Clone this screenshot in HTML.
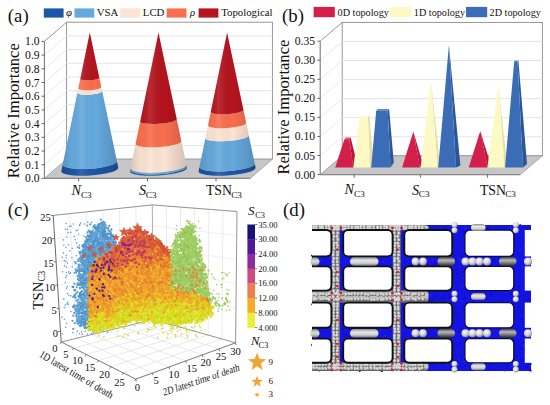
<!DOCTYPE html>
<html><head><meta charset="utf-8"><style>
html,body{margin:0;padding:0;background:#fff;}
svg{display:block;}
text{font-family:"Liberation Serif", serif;fill:#111;}
</style></head><body>
<svg width="550" height="405" viewBox="0 0 550 405">
<defs>
<linearGradient id="coneShade" x1="0" y1="0" x2="1" y2="0">
<stop offset="0" stop-color="#000" stop-opacity="0.14"/>
<stop offset="0.18" stop-color="#000" stop-opacity="0.02"/>
<stop offset="0.35" stop-color="#fff" stop-opacity="0.10"/>
<stop offset="0.6" stop-color="#000" stop-opacity="0.0"/>
<stop offset="1" stop-color="#000" stop-opacity="0.16"/>
</linearGradient>
<linearGradient id="grayTex" x1="0" y1="0" x2="0" y2="1">
<stop offset="0" stop-color="#7a7a7a"/><stop offset="0.3" stop-color="#d0d0d0"/><stop offset="0.6" stop-color="#bcbcbc"/><stop offset="1" stop-color="#5a5a5a"/>
</linearGradient>
<linearGradient id="grayTexV" x1="0" y1="0" x2="1" y2="0">
<stop offset="0" stop-color="#555"/><stop offset="0.25" stop-color="#d0d0d0"/><stop offset="0.5" stop-color="#707070"/><stop offset="0.75" stop-color="#d4d4d4"/><stop offset="1" stop-color="#555"/>
</linearGradient>
<radialGradient id="sphere" cx="0.4" cy="0.35" r="0.65">
<stop offset="0" stop-color="#fafafa"/><stop offset="0.6" stop-color="#d4d4d4"/><stop offset="1" stop-color="#8a8a8a"/>
</radialGradient>
<linearGradient id="pillG" x1="0" y1="0" x2="0" y2="1">
<stop offset="0" stop-color="#7a8a7a"/><stop offset="0.4" stop-color="#d8e0d0"/><stop offset="0.7" stop-color="#c0c8b8"/><stop offset="1" stop-color="#6a706a"/>
</linearGradient>
<linearGradient id="pillD" x1="0" y1="0" x2="0" y2="1">
<stop offset="0" stop-color="#3a3a3a"/><stop offset="0.35" stop-color="#b8b8b8"/><stop offset="0.6" stop-color="#8a8a8a"/><stop offset="1" stop-color="#2a2a2a"/>
</linearGradient>
<linearGradient id="pill" x1="0" y1="0" x2="0" y2="1">
<stop offset="0" stop-color="#8a8a8a"/><stop offset="0.35" stop-color="#e6e6e6"/><stop offset="0.7" stop-color="#cfcfcf"/><stop offset="1" stop-color="#707070"/>
</linearGradient>
</defs>
<rect x="66.6" y="22.2" width="205.79999999999998" height="137.00000000000003" fill="#fff" stroke="#8c8c8c" stroke-width="0.9"/>
<line x1="66.6" y1="35.90" x2="272.4" y2="35.90" stroke="#e2e2e2" stroke-width="0.9"/>
<line x1="66.6" y1="49.60" x2="272.4" y2="49.60" stroke="#e2e2e2" stroke-width="0.9"/>
<line x1="66.6" y1="63.30" x2="272.4" y2="63.30" stroke="#e2e2e2" stroke-width="0.9"/>
<line x1="66.6" y1="77.00" x2="272.4" y2="77.00" stroke="#e2e2e2" stroke-width="0.9"/>
<line x1="66.6" y1="90.70" x2="272.4" y2="90.70" stroke="#e2e2e2" stroke-width="0.9"/>
<line x1="66.6" y1="104.40" x2="272.4" y2="104.40" stroke="#e2e2e2" stroke-width="0.9"/>
<line x1="66.6" y1="118.10" x2="272.4" y2="118.10" stroke="#e2e2e2" stroke-width="0.9"/>
<line x1="66.6" y1="131.80" x2="272.4" y2="131.80" stroke="#e2e2e2" stroke-width="0.9"/>
<line x1="66.6" y1="145.50" x2="272.4" y2="145.50" stroke="#e2e2e2" stroke-width="0.9"/>
<line x1="44.4" y1="55.10" x2="66.6" y2="35.90" stroke="#e6e6e6" stroke-width="0.9"/>
<line x1="44.4" y1="68.80" x2="66.6" y2="49.60" stroke="#e6e6e6" stroke-width="0.9"/>
<line x1="44.4" y1="82.50" x2="66.6" y2="63.30" stroke="#e6e6e6" stroke-width="0.9"/>
<line x1="44.4" y1="96.20" x2="66.6" y2="77.00" stroke="#e6e6e6" stroke-width="0.9"/>
<line x1="44.4" y1="109.90" x2="66.6" y2="90.70" stroke="#e6e6e6" stroke-width="0.9"/>
<line x1="44.4" y1="123.60" x2="66.6" y2="104.40" stroke="#e6e6e6" stroke-width="0.9"/>
<line x1="44.4" y1="137.30" x2="66.6" y2="118.10" stroke="#e6e6e6" stroke-width="0.9"/>
<line x1="44.4" y1="151.00" x2="66.6" y2="131.80" stroke="#e6e6e6" stroke-width="0.9"/>
<line x1="44.4" y1="164.70" x2="66.6" y2="145.50" stroke="#e6e6e6" stroke-width="0.9"/>
<line x1="44.4" y1="41.4" x2="66.6" y2="22.2" stroke="#8c8c8c" stroke-width="0.9"/>
<polygon points="44.4,178.4 66.6,159.20000000000002 272.4,159.20000000000002 250.2,178.4" fill="#c6c6c6" stroke="#9a9a9a" stroke-width="0.8"/>
<line x1="44.4" y1="178.4" x2="250.2" y2="178.4" stroke="#8a8a8a" stroke-width="1.2"/>
<line x1="44.4" y1="41.4" x2="44.4" y2="178.4" stroke="#7a7a7a" stroke-width="1.1"/>
<line x1="41.6" y1="41.40" x2="44.4" y2="41.40" stroke="#555" stroke-width="0.9"/>
<text x="39.6" y="45.40" font-size="11.6" text-anchor="end">1.0</text>
<line x1="41.6" y1="55.10" x2="44.4" y2="55.10" stroke="#555" stroke-width="0.9"/>
<text x="39.6" y="59.10" font-size="11.6" text-anchor="end">0.9</text>
<line x1="41.6" y1="68.80" x2="44.4" y2="68.80" stroke="#555" stroke-width="0.9"/>
<text x="39.6" y="72.80" font-size="11.6" text-anchor="end">0.8</text>
<line x1="41.6" y1="82.50" x2="44.4" y2="82.50" stroke="#555" stroke-width="0.9"/>
<text x="39.6" y="86.50" font-size="11.6" text-anchor="end">0.7</text>
<line x1="41.6" y1="96.20" x2="44.4" y2="96.20" stroke="#555" stroke-width="0.9"/>
<text x="39.6" y="100.20" font-size="11.6" text-anchor="end">0.6</text>
<line x1="41.6" y1="109.90" x2="44.4" y2="109.90" stroke="#555" stroke-width="0.9"/>
<text x="39.6" y="113.90" font-size="11.6" text-anchor="end">0.5</text>
<line x1="41.6" y1="123.60" x2="44.4" y2="123.60" stroke="#555" stroke-width="0.9"/>
<text x="39.6" y="127.60" font-size="11.6" text-anchor="end">0.4</text>
<line x1="41.6" y1="137.30" x2="44.4" y2="137.30" stroke="#555" stroke-width="0.9"/>
<text x="39.6" y="141.30" font-size="11.6" text-anchor="end">0.3</text>
<line x1="41.6" y1="151.00" x2="44.4" y2="151.00" stroke="#555" stroke-width="0.9"/>
<text x="39.6" y="155.00" font-size="11.6" text-anchor="end">0.2</text>
<line x1="41.6" y1="164.70" x2="44.4" y2="164.70" stroke="#555" stroke-width="0.9"/>
<text x="39.6" y="168.70" font-size="11.6" text-anchor="end">0.1</text>
<line x1="41.6" y1="178.40" x2="44.4" y2="178.40" stroke="#555" stroke-width="0.9"/>
<text x="39.6" y="182.40" font-size="11.6" text-anchor="end">0.0</text>
<line x1="78.6" y1="178.4" x2="78.6" y2="181.4" stroke="#555" stroke-width="0.9"/>
<line x1="147.5" y1="178.4" x2="147.5" y2="181.4" stroke="#555" stroke-width="0.9"/>
<line x1="216.0" y1="178.4" x2="216.0" y2="181.4" stroke="#555" stroke-width="0.9"/>
<g transform="translate(89.8,0) skewY(-3.6) translate(-89.8,0)">
<path d="M62.65,163.02 A27.15,5.70 0 0 0 116.95,163.02 L118.30,169.50 A28.50,5.98 0 0 1 61.30,169.50 Z" fill="#1d56a6"/>
<path d="M77.40,92.06 A12.40,2.60 0 0 0 102.20,92.06 L116.95,163.02 A27.15,5.70 0 0 1 62.65,163.02 Z" fill="#64a9dd"/>
<path d="M78.29,87.78 A11.51,2.42 0 0 0 101.31,87.78 L102.20,92.06 A12.40,2.60 0 0 1 77.40,92.06 Z" fill="#fce3d3"/>
<path d="M80.26,78.28 A9.54,2.00 0 0 0 99.34,78.28 L101.31,87.78 A11.51,2.42 0 0 1 78.29,87.78 Z" fill="#f86e4e"/>
<path d="M89.80,32.39 L99.34,78.28 A9.54,2.00 0 0 1 80.26,78.28 Z" fill="#b3141e"/>
<path d="M89.80,32.39 L118.30,169.50 A28.50,5.98 0 0 1 61.30,169.50 Z" fill="url(#coneShade)"/>
</g>
<g transform="translate(158.5,0) skewY(-3.6) translate(-158.5,0)">
<path d="M130.23,168.40 A28.27,5.94 0 0 0 186.77,168.40 L187.00,169.50 A28.50,5.98 0 0 1 130.00,169.50 Z" fill="#1d56a6"/>
<path d="M130.60,166.61 A27.90,5.86 0 0 0 186.40,166.61 L186.77,168.40 A28.27,5.94 0 0 1 130.23,168.40 Z" fill="#64a9dd"/>
<path d="M135.64,142.35 A22.86,4.80 0 0 0 181.36,142.35 L186.40,166.61 A27.90,5.86 0 0 1 130.60,166.61 Z" fill="#fce3d3"/>
<path d="M140.28,120.03 A18.22,3.83 0 0 0 176.72,120.03 L181.36,142.35 A22.86,4.80 0 0 1 135.64,142.35 Z" fill="#f86e4e"/>
<path d="M158.50,32.39 L176.72,120.03 A18.22,3.83 0 0 1 140.28,120.03 Z" fill="#b3141e"/>
<path d="M158.50,32.39 L187.00,169.50 A28.50,5.98 0 0 1 130.00,169.50 Z" fill="url(#coneShade)"/>
</g>
<g transform="translate(227.1,0) skewY(-3.6) translate(-227.1,0)">
<path d="M199.46,165.37 A27.64,5.80 0 0 0 254.74,165.37 L255.60,169.50 A28.50,5.98 0 0 1 198.60,169.50 Z" fill="#1d56a6"/>
<path d="M205.45,136.57 A21.65,4.55 0 0 0 248.75,136.57 L254.74,165.37 A27.64,5.80 0 0 1 199.46,165.37 Z" fill="#64a9dd"/>
<path d="M208.05,124.03 A19.05,4.00 0 0 0 246.15,124.03 L248.75,136.57 A21.65,4.55 0 0 1 205.45,136.57 Z" fill="#fce3d3"/>
<path d="M210.80,110.80 A16.30,3.42 0 0 0 243.40,110.80 L246.15,124.03 A19.05,4.00 0 0 1 208.05,124.03 Z" fill="#f86e4e"/>
<path d="M227.10,32.39 L243.40,110.80 A16.30,3.42 0 0 1 210.80,110.80 Z" fill="#b3141e"/>
<path d="M227.10,32.39 L255.60,169.50 A28.50,5.98 0 0 1 198.60,169.50 Z" fill="url(#coneShade)"/>
</g>
<rect x="43.8" y="8.4" width="19.8" height="9.2" fill="#1d56a6"/>
<text x="66.0" y="16.2" font-size="10.8" font-style="italic">φ</text>
<rect x="74.5" y="8.4" width="19.8" height="9.2" fill="#64a9dd"/>
<text x="96.8" y="16.2" font-size="10.8">VSA</text>
<rect x="120.3" y="8.4" width="19.8" height="9.2" fill="#fce3d3"/>
<text x="142.8" y="16.2" font-size="10.8">LCD</text>
<rect x="166.7" y="8.4" width="19.8" height="9.2" fill="#f86e4e"/>
<text x="190.0" y="16.2" font-size="10.8" font-style="italic">ρ</text>
<rect x="198.6" y="8.4" width="19.8" height="9.2" fill="#b3141e"/>
<text x="221.2" y="16.2" font-size="10.8">Topological</text>
<text x="7.8" y="21.8" font-size="18.8">(a)</text>
<text transform="translate(19.4,178.2) rotate(-90)" font-size="16.6">Relative Importance</text>
<text x="71.4" y="194.9" font-size="14.2" font-style="italic">N</text><text x="80.9" y="197.7" font-size="9.2">C3</text>
<text x="139.0" y="195.3" font-size="14.2" font-style="italic">S</text><text x="145.8" y="197.9" font-size="9.2">C3</text>
<text x="205.9" y="195.3" font-size="13.8">TSN</text><text x="231.2" y="197.6" font-size="9.2">C3</text>
<rect x="342.2" y="22.400000000000002" width="200.2" height="133.39999999999998" fill="#fff" stroke="#8c8c8c" stroke-width="0.9"/>
<line x1="342.2" y1="41.46" x2="542.4" y2="41.46" stroke="#e2e2e2" stroke-width="0.9"/>
<line x1="342.2" y1="60.51" x2="542.4" y2="60.51" stroke="#e2e2e2" stroke-width="0.9"/>
<line x1="342.2" y1="79.57" x2="542.4" y2="79.57" stroke="#e2e2e2" stroke-width="0.9"/>
<line x1="342.2" y1="98.63" x2="542.4" y2="98.63" stroke="#e2e2e2" stroke-width="0.9"/>
<line x1="342.2" y1="117.69" x2="542.4" y2="117.69" stroke="#e2e2e2" stroke-width="0.9"/>
<line x1="342.2" y1="136.74" x2="542.4" y2="136.74" stroke="#e2e2e2" stroke-width="0.9"/>
<line x1="320.2" y1="60.26" x2="342.2" y2="41.46" stroke="#e6e6e6" stroke-width="0.9"/>
<line x1="320.2" y1="79.31" x2="342.2" y2="60.51" stroke="#e6e6e6" stroke-width="0.9"/>
<line x1="320.2" y1="98.37" x2="342.2" y2="79.57" stroke="#e6e6e6" stroke-width="0.9"/>
<line x1="320.2" y1="117.43" x2="342.2" y2="98.63" stroke="#e6e6e6" stroke-width="0.9"/>
<line x1="320.2" y1="136.49" x2="342.2" y2="117.69" stroke="#e6e6e6" stroke-width="0.9"/>
<line x1="320.2" y1="155.54" x2="342.2" y2="136.74" stroke="#e6e6e6" stroke-width="0.9"/>
<line x1="320.2" y1="41.2" x2="342.2" y2="22.400000000000002" stroke="#8c8c8c" stroke-width="0.9"/>
<polygon points="320.2,174.6 342.2,155.79999999999998 542.4,155.79999999999998 520.4,174.6" fill="#c6c6c6" stroke="#9a9a9a" stroke-width="0.8"/>
<line x1="320.2" y1="174.6" x2="520.4" y2="174.6" stroke="#8a8a8a" stroke-width="1.2"/>
<line x1="320.2" y1="41.2" x2="320.2" y2="174.6" stroke="#7a7a7a" stroke-width="1.1"/>
<line x1="317.4" y1="41.20" x2="320.2" y2="41.20" stroke="#555" stroke-width="0.9"/>
<text x="315.0" y="45.20" font-size="11.6" text-anchor="end">0.35</text>
<line x1="317.4" y1="60.26" x2="320.2" y2="60.26" stroke="#555" stroke-width="0.9"/>
<text x="315.0" y="64.26" font-size="11.6" text-anchor="end">0.30</text>
<line x1="317.4" y1="79.31" x2="320.2" y2="79.31" stroke="#555" stroke-width="0.9"/>
<text x="315.0" y="83.31" font-size="11.6" text-anchor="end">0.25</text>
<line x1="317.4" y1="98.37" x2="320.2" y2="98.37" stroke="#555" stroke-width="0.9"/>
<text x="315.0" y="102.37" font-size="11.6" text-anchor="end">0.20</text>
<line x1="317.4" y1="117.43" x2="320.2" y2="117.43" stroke="#555" stroke-width="0.9"/>
<text x="315.0" y="121.43" font-size="11.6" text-anchor="end">0.15</text>
<line x1="317.4" y1="136.49" x2="320.2" y2="136.49" stroke="#555" stroke-width="0.9"/>
<text x="315.0" y="140.49" font-size="11.6" text-anchor="end">0.10</text>
<line x1="317.4" y1="155.54" x2="320.2" y2="155.54" stroke="#555" stroke-width="0.9"/>
<text x="315.0" y="159.54" font-size="11.6" text-anchor="end">0.05</text>
<line x1="317.4" y1="174.60" x2="320.2" y2="174.60" stroke="#555" stroke-width="0.9"/>
<text x="315.0" y="178.60" font-size="11.6" text-anchor="end">0.00</text>
<line x1="354.2" y1="174.6" x2="354.2" y2="177.6" stroke="#555" stroke-width="0.9"/>
<line x1="420.4" y1="174.6" x2="420.4" y2="177.6" stroke="#555" stroke-width="0.9"/>
<line x1="487.6" y1="174.6" x2="487.6" y2="177.6" stroke="#555" stroke-width="0.9"/>
<polygon points="349.2,139.2 350.59999999999997,137.6 357.0,163.1 353.4,167.6" fill="#b8173e"/>
<polygon points="344.4,139.2 345.79999999999995,137.6 350.59999999999997,137.6 349.2,139.2" fill="#e4506f"/>
<polygon points="335.2,167.6 344.4,139.2 349.2,139.2 353.4,167.6" fill="#d41f4b"/>
<polygon points="367.9,116.9 369.29999999999995,115.30000000000001 373.6,163.1 370.0,167.6" fill="#e4dfa6"/>
<polygon points="359.6,116.9 361.0,115.30000000000001 369.29999999999995,115.30000000000001 367.9,116.9" fill="#fffbe0"/>
<polygon points="353.3,167.6 359.6,116.9 367.9,116.9 370.0,167.6" fill="#fdf9c4"/>
<polygon points="387.7,110.8 389.09999999999997,109.1 393.8,162.6 390.6,167.6" fill="#2b579a"/>
<polygon points="376.2,110.8 377.59999999999997,109.1 389.09999999999997,109.1 387.7,110.8" fill="#5a86c6"/>
<polygon points="371.2,167.6 376.2,110.8 387.7,110.8 390.6,167.6" fill="#3b6db6"/>
<polygon points="413.4,131.6 413.4,131.6 422.9,164.6 419.9,167.6" fill="#b8173e"/>
<polygon points="402.1,167.6 413.4,131.6 413.4,131.6 419.9,167.6" fill="#d41f4b"/>
<polygon points="430.9,80.8 430.9,80.8 440.1,164.6 437.6,167.6" fill="#e4dfa6"/>
<polygon points="420.6,167.6 430.9,80.8 430.9,80.8 437.6,167.6" fill="#fdf9c4"/>
<polygon points="448.9,45.0 448.9,45.0 460.4,165.4 456.0,167.6" fill="#2b579a"/>
<polygon points="438.2,167.6 448.9,45.0 448.9,45.0 456.0,167.6" fill="#3b6db6"/>
<polygon points="480.3,130.9 480.3,130.9 490.7,164.6 487.7,167.6" fill="#b8173e"/>
<polygon points="468.7,167.6 480.3,130.9 480.3,130.9 487.7,167.6" fill="#d41f4b"/>
<polygon points="498.3,85.3 498.3,85.3 507.1,164.6 504.6,167.6" fill="#e4dfa6"/>
<polygon points="487.4,167.6 498.3,85.3 498.3,85.3 504.6,167.6" fill="#fdf9c4"/>
<polygon points="517.6,61.2 518.4,60.6 527.0,164.1 523.0,167.6" fill="#2b579a"/>
<polygon points="514.2,61.2 515.0,60.6 518.4,60.6 517.6,61.2" fill="#5a86c6"/>
<polygon points="505.0,167.6 514.2,61.2 517.6,61.2 523.0,167.6" fill="#3b6db6"/>
<rect x="313.6" y="6.9" width="21.2" height="10.3" fill="#d41f4b"/>
<text x="337.6" y="15.6" font-size="10.2">0D topology</text>
<rect x="389.8" y="6.9" width="21.2" height="10.3" fill="#fdf9c4"/>
<text x="413.8" y="15.6" font-size="10.2">1D topology</text>
<rect x="466.0" y="6.9" width="21.2" height="10.3" fill="#3b6db6"/>
<text x="489.6" y="15.6" font-size="10.2">2D topology</text>
<text x="282.0" y="21.8" font-size="18.8">(b)</text>
<text transform="translate(289.4,174.6) rotate(-90)" font-size="16.6">Relative Importance</text>
<text x="344.6" y="194.2" font-size="14.2" font-style="italic">N</text><text x="354.1" y="197.0" font-size="9.2">C3</text>
<text x="412.0" y="194.6" font-size="14.2" font-style="italic">S</text><text x="418.8" y="197.2" font-size="9.2">C3</text>
<text x="479.9" y="194.6" font-size="13.8">TSN</text><text x="505.2" y="197.0" font-size="9.2">C3</text>
<polygon points="53.2,215.4 152.3,204.9 153.3,319.5 61.2,342.0" fill="#fff"/>
<line x1="69.7" y1="213.7" x2="76.6" y2="338.2" stroke="#e4e4e4" stroke-width="0.8"/>
<line x1="166.4" y1="206.0" x2="167.0" y2="323.4" stroke="#e4e4e4" stroke-width="0.8"/>
<line x1="86.2" y1="211.9" x2="91.9" y2="334.5" stroke="#e4e4e4" stroke-width="0.8"/>
<line x1="180.5" y1="207.1" x2="180.7" y2="327.3" stroke="#e4e4e4" stroke-width="0.8"/>
<line x1="102.8" y1="210.2" x2="107.2" y2="330.8" stroke="#e4e4e4" stroke-width="0.8"/>
<line x1="194.7" y1="208.2" x2="194.4" y2="331.1" stroke="#e4e4e4" stroke-width="0.8"/>
<line x1="119.3" y1="208.4" x2="122.6" y2="327.0" stroke="#e4e4e4" stroke-width="0.8"/>
<line x1="208.8" y1="209.3" x2="208.2" y2="335.0" stroke="#e4e4e4" stroke-width="0.8"/>
<line x1="135.8" y1="206.7" x2="138.0" y2="323.2" stroke="#e4e4e4" stroke-width="0.8"/>
<line x1="222.9" y1="210.4" x2="221.9" y2="338.9" stroke="#e4e4e4" stroke-width="0.8"/>
<polyline points="59.1,308.3 153.0,289.0 236.0,307.8" fill="none" stroke="#ececec" stroke-width="0.8"/>
<polyline points="57.6,285.1 152.9,268.0 236.2,283.7" fill="none" stroke="#ececec" stroke-width="0.8"/>
<polyline points="56.1,261.8 152.7,246.9 236.5,259.7" fill="none" stroke="#ececec" stroke-width="0.8"/>
<polyline points="54.7,238.6 152.5,225.9 236.7,235.6" fill="none" stroke="#ececec" stroke-width="0.8"/>
<polyline points="53.2,215.4 152.3,204.9 237.0,211.5" fill="none" stroke="#ececec" stroke-width="0.8"/>
<line x1="73.6" y1="348.2" x2="167.0" y2="323.4" stroke="#e2e2e2" stroke-width="0.8"/>
<line x1="152.4" y1="373.1" x2="76.6" y2="338.2" stroke="#e2e2e2" stroke-width="0.8"/>
<line x1="86.1" y1="354.4" x2="180.7" y2="327.3" stroke="#e2e2e2" stroke-width="0.8"/>
<line x1="169.1" y1="367.0" x2="91.9" y2="334.5" stroke="#e2e2e2" stroke-width="0.8"/>
<line x1="98.5" y1="360.6" x2="194.4" y2="331.1" stroke="#e2e2e2" stroke-width="0.8"/>
<line x1="185.7" y1="361.0" x2="107.2" y2="330.8" stroke="#e2e2e2" stroke-width="0.8"/>
<line x1="110.9" y1="366.7" x2="208.2" y2="335.0" stroke="#e2e2e2" stroke-width="0.8"/>
<line x1="202.3" y1="354.9" x2="122.6" y2="327.0" stroke="#e2e2e2" stroke-width="0.8"/>
<line x1="123.4" y1="372.9" x2="221.9" y2="338.9" stroke="#e2e2e2" stroke-width="0.8"/>
<line x1="219.0" y1="348.9" x2="138.0" y2="323.2" stroke="#e2e2e2" stroke-width="0.8"/>
<polyline points="53.2,215.4 152.3,204.9 237.0,211.5 235.6,342.8" fill="none" stroke="#8a8a8a" stroke-width="0.9"/>
<line x1="152.3" y1="204.9" x2="153.3" y2="319.5" stroke="#9a9a9a" stroke-width="0.8"/>
<polyline points="61.2,342.0 153.3,319.5 235.6,342.8" fill="none" stroke="#7a7a7a" stroke-width="0.8"/>
<polyline points="61.2,342.0 135.8,379.1 235.6,342.8" fill="none" stroke="#6a6a6a" stroke-width="0.9"/>
<line x1="53.2" y1="215.4" x2="61.2" y2="342.0" stroke="#6a6a6a" stroke-width="1"/>
<line x1="50.7" y1="215.4" x2="53.2" y2="215.4" stroke="#555" stroke-width="0.8"/>
<text x="50.7" y="221.0" font-size="10.4" text-anchor="end">25</text>
<line x1="52.2" y1="238.6" x2="54.7" y2="238.6" stroke="#555" stroke-width="0.8"/>
<text x="52.2" y="244.2" font-size="10.4" text-anchor="end">20</text>
<line x1="53.6" y1="261.8" x2="56.1" y2="261.8" stroke="#555" stroke-width="0.8"/>
<text x="53.6" y="267.4" font-size="10.4" text-anchor="end">15</text>
<line x1="55.1" y1="285.1" x2="57.6" y2="285.1" stroke="#555" stroke-width="0.8"/>
<text x="55.1" y="290.7" font-size="10.4" text-anchor="end">10</text>
<line x1="56.6" y1="308.3" x2="59.1" y2="308.3" stroke="#555" stroke-width="0.8"/>
<text x="56.6" y="313.9" font-size="10.4" text-anchor="end">5</text>
<line x1="58.0" y1="331.5" x2="60.5" y2="331.5" stroke="#555" stroke-width="0.8"/>
<text x="58.0" y="337.1" font-size="10.4" text-anchor="end">0</text>
<text x="55" y="352.3" font-size="10.6" text-anchor="middle">0</text>
<text x="66" y="358.3" font-size="10.6" text-anchor="middle">5</text>
<text x="77.6" y="364.3" font-size="10.6" text-anchor="middle">10</text>
<text x="90" y="370.7" font-size="10.6" text-anchor="middle">15</text>
<text x="104.4" y="377.7" font-size="10.6" text-anchor="middle">20</text>
<text x="119.6" y="386.3" font-size="10.6" text-anchor="middle">25</text>
<line x1="135.8" y1="379.1" x2="136.4" y2="381.3" stroke="#555" stroke-width="0.7"/>
<line x1="152.4" y1="373.1" x2="153.0" y2="375.2" stroke="#555" stroke-width="0.7"/>
<line x1="169.1" y1="367.0" x2="169.7" y2="369.2" stroke="#555" stroke-width="0.7"/>
<line x1="185.7" y1="361.0" x2="186.3" y2="363.2" stroke="#555" stroke-width="0.7"/>
<line x1="202.3" y1="354.9" x2="202.9" y2="357.1" stroke="#555" stroke-width="0.7"/>
<line x1="219.0" y1="348.9" x2="219.6" y2="351.1" stroke="#555" stroke-width="0.7"/>
<line x1="235.6" y1="342.8" x2="236.2" y2="345.0" stroke="#555" stroke-width="0.7"/>
<line x1="61.2" y1="342.0" x2="60.0" y2="344.0" stroke="#555" stroke-width="0.7"/>
<line x1="73.6" y1="348.2" x2="72.4" y2="350.2" stroke="#555" stroke-width="0.7"/>
<line x1="86.1" y1="354.4" x2="84.9" y2="356.4" stroke="#555" stroke-width="0.7"/>
<line x1="98.5" y1="360.6" x2="97.3" y2="362.6" stroke="#555" stroke-width="0.7"/>
<line x1="110.9" y1="366.7" x2="109.7" y2="368.7" stroke="#555" stroke-width="0.7"/>
<line x1="123.4" y1="372.9" x2="122.2" y2="374.9" stroke="#555" stroke-width="0.7"/>
<line x1="135.8" y1="379.1" x2="134.6" y2="381.1" stroke="#555" stroke-width="0.7"/>
<text x="137.3" y="391.0" font-size="10.6" text-anchor="middle">0</text>
<text x="156.1" y="384.3" font-size="10.6" text-anchor="middle">5</text>
<text x="173.9" y="378.0" font-size="10.6" text-anchor="middle">10</text>
<text x="191.7" y="371.7" font-size="10.6" text-anchor="middle">15</text>
<text x="205.7" y="365.9" font-size="10.6" text-anchor="middle">20</text>
<text x="221" y="360.2" font-size="10.6" text-anchor="middle">25</text>
<text x="235.6" y="355.0" font-size="10.6" text-anchor="middle">30</text>
<text transform="translate(38.4,356.2) rotate(30.5) scale(0.87,1)" font-size="10.6">1D latest time of death</text>
<text transform="translate(163.8,395.8) rotate(-18.4) skewX(-8) scale(0.85,1)" font-size="10.4">2D latest time of death</text>
<text transform="translate(43.4,309.4) rotate(-90)" font-size="14.6">TSN</text>
<text transform="translate(44.9,281.6) rotate(-90)" font-size="9.3">C3</text>
<text x="7.8" y="215.6" font-size="18.8">(c)</text>
<path d="M91.4 308.1h0M84.6 282.5h0M93.2 291.8h0M90.0 283.6h0M95.9 238.2h0M106.0 273.6h0M88.5 282.5h0M96.4 315.6h0M100.4 271.6h0M108.4 237.2h0M94.6 294.6h0M100.9 280.0h0M89.6 257.5h0M101.8 290.1h0M90.8 234.4h0M88.1 262.7h0M90.5 235.5h0M114.3 249.8h0M84.6 265.4h0M84.0 265.9h0M115.3 241.4h0M99.0 294.5h0M83.9 284.4h0M104.7 242.7h0M101.7 226.7h0M89.1 241.7h0M91.1 323.6h0M100.1 260.7h0M97.2 241.0h0M96.0 287.8h0M84.9 245.6h0M77.8 318.7h0M88.8 304.9h0M97.3 259.5h0M81.5 256.4h0M96.0 299.5h0M97.0 300.6h0M85.2 307.8h0M93.5 238.1h0M76.5 316.4h0M96.1 289.5h0M84.7 255.7h0M85.4 266.8h0M93.1 320.6h0M90.4 293.6h0M88.2 316.4h0M111.7 246.2h0M75.3 297.3h0M92.5 245.1h0M97.4 300.2h0M108.4 255.4h0M110.1 246.7h0M88.7 239.7h0M92.8 274.0h0M83.4 258.1h0M113.9 253.5h0M89.3 299.6h0M93.0 322.2h0M111.8 256.9h0M87.9 278.9h0M93.3 273.6h0M85.9 293.1h0M96.4 256.6h0M102.6 244.8h0M89.9 310.7h0M97.9 243.8h0M83.4 264.3h0M103.0 248.1h0M97.3 272.2h0M111.6 257.4h0M85.5 271.7h0M105.3 266.9h0M99.4 285.9h0M91.5 282.7h0M80.6 251.6h0M83.7 294.2h0M98.1 226.8h0M100.0 289.1h0M110.6 256.7h0M101.8 256.5h0M93.9 289.7h0M98.6 258.0h0M85.2 326.7h0M80.2 303.4h0M91.3 321.7h0M97.4 256.9h0M78.5 309.6h0M94.1 245.0h0M86.5 292.2h0M100.1 279.7h0M92.6 266.3h0M109.8 230.9h0M84.4 319.9h0M87.1 286.9h0M83.3 318.9h0M83.6 308.8h0M90.7 306.6h0M103.3 255.8h0M104.9 237.3h0M102.7 263.5h0M88.1 277.9h0M87.1 324.1h0M107.9 250.7h0M108.6 240.1h0M87.5 308.6h0M88.9 286.3h0M95.8 307.7h0M94.5 263.7h0M82.3 257.9h0M93.4 289.8h0M96.2 228.7h0M79.9 305.2h0M93.0 233.2h0M80.2 323.6h0M79.2 266.7h0M105.2 245.5h0M82.6 262.9h0M109.3 234.2h0M95.2 323.0h0M83.1 264.9h0M91.9 279.7h0M92.7 294.0h0M88.4 264.4h0M97.0 240.7h0M97.0 235.0h0M94.3 237.6h0M105.7 236.5h0M85.5 250.7h0M110.3 237.3h0M86.3 286.9h0M104.2 259.9h0M97.0 309.6h0M87.2 288.7h0M92.7 275.8h0M79.7 294.8h0M104.4 224.5h0M88.8 291.7h0M101.3 244.1h0M104.5 234.4h0M111.0 241.6h0M86.8 321.6h0M87.5 293.0h0M104.2 247.0h0M99.0 245.1h0M92.1 235.1h0M103.3 233.2h0M93.9 262.2h0M98.5 296.5h0M86.1 303.2h0M85.6 265.9h0M95.4 273.8h0M91.4 265.6h0M97.2 241.3h0M93.5 245.0h0M104.5 240.9h0M105.7 243.1h0M84.3 300.3h0M93.6 238.7h0M101.0 244.2h0M94.6 269.4h0M98.1 289.2h0M88.3 246.0h0M84.1 298.6h0M93.4 246.5h0M100.3 263.5h0M86.2 313.8h0M89.3 274.4h0M103.9 282.9h0M90.7 263.6h0M94.9 288.7h0M88.1 279.8h0M103.1 253.1h0M85.4 254.1h0M98.4 256.2h0M113.8 247.0h0M111.8 247.0h0M100.7 246.0h0M80.4 299.1h0M96.9 285.1h0M98.0 269.1h0M104.1 230.8h0M93.2 306.8h0M96.5 319.6h0M92.7 281.3h0M88.8 262.2h0M91.5 236.3h0M88.3 322.7h0M93.3 314.4h0M84.4 295.2h0M89.6 319.8h0M101.3 232.6h0M100.9 277.7h0M106.3 257.2h0M83.9 325.5h0M85.0 250.8h0M93.2 254.0h0M89.5 282.8h0M94.0 323.0h0M81.7 306.9h0M101.4 260.5h0M96.7 239.3h0M104.3 264.0h0M88.1 256.5h0M103.7 282.1h0M84.9 279.2h0M94.8 279.9h0M95.8 286.3h0M103.7 289.2h0M92.2 279.3h0M95.3 324.9h0M103.5 235.3h0M103.0 278.2h0M102.5 223.4h0M95.2 311.2h0M81.7 276.6h0M91.6 291.7h0M102.1 285.6h0M101.4 268.5h0M101.4 286.1h0M103.0 270.2h0M99.0 259.0h0M99.1 231.4h0M93.2 236.0h0M95.4 251.5h0M79.7 325.9h0M98.1 308.6h0" stroke="#5a9fd3" stroke-width="2.2" stroke-linecap="round" fill="none"/>
<path d="M100.8 228.6h0M102.3 287.0h0M85.1 246.3h0M84.2 321.3h0M94.1 307.3h0M113.3 237.1h0M92.8 278.6h0M81.8 324.8h0M96.2 259.8h0M95.5 285.6h0M104.4 244.1h0M87.8 305.0h0M112.7 235.8h0M99.7 306.7h0M97.7 303.3h0M107.8 248.4h0M91.7 279.2h0M105.5 233.9h0M97.0 313.0h0M97.8 237.8h0M81.6 309.2h0M94.0 266.9h0M84.9 244.7h0M111.3 247.0h0M81.7 262.6h0M89.8 291.9h0M83.1 295.2h0M101.3 267.0h0M104.4 226.7h0M96.8 251.9h0M104.6 230.8h0M103.3 244.7h0M95.5 247.1h0M98.7 280.3h0M104.3 270.2h0M85.0 249.4h0M88.4 292.0h0M77.1 321.2h0M89.1 304.8h0M85.6 325.5h0M83.8 264.5h0M87.4 317.4h0M83.5 322.4h0M102.7 249.2h0M83.0 263.9h0M88.7 261.3h0M100.8 279.1h0M76.5 315.7h0M99.0 261.4h0M96.4 233.7h0M89.5 290.0h0M90.7 311.3h0M86.4 302.3h0M91.7 257.2h0M97.9 269.3h0M83.9 263.3h0M103.6 277.2h0M77.5 311.3h0M101.0 295.0h0M109.7 246.3h0M86.2 268.8h0M112.1 254.8h0M91.1 237.5h0M100.4 235.1h0M101.2 252.5h0M97.4 314.4h0M98.8 296.3h0M97.8 303.7h0M101.1 277.1h0M76.0 306.3h0M90.6 264.9h0M95.2 289.7h0M85.8 278.4h0M82.3 280.3h0M97.8 233.9h0M101.0 236.6h0M104.3 235.8h0M89.6 272.2h0M94.4 248.9h0M85.8 244.3h0M97.0 306.2h0M95.0 264.0h0M97.1 313.2h0M98.2 228.6h0M100.1 253.3h0M87.5 293.7h0M79.4 303.6h0M89.4 265.5h0M105.2 252.3h0M81.1 292.2h0" stroke="#4a8cc6" stroke-width="2.2" stroke-linecap="round" fill="none"/>
<path d="M100.3 266.9h0M85.6 274.0h0M102.1 288.8h0M98.5 230.5h0M85.7 321.8h0M88.9 254.6h0M90.8 309.7h0M80.8 302.8h0M86.9 263.1h0M99.4 261.1h0M82.7 271.5h0M98.7 261.8h0M106.2 254.7h0M87.1 303.1h0M80.5 268.0h0M91.3 328.9h0M81.0 253.3h0M93.2 308.5h0M105.5 258.3h0M107.4 251.8h0M94.3 246.7h0M95.6 314.3h0M94.6 281.6h0M89.3 289.3h0M96.1 278.7h0M80.5 316.6h0M102.5 252.0h0M85.1 241.3h0M94.6 254.0h0M83.3 275.8h0M103.2 258.1h0M79.4 304.2h0M101.5 260.6h0M89.3 231.6h0M99.0 260.6h0M97.3 298.7h0M101.2 261.3h0M96.0 254.1h0M88.3 239.4h0M83.9 262.1h0M107.4 276.0h0M104.2 257.5h0M105.4 265.9h0M84.6 249.7h0M81.7 281.1h0M85.8 268.2h0M92.7 321.3h0M91.5 293.8h0M84.9 324.2h0M95.5 232.6h0M90.9 253.0h0M89.6 305.9h0M96.9 266.5h0M92.4 312.8h0M93.1 276.9h0M84.4 304.1h0M87.2 313.6h0" stroke="#6aaad8" stroke-width="2.2" stroke-linecap="round" fill="none"/>
<path d="M109.5 255.8h0M93.8 314.7h0M108.9 250.0h0M88.5 261.6h0M96.5 323.5h0M75.9 293.7h0M90.0 316.2h0M93.5 279.1h0M90.9 298.2h0M86.9 272.6h0M100.6 265.4h0M79.3 270.9h0M86.3 269.9h0M95.1 287.7h0M110.2 242.2h0M84.9 265.5h0M83.1 250.0h0M93.4 293.1h0M94.6 242.0h0M108.3 253.6h0M87.1 308.0h0M107.8 250.8h0M105.0 279.9h0M89.0 307.7h0M94.3 279.9h0M93.5 232.9h0M111.0 239.1h0M103.6 251.4h0M98.4 271.2h0M105.7 238.4h0M110.2 257.8h0M100.9 289.1h0M88.7 298.2h0M89.7 264.4h0M93.9 236.9h0M91.1 247.3h0M92.3 290.1h0M88.9 243.7h0M85.0 248.1h0M78.7 296.7h0M82.0 268.3h0M83.0 281.0h0M96.6 318.5h0M83.7 322.9h0M79.5 306.4h0M87.6 291.8h0M99.1 292.4h0M89.7 276.0h0M104.7 267.0h0M91.4 238.4h0M81.0 326.0h0M96.9 235.8h0M90.1 282.4h0M78.4 283.6h0M95.7 260.1h0M92.3 236.8h0M98.8 313.6h0M93.5 268.4h0M86.1 320.5h0M89.5 285.5h0M99.2 287.3h0M94.0 327.1h0M92.0 262.9h0M86.7 240.5h0M105.6 237.4h0M106.7 234.8h0M74.8 295.7h0M89.0 296.2h0M103.9 222.3h0M78.5 279.9h0M103.5 247.4h0M109.6 237.7h0M82.9 283.7h0M95.5 226.8h0M79.4 303.5h0M88.7 236.7h0M91.0 325.8h0M85.8 301.7h0M87.9 318.5h0M87.0 272.6h0M98.0 256.7h0M103.4 272.0h0M92.2 315.5h0M99.6 225.5h0M90.9 237.0h0M97.9 281.0h0M105.6 276.5h0M84.1 246.4h0M103.0 263.8h0M77.2 308.2h0M89.4 275.0h0M95.6 240.3h0M99.4 239.5h0M103.5 266.3h0M108.8 248.2h0M106.5 270.9h0M96.1 293.7h0M106.2 271.1h0M95.7 269.6h0M83.7 247.5h0M106.6 242.2h0M99.3 262.2h0M93.5 267.8h0M87.3 264.5h0M100.6 297.0h0M85.1 312.0h0M100.2 258.4h0M92.6 282.6h0M102.2 269.8h0M77.5 285.1h0M84.9 327.9h0M93.0 309.1h0M105.0 232.2h0M86.4 255.9h0M99.9 295.9h0M112.5 237.4h0M90.4 231.3h0M93.5 254.9h0M88.2 292.6h0M94.8 280.3h0M101.3 277.6h0M98.1 272.8h0M89.3 292.7h0M84.3 278.7h0M99.3 248.8h0M91.9 242.2h0M79.3 280.3h0M81.2 303.2h0M108.8 260.8h0M96.2 231.1h0M104.6 246.4h0M82.6 250.1h0M110.0 261.2h0M88.3 278.4h0M92.2 320.8h0M91.8 306.1h0M90.1 248.8h0M100.5 251.7h0M101.5 231.1h0M106.0 270.9h0M87.9 286.1h0M87.5 316.9h0M88.5 253.7h0M90.1 293.8h0M102.9 297.6h0M82.3 276.2h0M91.4 297.3h0M105.3 247.4h0M87.0 293.5h0M81.4 284.2h0M88.7 259.5h0M82.0 307.3h0M92.1 255.6h0M88.0 310.0h0M90.7 312.1h0M95.0 287.7h0M83.9 307.0h0M89.1 236.9h0M72.5 286.7h0M105.6 275.6h0M103.6 272.7h0M88.6 301.8h0M75.6 269.3h0M91.1 299.3h0M94.8 276.7h0M96.5 273.3h0M104.9 255.5h0M84.4 253.9h0M104.4 228.2h0M109.5 249.6h0M98.4 284.2h0M104.2 269.0h0M92.5 283.3h0M90.8 250.1h0M85.5 270.2h0M105.2 267.0h0M97.4 251.1h0M103.7 254.5h0M103.4 282.1h0M89.1 316.9h0M102.8 273.5h0M96.0 307.6h0M92.0 278.6h0M99.2 283.2h0M91.4 271.0h0M78.9 308.5h0M113.1 257.5h0M85.7 260.4h0M91.1 275.7h0M96.8 291.9h0M97.2 255.0h0M85.0 263.7h0M97.2 277.2h0M93.8 304.2h0M95.7 267.4h0M100.4 279.9h0M81.6 309.7h0M95.4 319.4h0M86.1 269.4h0M101.9 271.1h0M110.4 266.7h0M94.3 265.7h0M90.4 236.7h0M81.0 297.4h0M90.4 317.4h0M99.3 286.1h0M105.0 241.0h0M103.6 245.4h0M90.2 224.4h0M105.8 255.0h0M109.2 260.0h0M82.4 310.5h0M83.1 312.1h0M88.5 265.6h0M94.4 242.7h0M95.8 231.5h0M99.2 275.3h0M85.3 265.7h0M93.6 294.6h0M87.2 278.1h0M112.7 250.0h0M86.8 273.2h0M105.2 267.6h0M101.3 257.3h0M98.8 268.7h0M84.2 288.1h0" stroke="#5a9fd3" stroke-width="2.2" stroke-linecap="round" fill="none"/>
<path d="M92.9 259.9h0M111.1 235.9h0M81.9 298.3h0M84.9 256.0h0M99.5 296.6h0M115.9 245.9h0M84.9 320.7h0M110.1 247.6h0M96.1 257.3h0M84.2 260.9h0M83.5 265.5h0M97.1 291.7h0M81.8 284.8h0M82.1 297.8h0M87.0 239.6h0M83.5 274.4h0M86.6 325.1h0M102.0 258.6h0M98.3 262.8h0M82.0 316.6h0M88.0 236.2h0M82.0 291.0h0M109.4 248.9h0M95.7 275.0h0M117.6 249.4h0M110.4 233.1h0M93.6 265.1h0M83.1 303.7h0M79.8 258.4h0M84.0 253.8h0M102.9 249.7h0M89.1 318.6h0M110.9 257.5h0M102.7 261.2h0M86.7 252.9h0M96.7 261.6h0M103.1 275.5h0M94.8 277.7h0M96.8 266.7h0M110.4 238.8h0M78.6 313.9h0M91.7 327.8h0M111.8 245.8h0M88.9 274.8h0M100.7 270.2h0M90.8 232.8h0M82.1 287.3h0M110.9 244.3h0M82.6 268.9h0M104.1 265.9h0M107.6 248.1h0M82.6 262.7h0M80.8 274.7h0M85.5 306.9h0M104.1 237.1h0M98.8 283.1h0M77.7 276.1h0M88.0 293.8h0M83.9 272.7h0M83.5 287.0h0M90.0 312.5h0M102.8 270.4h0M80.3 308.5h0M89.7 254.5h0M107.5 255.4h0M100.3 251.5h0M80.7 322.4h0M99.2 284.3h0M85.4 285.9h0M77.6 321.4h0M81.4 306.5h0M86.5 298.6h0M91.4 256.6h0M80.8 277.9h0M101.7 256.1h0M101.5 256.1h0M89.7 237.1h0M94.7 307.0h0M94.4 327.1h0M84.8 324.1h0M87.3 266.3h0M95.2 324.0h0M90.8 233.3h0M101.7 268.4h0M81.4 261.0h0M103.3 229.2h0M97.0 292.5h0M81.4 321.5h0M93.8 282.1h0" stroke="#4a8cc6" stroke-width="2.2" stroke-linecap="round" fill="none"/>
<path d="M84.3 264.1h0M78.7 269.5h0M85.5 242.4h0M100.5 254.3h0M92.1 242.8h0M90.4 321.5h0M103.2 226.5h0M102.1 267.8h0M90.6 316.9h0M103.4 249.8h0M82.8 310.2h0M88.0 300.3h0M99.0 305.2h0M93.3 307.3h0M100.9 241.3h0M83.4 297.4h0M95.9 314.9h0M93.1 230.0h0M99.5 241.8h0M105.3 254.7h0M96.9 299.1h0M97.9 266.4h0M107.4 276.8h0M91.8 275.6h0M87.6 261.6h0M86.6 290.7h0M89.2 318.9h0M94.2 294.1h0M102.0 245.7h0M76.8 309.1h0M103.5 281.7h0M92.1 256.2h0M94.0 261.7h0M99.1 316.8h0M78.1 259.6h0M82.2 287.3h0M83.8 311.4h0M102.1 230.7h0M100.7 276.0h0M106.1 254.9h0M98.7 261.6h0M95.5 291.7h0M77.7 247.0h0M108.8 259.7h0M99.8 293.0h0M98.1 307.2h0M91.3 300.4h0M83.3 298.5h0M82.1 253.3h0M85.2 254.0h0M86.1 316.2h0M78.7 315.1h0M98.0 254.1h0M94.3 268.4h0M102.1 269.9h0M86.3 293.2h0M96.9 247.0h0" stroke="#6aaad8" stroke-width="2.2" stroke-linecap="round" fill="none"/>
<path d="M99.0 261.6h0M89.9 301.8h0M88.4 290.6h0M95.8 237.2h0M79.7 302.0h0M103.1 271.0h0M107.3 245.2h0M78.9 273.7h0M94.9 279.2h0M93.9 258.7h0M91.4 258.7h0M108.3 266.3h0M81.5 325.0h0M102.3 242.0h0M106.2 279.7h0M85.6 322.8h0M96.6 316.4h0M99.5 252.0h0M107.0 243.7h0M103.8 223.6h0M106.4 267.7h0M103.7 242.9h0M87.0 279.6h0M85.2 274.1h0M100.8 256.4h0M78.2 267.5h0M104.0 239.0h0M91.6 240.4h0M89.8 251.5h0M85.1 255.5h0M100.0 295.1h0M84.6 313.0h0M93.6 244.4h0M86.7 254.5h0M99.2 265.4h0M98.8 271.1h0M105.4 278.4h0M88.7 280.6h0M91.8 242.0h0M98.1 302.9h0M90.9 280.0h0M99.0 289.5h0M99.0 244.2h0M99.6 224.1h0M87.5 290.1h0M95.9 319.3h0M104.5 270.8h0M76.7 287.3h0M89.4 320.0h0M100.8 219.6h0M73.2 315.7h0M79.2 305.1h0M85.6 303.3h0M90.9 264.2h0M93.8 226.3h0M81.5 265.7h0M107.8 278.9h0M100.6 253.4h0M95.1 327.4h0M94.5 309.1h0M84.3 325.4h0M97.3 267.3h0M95.6 322.5h0M78.9 306.1h0M86.3 321.9h0M86.9 291.9h0M102.2 261.4h0M77.0 305.8h0M83.1 282.1h0M86.9 307.7h0M86.3 281.3h0M83.3 270.2h0M98.5 254.1h0M76.0 310.9h0M103.0 224.3h0M80.3 308.2h0M97.4 252.1h0M102.6 274.8h0M98.6 247.4h0M96.7 249.0h0M93.6 324.3h0M86.9 319.1h0M97.8 269.2h0M88.9 230.7h0M82.6 284.6h0M82.7 286.6h0M90.4 329.5h0M103.0 252.4h0M94.0 273.4h0M100.7 271.9h0M96.4 262.3h0M105.4 273.5h0M97.1 254.8h0M103.0 231.9h0M85.8 270.1h0M78.0 278.9h0M84.2 301.8h0M99.2 238.6h0M108.5 253.3h0M87.9 310.7h0M80.0 320.2h0M100.6 281.0h0M96.7 310.5h0M79.9 316.9h0M105.5 258.0h0M104.5 270.6h0M85.9 281.9h0M87.4 232.4h0M78.0 302.6h0M102.3 297.4h0M80.9 262.1h0M94.5 286.6h0M103.2 237.1h0M85.4 304.1h0M98.0 294.0h0M98.7 284.9h0M85.8 260.8h0M98.4 292.8h0M80.1 274.2h0M96.2 271.7h0M100.8 286.2h0M96.5 239.6h0M103.3 238.7h0M86.0 266.1h0M95.0 295.6h0M97.5 261.0h0M104.2 241.7h0M86.1 240.3h0M107.0 236.2h0M95.8 275.4h0M91.4 263.0h0M88.6 276.3h0M89.3 254.0h0M89.1 291.1h0M86.5 240.1h0M96.4 272.7h0M87.8 303.2h0M88.9 319.2h0M102.8 235.2h0M91.4 311.7h0M80.9 322.2h0M99.8 307.3h0M96.0 320.0h0M87.9 239.6h0M96.7 323.0h0M91.7 257.5h0M79.9 269.6h0M91.5 259.5h0M98.7 242.4h0M91.3 323.3h0M97.1 280.4h0M87.8 300.9h0M96.0 236.1h0M96.1 300.0h0M102.6 277.5h0M107.5 242.0h0M98.8 274.7h0M79.6 283.7h0M100.7 237.5h0M82.2 264.5h0M84.2 289.3h0M108.3 243.6h0M94.3 237.0h0M89.3 264.8h0M107.0 247.2h0M96.0 309.7h0M74.5 283.8h0M89.0 310.8h0M83.1 283.8h0M86.1 306.2h0M106.9 247.5h0M106.7 238.7h0M107.6 246.2h0M91.1 269.0h0M96.3 278.2h0M96.7 276.5h0M91.5 245.6h0M102.9 245.1h0M85.7 315.4h0M95.7 232.9h0M87.8 324.4h0M79.0 322.7h0M112.7 240.8h0M92.7 301.1h0M96.4 261.5h0M98.2 270.4h0M87.9 287.6h0M90.1 317.0h0M102.5 265.6h0M94.1 242.1h0M91.9 233.8h0M88.2 257.3h0M89.1 279.9h0M100.0 271.3h0M88.5 325.6h0M95.9 251.4h0M83.9 253.7h0M102.7 260.4h0M79.6 264.8h0M97.5 304.2h0M98.4 279.6h0M89.8 326.3h0M100.2 276.0h0M81.8 283.3h0M94.3 289.8h0M87.1 319.8h0M94.8 241.9h0M98.4 266.9h0M86.2 274.7h0M74.7 323.2h0M105.7 271.8h0M83.8 301.0h0M97.1 287.8h0M96.6 241.6h0M106.1 275.6h0M96.9 320.9h0M78.0 299.8h0M101.7 245.4h0M94.4 240.5h0M82.8 306.5h0M94.3 234.8h0M96.1 302.0h0M78.7 318.5h0M108.5 244.7h0M94.2 247.0h0M100.3 276.1h0" stroke="#5a9fd3" stroke-width="2.2" stroke-linecap="round" fill="none"/>
<path d="M95.5 264.8h0M98.5 249.6h0M93.7 320.9h0M107.6 252.6h0M99.6 294.0h0M100.9 253.5h0M94.1 281.6h0M83.1 294.5h0M90.1 325.2h0M97.1 242.9h0M96.0 262.5h0M91.2 314.9h0M105.5 271.7h0M93.5 306.3h0M104.5 276.2h0M98.2 257.0h0M93.3 273.0h0M96.7 268.2h0M82.4 278.6h0M91.9 251.9h0M95.4 311.3h0M73.2 287.2h0M84.6 327.4h0M82.9 286.8h0M95.0 260.8h0M103.7 292.3h0M84.9 269.2h0M79.8 321.1h0M90.5 259.7h0M103.6 278.2h0M104.3 255.5h0M105.2 252.1h0M88.5 283.7h0M90.7 300.3h0M80.4 280.3h0M105.7 243.1h0M87.6 320.9h0M94.9 255.5h0M93.1 321.9h0M87.5 267.8h0M101.6 286.9h0M95.1 276.0h0M101.2 286.7h0M92.0 322.2h0M103.5 228.8h0M90.2 297.5h0M90.7 235.6h0M88.4 243.1h0M84.9 296.5h0M91.8 322.5h0M87.0 304.4h0M104.4 240.8h0M92.2 323.7h0M92.8 261.0h0M92.6 271.6h0M97.8 278.0h0M87.0 257.2h0M86.5 315.3h0M91.5 265.0h0M81.3 303.5h0M95.4 255.9h0M103.2 247.6h0M89.7 294.2h0M91.6 302.9h0M93.8 302.9h0M91.9 238.4h0M83.3 260.7h0M106.7 247.0h0M85.5 252.7h0M85.8 295.7h0M90.1 247.8h0M86.2 302.9h0M94.0 238.0h0M101.3 234.0h0M103.7 265.1h0M107.5 253.2h0M103.9 282.7h0M108.1 260.5h0M93.7 309.9h0M86.1 260.4h0M80.2 260.4h0M89.2 250.7h0M83.4 318.8h0M90.9 257.6h0M79.8 288.0h0M73.3 328.8h0M96.0 270.7h0M99.2 259.7h0M104.8 290.7h0" stroke="#4a8cc6" stroke-width="2.2" stroke-linecap="round" fill="none"/>
<path d="M84.0 263.0h0M100.3 235.9h0M96.4 320.3h0M94.2 271.0h0M103.2 225.9h0M97.2 294.9h0M89.3 251.0h0M82.8 265.7h0M88.6 240.7h0M99.1 266.9h0M100.1 301.7h0M108.1 255.3h0M104.9 243.2h0M84.2 278.5h0M109.4 258.7h0M89.4 284.4h0M91.6 305.7h0M102.8 247.4h0M91.6 278.2h0M97.4 229.7h0M104.1 227.9h0M93.1 288.7h0M103.9 245.8h0M105.7 280.5h0M111.4 236.1h0M94.8 225.1h0M92.7 251.7h0M112.0 260.7h0M86.8 252.1h0M108.0 244.7h0M98.4 297.0h0M97.2 251.1h0M100.3 243.3h0M95.2 252.2h0M86.2 320.9h0M92.2 251.3h0M102.1 248.1h0M99.8 238.7h0M91.4 234.1h0M78.5 317.4h0M96.7 302.1h0M87.6 272.3h0M97.8 282.0h0M89.0 311.1h0M87.6 270.6h0M103.1 241.6h0M100.9 267.2h0M83.7 248.4h0M107.2 237.8h0M101.5 276.0h0M110.9 249.4h0M102.8 288.3h0M102.2 289.4h0M97.3 282.0h0M112.6 247.8h0M89.8 324.0h0M90.6 284.2h0" stroke="#6aaad8" stroke-width="2.2" stroke-linecap="round" fill="none"/>
<path d="M94.9 227.2h0M79.3 272.0h0M92.3 313.5h0M81.0 258.9h0M95.0 303.7h0M88.4 324.3h0M84.0 251.7h0M103.9 279.3h0M92.2 322.2h0M102.6 221.5h0M96.4 319.3h0M95.4 311.7h0M81.2 324.3h0M93.5 291.9h0M90.0 255.8h0M102.6 270.5h0M89.7 277.0h0M88.0 247.2h0M82.2 303.3h0M101.7 264.1h0M85.0 252.1h0M82.1 245.8h0M89.1 248.3h0M74.7 272.7h0M91.0 283.0h0M98.1 232.1h0M105.8 249.5h0M103.9 228.0h0M96.8 258.6h0M81.7 300.1h0M92.8 312.2h0M96.6 252.2h0M108.6 230.8h0M102.9 282.1h0M80.7 288.1h0M86.7 286.9h0M84.4 264.2h0M79.1 321.2h0M89.9 287.8h0M88.9 314.6h0M104.1 267.3h0M98.0 271.4h0M100.8 249.9h0M88.5 297.3h0M95.1 252.7h0M104.2 253.4h0M77.7 304.8h0M103.4 236.9h0M78.6 323.5h0M89.7 259.3h0M102.9 242.1h0M99.7 297.4h0M91.8 274.3h0M107.7 275.9h0M102.9 249.6h0M93.9 290.2h0M104.9 271.1h0M89.3 279.4h0M94.2 274.5h0M81.0 256.2h0M99.8 225.1h0M102.6 236.4h0M88.2 289.5h0M86.5 247.0h0M81.4 324.9h0M82.1 313.6h0M103.0 247.9h0M80.2 317.2h0M95.3 246.9h0M94.1 302.4h0M87.1 308.4h0M95.8 260.3h0M86.8 315.3h0M88.2 242.3h0M97.5 232.1h0M98.5 262.3h0M81.9 283.8h0M97.5 258.5h0M98.3 228.1h0M97.8 298.7h0M106.6 260.4h0M75.7 297.8h0M97.9 317.0h0M94.1 235.0h0M100.6 254.9h0M80.9 317.7h0M87.9 306.3h0M105.8 257.8h0M107.5 263.1h0M89.1 282.7h0M95.4 263.9h0M86.2 246.1h0M95.7 238.8h0M107.6 234.1h0M81.9 298.6h0M90.8 260.9h0M95.5 246.1h0M86.9 324.6h0M91.7 246.2h0M98.5 249.1h0M91.1 307.8h0M92.8 301.6h0M103.5 239.2h0M90.6 309.2h0M94.3 275.5h0M106.3 259.4h0M80.8 307.6h0M89.6 253.1h0M90.4 306.9h0M93.8 264.5h0M81.6 296.5h0M99.5 305.3h0M92.4 271.9h0M105.2 275.4h0M94.9 293.8h0M102.4 241.5h0M92.8 238.0h0M108.3 259.1h0M91.8 322.7h0M88.4 316.3h0M91.9 242.1h0M115.8 242.5h0M89.1 325.0h0M98.5 296.1h0M79.9 252.0h0M91.8 248.0h0M91.8 297.2h0M87.4 310.1h0M101.2 292.7h0M99.5 242.8h0M82.8 299.5h0M95.3 240.8h0M92.4 293.2h0M106.1 248.0h0M77.6 283.4h0M87.3 266.1h0M102.3 246.5h0M93.9 314.1h0M86.5 320.6h0M94.8 261.7h0M94.4 232.3h0M95.5 279.3h0M100.8 268.4h0M78.7 275.3h0M73.1 297.0h0M96.8 244.1h0M88.7 253.1h0M85.6 323.7h0M96.3 254.0h0M94.3 264.2h0M87.8 311.5h0M99.5 274.9h0M93.0 288.0h0M87.4 269.7h0M104.6 245.0h0M102.1 270.4h0M87.7 286.0h0M93.9 264.8h0M91.2 246.2h0M92.7 283.3h0M86.1 284.3h0M91.7 270.5h0M104.8 232.2h0M108.0 249.9h0M107.2 250.4h0M79.3 297.3h0M88.6 305.0h0M88.8 249.4h0M103.5 288.2h0M82.2 280.7h0M105.2 232.4h0M106.8 238.4h0M93.7 304.2h0M105.4 264.6h0M85.3 274.4h0M98.7 294.9h0M109.5 268.3h0M84.0 292.5h0M110.3 253.1h0M103.6 257.3h0M110.2 245.0h0M96.0 273.3h0M80.6 281.8h0M97.0 234.3h0M85.1 273.5h0M98.3 233.1h0M95.3 237.8h0M93.9 294.6h0M83.9 277.7h0M95.5 271.9h0M94.3 264.9h0M90.6 298.8h0M105.6 238.4h0M95.9 321.3h0M108.2 227.8h0M104.2 271.9h0M83.3 322.9h0M105.2 264.2h0M102.4 255.9h0M81.7 294.3h0M83.4 304.6h0M104.1 232.3h0M108.9 259.3h0M85.8 248.2h0M105.0 277.1h0M82.5 282.4h0M96.3 284.1h0M82.5 295.0h0M85.6 295.3h0M91.8 282.1h0M97.1 312.5h0M94.3 302.5h0M108.0 279.8h0M95.8 254.4h0M89.1 248.4h0M94.3 322.0h0M106.2 257.6h0M97.9 229.4h0M99.5 236.2h0M105.4 249.7h0M84.9 318.4h0M82.0 259.6h0M90.5 275.9h0M101.0 268.1h0M86.6 281.7h0" stroke="#5a9fd3" stroke-width="2.2" stroke-linecap="round" fill="none"/>
<path d="M85.8 307.1h0M96.5 289.0h0M84.4 267.4h0M98.3 277.9h0M102.5 247.4h0M87.2 249.1h0M105.9 271.7h0M87.7 248.1h0M94.8 248.3h0M97.5 324.1h0M107.6 233.6h0M101.1 223.2h0M102.3 271.1h0M79.5 277.0h0M80.0 285.1h0M98.4 224.4h0M86.6 272.9h0M87.3 286.4h0M99.0 264.6h0M97.1 273.5h0M84.8 267.2h0M84.3 270.2h0M108.3 268.4h0M101.8 276.8h0M87.5 298.1h0M90.5 232.9h0M85.7 284.6h0M79.9 270.6h0M83.3 276.7h0M87.2 302.0h0M93.9 251.7h0M82.2 257.5h0M101.2 293.6h0M90.4 290.8h0M111.4 229.4h0M93.2 319.0h0M101.0 228.3h0M96.0 293.8h0M93.8 294.6h0M95.2 294.2h0M97.1 311.5h0M103.0 260.8h0M92.6 313.9h0M89.1 318.1h0M74.4 312.9h0M103.8 245.5h0M94.4 298.4h0M103.8 250.7h0M103.2 281.8h0M81.7 270.9h0M91.4 265.8h0M87.0 320.7h0M96.4 236.5h0M88.6 296.4h0M106.4 234.9h0M82.9 322.3h0M105.4 246.3h0M83.5 275.9h0M107.0 260.7h0M104.0 235.1h0M100.2 293.4h0M94.0 276.7h0M79.8 311.0h0M107.6 267.3h0M90.2 236.0h0M91.8 251.2h0M88.0 262.0h0M94.4 256.5h0M89.2 282.3h0M109.1 247.7h0M92.6 325.2h0M97.2 262.8h0M109.5 258.1h0M90.6 266.9h0M92.3 265.6h0M100.6 294.7h0M91.8 307.8h0M84.5 283.6h0M103.2 232.8h0M108.2 233.8h0M79.7 311.5h0M107.5 244.6h0M101.2 275.4h0M112.8 251.5h0M93.5 273.0h0M100.9 284.8h0M90.2 322.1h0M111.6 254.4h0M96.5 228.7h0" stroke="#4a8cc6" stroke-width="2.2" stroke-linecap="round" fill="none"/>
<path d="M90.1 307.1h0M95.6 267.8h0M95.5 280.3h0M90.9 247.3h0M92.6 257.7h0M77.5 323.5h0M89.7 275.7h0M100.2 233.7h0M91.1 269.8h0M102.7 254.4h0M88.9 298.3h0M97.2 304.9h0M104.3 241.2h0M80.1 260.6h0M111.7 246.7h0M95.5 274.2h0M93.6 311.0h0M93.4 279.3h0M99.1 271.2h0M90.7 325.0h0M89.9 284.4h0M80.8 280.6h0M102.1 248.9h0M108.2 251.5h0M77.9 269.5h0M103.4 259.1h0M102.4 264.2h0M101.2 227.0h0M99.5 248.8h0M82.4 294.9h0M86.0 269.8h0M79.0 306.6h0M79.8 253.6h0M91.9 326.3h0M90.0 260.3h0M96.1 318.6h0M78.4 296.0h0M106.9 249.1h0M86.0 294.9h0M84.5 316.2h0M96.4 233.7h0M91.8 319.4h0M105.5 278.1h0M87.0 280.4h0M102.5 242.6h0M86.0 256.8h0M111.6 256.0h0M97.7 253.5h0M87.4 243.7h0M84.6 302.0h0M92.7 259.2h0M89.9 248.6h0M88.1 256.4h0M113.2 235.1h0M104.9 222.9h0M105.7 260.5h0M97.5 313.1h0" stroke="#6aaad8" stroke-width="2.2" stroke-linecap="round" fill="none"/>
<path d="M86.1 284.0h0M106.0 283.5h0M93.8 312.8h0M91.3 272.3h0M84.9 246.9h0M103.5 239.3h0M82.3 286.1h0M105.9 278.2h0M111.6 248.2h0M99.3 274.5h0M96.0 245.1h0M89.5 274.6h0M84.8 262.6h0M102.0 256.3h0M87.1 309.3h0M82.3 302.9h0M92.4 287.5h0M84.7 270.7h0M83.8 324.3h0M86.4 257.6h0M84.1 271.6h0M93.7 309.2h0M86.5 283.2h0M86.3 311.9h0M90.1 292.5h0M92.8 261.7h0M91.6 319.1h0M106.4 248.2h0M100.8 265.1h0M103.1 276.9h0M92.4 299.5h0M85.4 266.9h0M107.1 241.3h0M108.2 249.0h0M91.6 307.9h0M104.7 263.1h0M91.7 296.1h0M85.4 286.3h0M97.7 249.6h0M94.4 315.4h0M94.0 250.3h0M96.2 249.7h0M75.1 309.2h0M77.4 312.9h0M83.9 286.3h0M94.9 251.7h0M104.2 245.2h0M97.0 256.9h0M89.9 239.6h0M107.4 274.2h0M86.1 325.9h0M102.6 264.1h0M99.6 244.5h0M87.6 322.0h0M93.3 320.0h0M90.5 280.2h0M114.1 236.9h0M93.2 269.6h0M100.1 265.9h0M96.0 235.2h0M101.0 239.7h0M94.0 307.3h0M86.7 315.0h0M98.2 259.7h0M91.7 237.1h0M86.4 276.6h0M85.2 259.6h0M100.5 230.1h0M90.4 242.2h0M79.7 293.7h0M95.1 285.2h0M85.6 268.6h0M101.1 268.7h0M103.7 232.6h0M93.4 308.2h0M91.9 239.9h0M93.0 324.3h0M91.1 262.3h0M112.4 244.3h0M105.4 268.2h0M114.9 244.0h0M88.6 312.6h0M87.9 307.0h0M85.3 274.5h0M100.9 263.9h0M91.3 273.7h0M104.9 236.2h0M85.9 281.6h0M90.5 317.9h0M82.7 278.2h0M82.1 307.7h0M108.4 239.7h0M107.7 255.0h0M81.5 260.0h0M93.9 307.1h0M81.2 261.2h0M94.3 304.6h0M91.4 272.5h0M101.5 296.0h0M101.8 270.1h0M84.7 261.0h0M105.5 225.6h0M82.4 262.0h0M102.9 271.3h0M93.2 312.6h0M101.0 232.5h0M78.8 309.2h0M93.6 270.0h0M72.5 320.8h0M102.6 296.5h0M102.4 233.8h0M102.9 223.2h0M89.2 287.8h0M86.3 286.1h0M82.9 301.8h0M98.0 282.9h0M87.4 272.5h0M109.4 241.3h0M91.9 326.8h0M112.0 248.2h0M101.3 247.6h0M89.9 322.7h0M98.4 289.3h0M93.8 242.2h0M99.8 247.9h0M87.3 268.3h0M105.6 233.7h0M93.6 316.6h0M97.0 269.8h0M89.8 300.1h0M78.2 323.6h0M78.5 267.7h0M97.1 294.7h0M88.9 316.7h0M86.4 328.0h0M73.0 306.8h0M102.0 290.1h0M89.1 321.3h0M79.1 274.3h0M97.2 237.7h0M88.5 317.4h0M88.9 280.2h0M99.8 232.0h0M93.3 240.7h0M102.6 233.5h0M97.6 240.1h0M85.9 302.2h0M87.4 241.6h0M93.2 283.1h0M94.2 252.3h0M86.5 266.9h0M92.5 242.8h0M100.1 280.3h0M97.5 225.7h0M97.9 233.3h0M81.4 320.1h0M94.8 286.1h0M103.9 284.3h0M84.0 273.0h0M82.5 284.0h0M87.6 240.1h0M80.6 279.3h0M98.2 256.6h0M81.9 309.1h0M106.0 272.2h0M94.6 256.5h0M96.1 237.8h0M96.8 227.0h0M98.3 273.9h0M90.5 322.6h0M94.8 250.6h0M82.5 307.7h0M90.8 308.5h0M85.8 308.3h0M98.3 239.5h0M88.3 319.9h0M103.3 258.2h0M90.9 300.2h0M87.3 241.6h0M94.6 291.0h0M98.8 232.2h0M107.2 266.8h0M98.1 304.9h0M90.4 282.1h0M91.3 261.0h0M99.1 262.7h0M80.7 284.3h0M86.6 250.6h0M88.3 246.7h0M93.7 300.1h0M101.9 231.7h0M98.5 263.3h0M94.6 300.8h0M108.0 240.0h0M78.7 264.7h0M96.5 239.5h0M95.8 309.8h0M95.1 236.5h0M93.3 320.9h0M87.0 273.3h0M85.1 312.0h0M92.3 245.7h0M88.5 301.0h0M77.2 312.9h0M109.4 271.5h0M96.6 248.7h0M91.9 276.4h0M106.9 248.3h0M93.3 305.4h0M84.8 289.8h0M99.2 271.8h0M113.3 245.5h0M84.8 327.2h0M92.7 299.6h0M75.2 290.2h0M95.0 275.4h0M96.8 321.6h0M85.2 326.6h0M84.6 311.2h0M94.4 279.5h0M107.8 228.9h0M104.7 253.0h0M93.2 258.6h0M94.1 249.1h0M94.6 259.3h0" stroke="#5a9fd3" stroke-width="2.2" stroke-linecap="round" fill="none"/>
<path d="M104.4 251.7h0M100.5 228.1h0M73.7 307.2h0M89.4 256.0h0M102.1 286.0h0M89.4 272.5h0M87.5 248.8h0M105.9 227.5h0M107.9 266.9h0M111.2 263.5h0M95.7 255.1h0M81.6 316.2h0M109.8 244.9h0M103.3 276.0h0M88.4 270.6h0M90.4 238.9h0M93.3 301.5h0M94.1 243.5h0M100.7 243.6h0M104.6 228.1h0M90.1 276.5h0M83.3 244.6h0M87.7 294.7h0M103.2 259.1h0M91.1 245.0h0M87.6 239.6h0M87.7 314.0h0M80.9 282.6h0M96.4 263.9h0M90.8 241.5h0M102.4 230.1h0M79.9 293.3h0M89.1 262.1h0M90.7 310.4h0M90.3 269.5h0M92.2 311.8h0M94.9 228.2h0M86.1 237.3h0M86.0 324.9h0M102.5 225.6h0M105.2 277.2h0M89.7 285.0h0M92.0 294.2h0M83.5 317.7h0M80.9 306.1h0M101.5 230.5h0M85.2 251.6h0M80.5 295.2h0M102.6 233.7h0M107.3 254.2h0M84.8 314.6h0M92.1 318.2h0M90.9 257.7h0M89.0 323.4h0M99.5 278.1h0M93.8 241.0h0M94.6 238.5h0M91.9 265.8h0M89.5 267.0h0M89.6 327.4h0M91.4 312.5h0M87.8 241.0h0M92.4 310.1h0M105.4 231.0h0M89.6 302.4h0M98.9 243.3h0M113.6 243.8h0M90.4 322.3h0M109.4 225.8h0M94.2 296.0h0M99.2 262.8h0M93.0 301.2h0M84.1 322.1h0M85.4 320.7h0M81.8 309.1h0M79.4 248.0h0M109.8 264.1h0M84.8 312.0h0M106.1 239.1h0M85.6 280.4h0M96.4 279.3h0M84.4 271.9h0M87.8 269.1h0M102.6 277.7h0M95.5 240.0h0M115.7 242.5h0M84.3 280.2h0M92.3 254.9h0M87.8 258.7h0" stroke="#4a8cc6" stroke-width="2.2" stroke-linecap="round" fill="none"/>
<path d="M91.5 318.1h0M107.3 250.1h0M99.7 232.6h0M81.1 318.7h0M96.5 264.0h0M88.1 320.8h0M111.9 240.9h0M102.6 240.2h0M106.4 236.0h0M83.0 318.5h0M110.2 267.9h0M96.5 249.9h0M101.1 231.2h0M108.0 260.1h0M101.1 234.5h0M96.7 265.4h0M101.7 257.1h0M85.8 305.6h0M88.9 242.0h0M88.5 242.8h0M85.7 251.8h0M100.3 229.1h0M78.6 265.7h0M94.7 259.5h0M80.8 299.3h0M112.2 247.5h0M90.4 296.0h0M100.8 271.3h0M100.3 270.6h0M101.6 295.9h0M97.9 254.4h0M113.0 257.0h0M92.6 292.2h0M90.5 240.7h0M101.9 291.7h0M108.1 271.4h0M94.1 300.4h0M91.3 274.3h0M90.3 298.4h0M84.3 289.4h0M112.6 240.2h0M100.0 281.2h0M97.0 242.7h0M87.6 282.3h0M95.7 315.8h0M91.8 316.7h0M95.2 235.2h0M90.3 309.0h0M89.6 282.3h0M86.3 317.3h0M112.9 247.3h0M100.9 232.9h0M109.9 232.5h0M93.1 325.0h0M110.8 232.2h0M98.3 276.9h0M84.7 311.1h0" stroke="#6aaad8" stroke-width="2.2" stroke-linecap="round" fill="none"/>
<path d="M89.8 251.6h0M94.5 268.4h0M84.8 317.4h0M107.0 236.7h0M81.3 274.9h0M79.1 309.9h0M85.5 269.9h0M96.3 303.6h0M95.5 321.8h0M89.4 316.5h0M92.5 239.9h0M85.6 307.1h0M93.3 273.0h0M99.4 294.9h0M109.3 238.7h0M92.8 246.7h0M108.5 243.9h0M92.7 292.3h0M91.5 241.5h0M81.2 259.5h0M88.0 259.6h0M110.9 263.9h0M86.5 243.1h0M104.6 238.3h0M88.9 245.1h0M113.8 237.5h0M77.3 305.8h0M101.6 266.3h0M89.5 247.3h0M84.1 292.5h0M78.5 285.0h0M91.0 254.7h0M84.7 313.2h0M80.5 253.4h0M100.7 269.9h0M91.5 322.8h0M85.7 249.6h0M93.9 254.8h0M84.3 307.8h0M89.8 267.3h0M93.4 326.3h0M86.7 265.0h0M97.4 299.4h0M89.4 282.8h0M97.9 252.6h0M82.4 301.8h0M90.8 285.7h0M108.8 271.5h0M104.9 255.1h0M101.9 278.9h0M99.8 251.4h0M108.3 249.0h0M96.9 278.9h0M100.8 258.5h0M99.9 249.1h0M82.7 303.3h0M106.2 285.1h0M95.8 229.3h0M83.2 321.1h0M104.8 269.0h0M90.8 278.3h0M79.3 316.7h0M96.4 322.3h0M106.2 235.3h0M87.5 249.2h0M85.1 243.7h0M99.6 242.2h0M103.0 264.6h0M96.9 268.3h0M86.0 242.4h0M101.5 237.4h0M107.5 228.4h0M90.5 277.0h0M82.4 260.0h0M101.6 250.3h0M104.4 264.5h0M97.7 302.5h0M93.3 267.9h0M85.7 303.5h0M93.6 283.7h0M110.5 260.6h0M85.6 267.3h0M89.0 318.1h0M87.6 255.6h0M94.7 285.2h0M91.6 276.8h0M99.6 262.0h0M113.8 242.5h0M92.8 308.4h0M85.6 249.8h0M85.3 298.4h0M110.7 241.8h0M110.9 238.4h0M94.3 313.8h0M99.1 239.4h0M92.9 316.6h0M102.5 232.1h0M102.8 292.7h0M86.7 284.5h0M77.3 292.2h0M80.2 279.3h0M101.8 250.9h0M80.6 253.2h0M95.7 248.3h0M100.9 283.0h0M105.8 255.3h0M94.9 299.6h0M104.1 289.0h0M82.2 282.8h0M84.1 288.2h0M82.9 274.8h0M91.2 235.6h0M104.1 222.8h0M98.0 291.7h0M113.5 257.4h0M87.2 295.8h0M102.8 280.2h0M83.6 300.7h0M96.8 244.8h0M77.7 318.7h0M81.5 259.0h0M104.4 260.1h0M84.8 249.9h0M101.7 247.8h0M104.3 253.8h0M93.8 290.0h0M81.1 323.7h0M77.2 319.4h0M106.5 244.7h0M96.9 310.2h0M93.8 316.7h0M85.5 273.8h0M96.3 263.3h0M92.9 250.1h0M85.4 298.5h0M103.9 275.7h0M77.8 270.9h0M95.2 234.8h0M105.4 246.4h0M109.1 260.7h0M96.8 310.0h0M91.6 248.4h0M86.6 248.2h0M105.5 253.8h0M84.8 325.8h0M94.5 251.7h0M99.6 246.7h0M98.7 245.8h0M98.5 274.4h0M103.1 275.3h0M88.0 235.2h0M100.8 234.6h0M97.1 303.9h0M104.0 253.0h0M107.2 250.5h0M83.1 301.7h0M103.5 253.1h0M93.6 244.7h0M89.1 304.5h0M86.0 315.4h0M89.5 277.1h0M89.8 318.4h0M77.3 309.1h0M86.7 262.8h0M83.1 313.1h0M97.2 291.1h0M113.9 239.3h0M97.4 264.1h0M98.6 277.2h0M78.7 311.6h0M79.4 312.4h0M88.1 251.2h0M108.6 260.6h0M103.8 230.1h0M89.4 306.7h0M104.6 253.2h0M104.8 252.5h0M102.6 244.3h0M109.0 252.1h0M87.5 326.9h0M88.4 306.2h0M85.3 247.1h0M101.1 304.6h0M85.5 267.1h0M82.2 307.8h0M81.0 257.6h0M82.1 305.6h0M80.1 313.3h0M112.8 249.5h0M77.7 284.9h0M88.3 321.2h0M95.3 265.6h0M78.0 276.2h0M87.0 295.5h0M112.7 245.1h0M93.1 242.7h0M89.0 324.5h0M99.1 264.0h0M76.3 300.5h0M104.0 289.2h0M107.5 233.6h0M101.6 245.0h0M85.1 312.1h0M93.3 226.9h0M82.0 309.5h0M104.2 240.5h0M102.5 279.0h0M98.0 275.3h0M86.7 261.8h0M84.4 320.8h0M91.2 235.5h0M104.5 247.3h0M96.3 247.3h0M107.4 272.7h0M100.5 259.3h0M85.6 268.4h0M103.0 238.4h0M92.1 313.9h0M96.8 274.0h0M93.5 274.3h0M89.3 267.4h0M86.6 261.7h0M101.9 223.9h0M99.9 277.9h0M76.2 272.7h0" stroke="#5a9fd3" stroke-width="2.2" stroke-linecap="round" fill="none"/>
<path d="M109.3 257.4h0M74.5 290.2h0M94.9 307.2h0M80.7 277.9h0M83.1 283.3h0M98.1 303.1h0M98.2 242.5h0M86.6 326.4h0M83.1 304.8h0M105.9 236.1h0M98.0 315.4h0M74.3 305.4h0M96.1 255.4h0M87.7 313.6h0M87.9 322.2h0M93.5 276.2h0M99.6 287.0h0M94.4 317.0h0M82.6 319.1h0M90.8 274.1h0M98.5 249.5h0M99.0 269.8h0M88.1 256.2h0M104.4 254.5h0M85.5 291.0h0M93.0 274.9h0M102.6 235.9h0M93.3 315.8h0M87.6 326.2h0M102.4 243.4h0M94.2 242.4h0M108.1 238.5h0M92.4 246.0h0M104.5 234.3h0M112.0 236.2h0M98.9 227.2h0M97.3 272.4h0M85.4 311.6h0M89.1 304.1h0M86.2 322.4h0M79.6 296.1h0M95.4 301.1h0M82.9 255.3h0M83.3 246.8h0M102.9 247.3h0M99.6 277.2h0M113.1 242.2h0M83.7 305.0h0M97.4 245.0h0M87.9 259.1h0M96.8 311.4h0M89.5 285.0h0M89.4 319.4h0M99.9 254.3h0M92.4 274.8h0M83.8 314.2h0M96.9 296.4h0M103.2 276.4h0M81.8 312.9h0M76.3 270.7h0M98.9 231.4h0M99.0 263.1h0M97.9 300.2h0M101.0 292.6h0M104.4 229.8h0M91.7 303.1h0M82.8 251.8h0M89.5 266.2h0M94.6 262.2h0M91.0 262.6h0M98.0 241.4h0M93.7 247.5h0M83.1 294.1h0M102.9 235.1h0M95.3 254.3h0M111.0 234.3h0M100.7 290.1h0M89.7 284.2h0M92.8 318.0h0M74.3 295.7h0M93.9 258.0h0M82.8 304.8h0M108.6 268.7h0M102.3 232.3h0M92.1 231.5h0M97.7 229.0h0M90.1 300.7h0M98.5 264.4h0M89.5 239.0h0" stroke="#4a8cc6" stroke-width="2.2" stroke-linecap="round" fill="none"/>
<path d="M89.6 238.2h0M98.6 306.3h0M92.1 262.1h0M109.5 250.5h0M105.8 267.2h0M80.9 261.9h0M97.0 256.1h0M98.0 232.6h0M77.8 320.5h0M104.3 242.7h0M96.8 248.8h0M103.0 286.5h0M105.5 227.1h0M106.5 278.7h0M102.9 240.3h0M96.9 258.5h0M86.7 316.3h0M95.3 254.8h0M92.3 239.5h0M96.7 264.1h0M111.1 248.8h0M83.5 314.9h0M92.2 261.9h0M99.0 292.3h0M93.0 319.9h0M98.8 305.2h0M104.7 269.5h0M77.2 320.3h0M80.5 269.4h0M90.5 250.7h0M77.0 300.8h0M78.6 261.0h0M93.5 237.5h0M91.7 257.8h0M100.7 237.2h0M89.6 284.3h0M94.8 257.8h0M86.2 256.0h0M88.7 275.2h0M102.9 249.6h0M75.8 263.4h0M94.4 254.0h0M95.7 244.6h0M93.8 238.7h0M94.5 269.2h0M106.8 282.7h0M88.6 323.2h0M84.0 286.2h0M76.5 314.1h0M102.1 272.9h0M98.5 232.5h0M94.7 295.8h0M96.9 291.9h0M79.2 267.8h0M102.0 290.8h0M102.9 280.5h0" stroke="#6aaad8" stroke-width="2.2" stroke-linecap="round" fill="none"/>
<path d="M104.4 295.1h0M64.3 319.3h0M99.2 328.3h0M105.8 292.0h0M65.9 261.4h0M106.2 328.4h0M67.8 302.1h0M67.4 229.4h0M66.6 323.2h0M66.8 275.8h0M65.4 229.2h0M81.6 331.9h0M68.7 271.9h0M76.1 263.3h0M72.1 266.8h0M100.2 311.8h0M87.4 334.0h0M64.4 307.6h0M65.3 282.5h0M107.6 332.4h0M66.1 223.5h0M65.9 247.3h0M101.8 306.3h0M78.5 234.0h0M104.9 324.2h0M87.7 222.2h0M76.8 242.9h0M67.1 303.9h0M70.5 272.8h0M65.3 305.0h0M77.8 230.1h0M104.9 320.9h0M79.8 224.6h0M79.0 251.8h0M103.1 326.9h0M86.9 226.0h0M98.3 318.8h0M68.2 304.3h0M66.2 258.0h0M75.3 239.7h0M91.6 333.5h0M85.2 328.6h0M74.2 236.5h0M77.0 261.3h0M68.5 244.7h0M66.4 255.5h0M67.4 293.6h0M79.5 333.8h0M103.8 331.3h0M71.9 257.6h0M70.0 250.9h0M66.5 288.2h0M100.4 320.0h0M91.6 222.4h0M84.0 236.2h0M107.5 320.2h0M62.3 257.4h0M107.1 307.4h0M68.8 295.3h0M65.9 277.6h0M105.8 225.1h0M85.1 331.3h0M66.5 272.8h0M98.8 317.3h0M107.0 296.5h0M72.3 248.2h0M70.8 232.2h0M62.5 271.8h0M99.1 332.8h0M74.3 261.7h0M67.0 237.0h0M71.0 311.6h0M106.6 282.0h0M73.4 224.0h0M107.6 317.0h0M77.4 331.2h0M76.3 255.8h0M65.7 327.2h0M84.6 224.0h0M100.0 332.6h0M63.5 252.9h0M82.2 334.2h0M68.0 232.6h0M64.3 260.6h0M79.4 245.4h0M72.8 332.6h0M64.5 265.9h0M63.8 298.9h0M63.8 245.3h0M70.9 295.9h0M63.1 239.7h0M76.1 230.7h0M87.6 225.2h0M97.7 316.5h0M66.6 267.3h0M69.4 226.3h0M94.4 225.4h0M69.8 273.6h0M75.1 262.1h0M67.3 286.6h0M105.3 295.5h0M62.2 317.3h0M71.1 226.1h0M62.1 333.8h0M80.7 223.1h0M93.4 332.5h0M63.1 240.0h0M67.4 263.2h0M79.5 225.5h0M106.3 308.7h0" stroke="#5d9fd0" stroke-width="1.6" stroke-linecap="round" fill="none"/>
<path d="M180.2 282.2h0M187.7 268.1h0M180.5 290.2h0M177.8 244.9h0M208.2 288.6h0M171.3 256.1h0M181.7 250.9h0M182.9 313.7h0M183.8 277.3h0M200.3 297.7h0M194.3 299.1h0M169.6 279.7h0M185.3 246.2h0M186.2 276.1h0M190.5 245.5h0M201.0 300.5h0M204.7 265.9h0M172.0 264.7h0M175.4 261.9h0M167.6 271.2h0M190.8 266.3h0M197.3 252.4h0M207.1 282.9h0M174.1 277.4h0M175.0 281.9h0M180.7 248.9h0M194.2 273.4h0M169.3 255.1h0M167.3 300.6h0M197.0 293.5h0M174.7 315.4h0M177.3 293.0h0M172.7 310.6h0M172.6 291.5h0M184.2 265.5h0M165.7 283.0h0M182.0 267.0h0M169.3 272.3h0M172.5 267.5h0M184.9 315.5h0M202.7 304.4h0M174.3 251.4h0M202.3 279.6h0M189.9 245.0h0M204.5 284.3h0M189.1 277.9h0M203.9 284.7h0M189.5 226.8h0M183.1 280.4h0M174.1 302.1h0M174.0 250.5h0M190.5 288.1h0M170.8 313.8h0M179.6 292.3h0M192.0 230.5h0M182.9 232.6h0M197.6 295.4h0M171.9 281.5h0M192.5 286.0h0M194.0 244.0h0M181.6 244.7h0M199.4 297.9h0M178.4 262.4h0M192.7 237.7h0M176.1 315.7h0M200.1 271.3h0M205.2 278.2h0M177.7 252.2h0M198.7 284.1h0M200.2 287.0h0M189.5 296.5h0M203.4 267.0h0M194.2 264.6h0M172.0 252.9h0M175.2 288.0h0M170.6 265.8h0M174.6 278.9h0M181.8 244.6h0M170.3 300.3h0M169.2 277.0h0M181.7 317.3h0M187.7 289.6h0M187.3 302.5h0M181.7 260.1h0M191.0 301.9h0M197.2 256.5h0M193.1 302.8h0M202.3 298.6h0M190.4 233.1h0M166.8 316.1h0M204.7 295.8h0M169.9 264.6h0M165.3 269.8h0M200.3 269.0h0M165.4 281.5h0M192.8 291.4h0M170.3 313.0h0M189.1 239.7h0M175.1 299.5h0M171.6 260.1h0M187.1 283.5h0M186.1 311.4h0M198.1 291.9h0M195.1 254.8h0M204.1 280.3h0M200.8 307.8h0M200.6 309.5h0M186.7 293.6h0M190.7 245.6h0M183.7 277.9h0M193.8 306.9h0M168.8 287.4h0M186.5 239.9h0M191.6 260.8h0M202.6 292.8h0M201.9 298.6h0M170.1 285.1h0M198.4 273.4h0M192.4 254.5h0M186.0 249.2h0M188.3 250.4h0M190.0 315.7h0M189.0 282.2h0M192.9 229.8h0M176.1 292.6h0M196.6 238.1h0M192.6 253.4h0M188.9 261.3h0M200.9 311.5h0M181.7 244.2h0M188.9 238.9h0M183.0 270.7h0M178.6 317.5h0M186.3 247.2h0M200.0 248.2h0M172.5 283.0h0M176.7 269.7h0M182.1 297.8h0M200.2 279.1h0M194.0 270.0h0M177.1 279.6h0M174.6 319.8h0M177.2 272.0h0M197.2 259.2h0M189.9 247.0h0M190.1 237.2h0M198.6 315.6h0M172.6 303.1h0M180.4 315.5h0M181.3 250.9h0M191.8 248.3h0M169.7 271.2h0M199.8 308.3h0M172.3 310.2h0M176.8 252.2h0M167.1 293.1h0M177.3 317.4h0M176.7 251.9h0M177.1 261.5h0M179.6 244.0h0M187.4 314.8h0M191.1 232.7h0M190.0 267.9h0M178.3 284.4h0M181.4 292.5h0M197.3 273.9h0M192.5 248.5h0M195.9 263.5h0M186.9 257.5h0M193.9 316.3h0M195.5 244.1h0M192.9 291.6h0M187.0 310.6h0M196.4 263.2h0M201.6 247.9h0M202.3 291.9h0M187.4 258.1h0M191.1 239.9h0M179.1 264.6h0M180.1 312.1h0M193.4 232.7h0M182.2 269.3h0M202.7 297.8h0M176.6 306.1h0M172.3 314.4h0M169.0 274.2h0M173.0 244.7h0M193.1 299.2h0M201.7 300.2h0M182.1 306.9h0M186.2 241.1h0M182.7 263.8h0M168.2 273.2h0M171.2 250.5h0M172.8 267.3h0M164.1 314.0h0M174.1 301.5h0M182.3 257.7h0M186.1 227.2h0M169.2 298.5h0M181.4 257.2h0M174.7 274.1h0M199.6 301.2h0M186.0 245.5h0M177.8 246.6h0M206.0 301.9h0M199.8 261.4h0M179.3 293.4h0M168.9 265.8h0M202.9 300.2h0M176.9 300.8h0M195.1 247.0h0M177.6 280.0h0M204.8 289.7h0M174.9 312.4h0M202.3 295.0h0M179.2 295.5h0M186.8 302.0h0M187.6 248.2h0M175.1 268.0h0M177.9 284.7h0M197.7 266.9h0M189.0 259.0h0M182.3 297.1h0M167.5 275.2h0M181.4 308.2h0M182.2 276.2h0M186.3 228.3h0M188.5 270.1h0M199.6 254.4h0M184.7 270.6h0M205.2 290.6h0" stroke="#9ccb60" stroke-width="2.3" stroke-linecap="round" fill="none"/>
<path d="M194.1 284.2h0M165.4 313.4h0M199.8 252.5h0M172.4 294.3h0M180.5 280.8h0M184.1 255.9h0M201.4 280.8h0M184.4 231.8h0M187.0 227.6h0M183.8 257.6h0M178.7 255.9h0M205.6 313.6h0M200.0 307.0h0M198.3 308.0h0M196.9 280.8h0M168.9 298.9h0M194.2 293.5h0M186.1 245.0h0M197.7 262.6h0M182.6 300.4h0M187.8 251.1h0M201.8 277.7h0M175.9 274.5h0M195.1 310.9h0M170.5 311.0h0M184.4 249.8h0M179.6 259.6h0M177.1 248.4h0M190.9 312.9h0M183.7 232.5h0M185.2 284.9h0M165.7 310.4h0M193.1 275.8h0M178.7 305.6h0M178.6 304.8h0M198.5 273.5h0M192.4 286.7h0M167.1 309.7h0M186.4 271.0h0M203.7 307.4h0M172.1 283.7h0M198.7 270.3h0M189.3 253.9h0M187.9 238.6h0M179.3 271.5h0M184.4 303.0h0M187.3 280.2h0M186.6 304.8h0M197.2 274.1h0M177.5 252.1h0M191.6 303.0h0M183.4 236.6h0M176.8 307.0h0M172.9 261.7h0M186.3 313.7h0M204.5 273.8h0M179.3 313.6h0M194.1 238.6h0M188.2 254.7h0M193.5 280.5h0M189.0 227.8h0M168.4 285.0h0M185.1 229.2h0M194.4 255.8h0M173.4 310.5h0M206.8 281.7h0M182.4 257.7h0M179.4 269.6h0M209.6 292.9h0M170.9 278.6h0M194.5 291.9h0M189.0 291.8h0M198.1 266.0h0M195.2 244.0h0M188.6 275.2h0" stroke="#90c058" stroke-width="2.3" stroke-linecap="round" fill="none"/>
<path d="M190.2 300.8h0M173.9 305.9h0M173.5 295.6h0M170.5 252.4h0M192.2 229.5h0M184.7 259.9h0M174.8 297.4h0M208.7 303.5h0M194.5 315.9h0M168.5 271.5h0M190.5 310.7h0M172.5 270.3h0M197.4 285.9h0M163.6 308.6h0M188.9 252.5h0M194.0 271.6h0M178.1 232.9h0M171.6 286.2h0M182.0 311.2h0M185.1 275.7h0M190.0 248.1h0M189.8 278.2h0M194.2 243.4h0M174.5 308.0h0M196.1 309.6h0M191.5 238.0h0M200.4 302.4h0M194.6 251.1h0M172.2 285.3h0M196.8 285.5h0M190.4 259.9h0M189.2 240.8h0M187.0 232.8h0M175.7 302.6h0M177.1 241.1h0M178.0 285.6h0M185.8 231.0h0M173.8 275.0h0M199.8 299.9h0M203.9 284.1h0M178.2 265.1h0M178.3 285.8h0M179.4 268.2h0M166.4 309.6h0M188.4 256.4h0M184.9 305.5h0M173.7 289.7h0M201.9 259.0h0M167.0 280.4h0M168.8 311.5h0M166.0 311.5h0M175.1 241.0h0M189.8 322.3h0M175.4 239.7h0M177.9 247.1h0M194.0 237.9h0M174.5 274.6h0M191.8 236.3h0M185.9 306.4h0M198.8 292.8h0M187.7 227.9h0M175.5 268.7h0M176.2 296.0h0M206.1 290.2h0M190.4 226.1h0M170.4 264.5h0M182.6 284.9h0M177.6 248.4h0M181.5 246.4h0M176.3 280.3h0M171.2 274.3h0M174.8 313.2h0M204.1 288.0h0M172.2 300.0h0M187.7 314.1h0M182.3 310.0h0M185.3 256.0h0M172.1 255.8h0" stroke="#a8d46c" stroke-width="2.3" stroke-linecap="round" fill="none"/>
<path d="M176.2 315.3h0M171.5 296.2h0M197.9 270.3h0M180.5 259.7h0M184.6 262.1h0M173.0 280.7h0M203.3 284.1h0M184.0 235.7h0M177.9 296.4h0M177.6 275.1h0M182.0 304.6h0M205.9 284.6h0M190.5 272.3h0M206.3 293.0h0M188.4 239.8h0M189.8 320.5h0M191.2 297.0h0M170.6 281.9h0M193.1 270.3h0M185.0 258.1h0M181.5 233.4h0M185.5 307.3h0M176.5 290.2h0M183.5 278.6h0M187.2 249.5h0M192.2 298.8h0M189.0 229.2h0M199.9 303.0h0M204.0 268.3h0M189.3 243.6h0M166.8 272.6h0M194.6 236.7h0M187.3 269.0h0M182.7 237.3h0M203.5 303.4h0M192.7 239.4h0M190.4 227.9h0M194.1 314.7h0M202.6 276.0h0M166.6 303.8h0M210.0 300.8h0M189.6 319.4h0M173.8 295.6h0M179.9 264.1h0M193.6 256.8h0M178.7 281.1h0M176.8 244.8h0M183.4 291.9h0M169.4 286.5h0M200.3 255.8h0M186.6 304.6h0M186.4 247.6h0M194.4 299.0h0M176.3 242.1h0M199.3 292.5h0M182.2 265.7h0M192.7 281.2h0M169.8 318.2h0M168.7 297.8h0M188.0 288.1h0M184.2 280.5h0M187.5 258.1h0M185.8 281.2h0M193.7 255.3h0M179.9 264.4h0M169.6 262.4h0M195.1 250.1h0M187.5 291.7h0M179.4 297.6h0M183.5 316.8h0M199.6 260.6h0M201.6 289.4h0M176.7 262.2h0M167.0 280.0h0M169.2 274.2h0M189.5 249.3h0M202.5 281.0h0M197.7 266.5h0M188.7 315.8h0M202.7 265.3h0M195.4 256.8h0M191.2 258.8h0M197.0 295.7h0M199.9 282.4h0M189.5 254.9h0M196.5 274.4h0M174.9 268.0h0M184.8 282.0h0M197.0 265.2h0M180.2 272.7h0M199.0 269.7h0M187.8 308.2h0M199.2 255.4h0M165.8 305.4h0M185.4 274.7h0M190.0 255.8h0M189.8 247.4h0M182.5 276.7h0M178.6 313.1h0M190.3 301.6h0M168.6 316.1h0M201.6 274.0h0M195.6 241.5h0M183.2 259.5h0M177.7 246.9h0M189.0 264.2h0M181.6 303.4h0M190.1 265.9h0M186.9 311.3h0M207.2 297.2h0M193.0 277.5h0M188.2 310.3h0M195.7 246.9h0M193.5 242.4h0M192.5 297.3h0M201.2 313.4h0M191.9 303.2h0M172.0 250.4h0M182.8 305.6h0M206.1 295.8h0M187.2 287.0h0M197.7 281.2h0M181.1 274.2h0M195.2 284.8h0M197.9 274.4h0M184.3 279.1h0M175.5 301.3h0M193.9 290.2h0M173.7 261.1h0M186.8 261.4h0M165.2 290.7h0M169.2 275.2h0M191.1 255.2h0M167.8 273.5h0M181.6 301.4h0M202.2 271.9h0M201.7 302.1h0M190.6 224.3h0M181.5 264.1h0M187.9 299.5h0M193.3 294.6h0M168.3 292.6h0M180.1 300.7h0M174.4 272.7h0M185.5 295.2h0M185.1 305.7h0M184.2 271.9h0M203.9 305.1h0M173.1 301.6h0M187.7 311.8h0M176.4 292.9h0M200.7 270.3h0M192.1 306.9h0M190.0 290.2h0M193.5 248.1h0M176.0 290.3h0M204.8 283.9h0M173.1 282.5h0M193.1 307.9h0M189.3 296.5h0M188.6 241.5h0M176.0 243.7h0M190.4 298.2h0M206.2 284.2h0M184.4 299.9h0M186.0 258.4h0M186.7 261.8h0M194.8 312.3h0M175.6 251.3h0M181.9 276.2h0M175.8 264.1h0M177.5 279.9h0M170.5 273.7h0M181.3 258.3h0M194.6 265.5h0M196.8 286.5h0M190.4 287.2h0M186.0 237.5h0M199.2 281.0h0M187.1 278.2h0M175.3 311.0h0M167.5 271.1h0M190.2 285.0h0M198.7 270.2h0M190.6 263.5h0M192.8 269.8h0M194.8 270.9h0M178.7 287.0h0M197.0 258.8h0M174.4 276.7h0M169.2 289.7h0M199.3 279.6h0M177.5 273.0h0M182.5 234.7h0M185.6 275.3h0M197.3 269.7h0M194.8 319.4h0M190.7 277.0h0M187.8 255.3h0M197.9 308.7h0M169.0 294.4h0M182.0 273.9h0M186.7 281.4h0M204.3 292.3h0M173.1 252.2h0M188.7 303.0h0M188.4 269.4h0M188.8 243.0h0M167.4 317.3h0M185.7 245.1h0M169.7 274.7h0M195.4 280.5h0M177.6 280.3h0M183.9 245.0h0M192.4 271.2h0M176.0 274.9h0M171.7 275.2h0M201.7 302.4h0M183.7 281.4h0M192.0 313.0h0M178.0 314.6h0M173.8 243.6h0M179.8 303.0h0M190.1 297.7h0M202.2 291.9h0M195.9 285.8h0M182.8 273.1h0M174.1 279.8h0M174.3 280.1h0M180.7 283.6h0M185.4 298.5h0M204.1 269.6h0" stroke="#9ccb60" stroke-width="2.3" stroke-linecap="round" fill="none"/>
<path d="M183.6 317.1h0M173.3 301.6h0M192.0 256.7h0M190.2 238.4h0M172.0 259.4h0M189.6 294.1h0M173.7 272.3h0M188.7 228.4h0M206.5 308.4h0M203.7 277.8h0M167.2 268.3h0M181.6 320.5h0M179.4 251.1h0M181.7 257.0h0M168.6 263.9h0M177.4 277.2h0M167.6 292.3h0M170.8 275.8h0M184.2 250.4h0M171.3 317.6h0M175.0 264.4h0M186.5 294.2h0M193.4 226.9h0M191.7 313.7h0M186.8 263.3h0M184.8 315.4h0M184.3 242.0h0M200.4 289.2h0M170.9 249.9h0M191.5 249.7h0M169.6 259.7h0M190.6 279.9h0M188.5 234.1h0M179.0 310.7h0M185.5 261.1h0M181.4 293.3h0M165.8 277.3h0M181.5 248.6h0M200.8 294.4h0M196.5 243.2h0M166.4 317.4h0M178.0 303.9h0M197.8 254.7h0M185.1 232.6h0M192.0 264.1h0M178.1 305.7h0M193.0 274.3h0M170.1 284.2h0M198.1 290.0h0M185.9 235.1h0M190.6 310.3h0M201.7 312.3h0M183.1 268.6h0M178.7 291.7h0M175.1 254.5h0M171.2 290.4h0M180.6 258.4h0M173.9 293.5h0M175.0 240.9h0M180.7 249.4h0M176.7 291.7h0M166.8 296.2h0M172.1 301.3h0M181.2 270.7h0M202.3 302.8h0M183.4 271.7h0M168.7 293.2h0M187.3 308.2h0M183.2 258.3h0M172.6 307.4h0M206.2 293.6h0M172.7 315.6h0M197.3 316.5h0M169.5 277.5h0" stroke="#90c058" stroke-width="2.3" stroke-linecap="round" fill="none"/>
<path d="M165.9 313.3h0M170.8 312.5h0M189.4 264.9h0M182.5 269.0h0M180.7 280.3h0M174.5 309.2h0M196.8 288.6h0M189.4 306.9h0M186.3 226.2h0M180.8 272.1h0M190.6 245.7h0M178.8 254.9h0M198.8 316.4h0M202.3 273.6h0M181.3 285.2h0M201.6 289.4h0M191.8 270.7h0M179.3 259.5h0M170.6 274.6h0M174.8 313.7h0M180.7 260.2h0M176.8 301.5h0M202.9 278.8h0M181.9 288.6h0M188.8 307.1h0M203.6 280.7h0M197.9 285.3h0M188.0 285.2h0M169.3 269.6h0M192.0 268.4h0M175.5 269.1h0M184.1 256.0h0M182.3 251.4h0M182.8 282.0h0M173.7 282.3h0M186.0 263.4h0M195.6 315.7h0M173.0 308.3h0M185.7 268.1h0M207.3 301.3h0M178.9 309.3h0M178.5 257.7h0M178.5 297.2h0M168.5 266.8h0M200.3 284.6h0M185.9 250.9h0M181.0 295.1h0M208.1 290.5h0M204.4 285.4h0M190.3 272.5h0M193.8 309.0h0M206.3 275.3h0M190.9 247.0h0M175.7 288.3h0M185.9 230.5h0M180.5 288.9h0M174.3 296.2h0M200.2 308.6h0M180.6 257.7h0M165.9 274.9h0M177.0 314.6h0M176.6 266.8h0M201.5 288.7h0M184.8 278.6h0M193.8 313.6h0M185.1 232.1h0M192.2 278.0h0M185.6 245.2h0M205.5 305.4h0M178.0 304.3h0M180.5 254.7h0M168.5 302.3h0M172.7 300.5h0M177.3 243.9h0M183.7 232.4h0M188.5 301.8h0M181.3 284.2h0M186.5 313.3h0" stroke="#a8d46c" stroke-width="2.3" stroke-linecap="round" fill="none"/>
<path d="M188.7 287.4h0M194.6 263.1h0M199.2 306.8h0M186.6 313.6h0M194.5 298.9h0M170.4 289.0h0M175.8 257.7h0M191.8 258.6h0M184.2 243.0h0M201.7 314.7h0M207.2 286.0h0M188.0 292.1h0M187.7 253.6h0M180.4 318.2h0M187.2 240.0h0M205.6 278.3h0M176.6 278.5h0M168.5 270.8h0M175.7 277.7h0M192.1 225.9h0M173.8 263.1h0M166.5 296.9h0M171.2 308.1h0M206.2 274.9h0M178.7 311.6h0M192.7 262.8h0M190.7 279.5h0M178.0 303.0h0M171.4 308.6h0M179.8 235.4h0M199.5 296.4h0M187.1 275.2h0M187.1 296.2h0M166.5 309.3h0M183.8 283.3h0M201.9 281.0h0M171.5 293.5h0M177.2 272.8h0M209.5 298.4h0M195.4 287.0h0M199.8 246.9h0M199.1 282.4h0M199.7 267.0h0M181.8 282.8h0M187.8 255.4h0M176.1 302.9h0M171.4 266.7h0M174.1 263.8h0M189.4 305.8h0M193.2 250.4h0M193.4 258.4h0M197.4 269.0h0M199.5 273.1h0M178.6 260.6h0M175.5 317.8h0M197.3 254.1h0M191.5 230.5h0M196.9 309.6h0M193.8 313.2h0M187.5 299.3h0M175.6 234.8h0M200.0 247.7h0M188.5 223.3h0M198.8 267.0h0M205.6 267.2h0M164.0 308.7h0M173.8 292.2h0M201.7 265.7h0M194.9 300.5h0M184.2 264.7h0M180.7 234.0h0M196.8 278.7h0M168.8 262.4h0M200.5 273.4h0M179.0 297.7h0M186.5 259.5h0M195.6 253.7h0M182.5 280.1h0M199.3 279.9h0M179.6 260.4h0M196.4 269.5h0M189.1 305.8h0M181.0 255.4h0M178.3 291.0h0M173.2 251.6h0M184.9 316.2h0M181.3 266.4h0M191.2 281.4h0M168.7 289.2h0M177.8 287.2h0M204.4 315.6h0M204.2 309.1h0M187.2 311.3h0M183.0 299.0h0M183.1 273.8h0M185.2 234.3h0M191.7 243.3h0M191.3 305.7h0M202.5 292.0h0M196.9 252.0h0M166.6 288.3h0M170.3 260.5h0M207.4 292.6h0M179.5 300.5h0M177.2 281.3h0M180.5 232.2h0M197.7 272.1h0M200.3 263.7h0M204.0 298.7h0M171.9 313.1h0M184.2 255.3h0M194.6 308.8h0M173.2 277.6h0M176.6 302.7h0M170.5 300.1h0M177.1 311.7h0M179.3 284.9h0M178.8 302.7h0M190.2 314.6h0M169.6 287.5h0M181.3 314.7h0M172.6 284.7h0M165.0 309.0h0M201.3 312.0h0M179.0 275.8h0M175.5 281.0h0M176.5 313.1h0M200.5 247.5h0M177.3 259.7h0M174.6 278.0h0M190.5 299.9h0M181.1 282.3h0M188.4 281.3h0M176.0 255.6h0M184.4 248.5h0M179.5 237.6h0M181.9 315.1h0M171.4 259.5h0M179.8 266.7h0M181.2 305.5h0M189.1 309.0h0M194.3 303.6h0M191.8 234.5h0M188.7 238.5h0M179.8 313.6h0M172.5 250.3h0M168.1 263.6h0M169.1 279.5h0M208.5 309.9h0M199.1 291.5h0M180.1 262.7h0M166.5 301.8h0M174.5 283.7h0M179.7 246.4h0M201.3 279.7h0M174.9 294.6h0M202.0 289.7h0M174.4 262.7h0M203.0 279.5h0M180.1 291.9h0M190.3 269.7h0M185.4 295.2h0M186.4 288.7h0M170.5 295.0h0M193.5 282.2h0M177.9 301.5h0M189.2 248.1h0M186.1 245.6h0M199.0 261.5h0M172.6 258.0h0M197.2 272.5h0M182.6 288.0h0M192.1 312.2h0M185.2 287.9h0M191.3 275.1h0M178.5 265.6h0M188.3 247.7h0M194.1 281.0h0M198.7 314.1h0M202.5 283.3h0M166.5 287.1h0M168.1 266.8h0M184.7 231.7h0M176.0 298.8h0M193.7 232.0h0M173.9 261.6h0M180.7 281.8h0M182.6 234.1h0M182.2 259.7h0M187.8 240.7h0M188.0 226.8h0M170.1 276.1h0M199.5 269.6h0M193.0 317.4h0M190.8 312.7h0M171.9 315.4h0M180.7 306.2h0M180.6 261.2h0M187.5 309.4h0M183.1 244.7h0M170.2 268.4h0M191.1 245.4h0M188.8 236.8h0M185.7 278.0h0M178.9 264.4h0M202.1 272.9h0M167.5 315.7h0M192.4 312.3h0M177.4 296.4h0M183.4 235.5h0M184.1 233.9h0M180.6 289.2h0M193.5 228.3h0M196.3 269.5h0M195.9 273.6h0M188.8 229.8h0M188.5 260.4h0M183.9 311.4h0M195.9 308.2h0M165.7 296.4h0M176.6 303.2h0M188.8 256.3h0M178.3 313.8h0M194.3 297.9h0M193.8 309.6h0M206.6 294.4h0M188.5 273.5h0M180.1 259.8h0M170.0 267.9h0M182.9 240.4h0M186.0 302.5h0M167.5 311.2h0" stroke="#9ccb60" stroke-width="2.3" stroke-linecap="round" fill="none"/>
<path d="M189.5 262.4h0M189.6 308.5h0M197.8 280.2h0M168.7 270.3h0M196.3 249.5h0M170.8 304.7h0M173.7 298.7h0M178.7 266.6h0M201.9 312.0h0M173.6 271.2h0M201.1 296.5h0M203.9 314.3h0M184.5 307.1h0M184.1 308.3h0M188.6 244.0h0M170.7 298.0h0M168.9 270.7h0M177.3 283.7h0M178.1 314.0h0M180.8 246.0h0M187.4 258.0h0M197.2 258.7h0M182.9 247.9h0M182.7 264.4h0M200.4 272.7h0M185.2 236.5h0M182.4 273.6h0M170.7 285.1h0M198.1 274.4h0M197.4 299.6h0M173.0 287.0h0M189.3 289.5h0M177.4 293.7h0M186.1 279.7h0M206.5 311.0h0M187.1 259.7h0M204.2 309.1h0M194.1 314.5h0M187.4 257.1h0M203.1 263.6h0M195.3 263.5h0M207.3 289.0h0M194.9 247.3h0M171.4 295.5h0M183.4 252.9h0M169.6 303.7h0M188.9 297.4h0M177.3 281.1h0M181.2 236.9h0M200.6 281.7h0M201.9 295.6h0M198.5 277.8h0M172.4 253.1h0M200.2 302.4h0M173.0 313.3h0M193.3 268.8h0M186.6 227.5h0M187.3 250.5h0M196.8 314.3h0M182.5 287.0h0M170.7 250.7h0M169.0 293.9h0M190.7 289.4h0M177.8 303.3h0M202.7 271.1h0M178.5 240.6h0M180.9 284.2h0M178.9 279.4h0M175.2 270.3h0M182.1 228.9h0M196.6 317.3h0M187.9 234.7h0M184.5 233.5h0M175.0 287.2h0" stroke="#90c058" stroke-width="2.3" stroke-linecap="round" fill="none"/>
<path d="M186.5 243.4h0M185.1 308.8h0M181.3 314.2h0M201.2 271.2h0M201.0 292.6h0M167.2 293.5h0M179.4 287.5h0M180.7 250.7h0M172.2 309.6h0M207.2 294.1h0M196.3 291.5h0M188.5 260.3h0M208.4 270.7h0M168.7 290.4h0M184.6 268.7h0M173.1 272.7h0M182.6 304.1h0M200.5 309.1h0M196.9 277.1h0M204.6 299.8h0M186.0 282.0h0M185.5 239.1h0M175.4 266.5h0M179.2 250.7h0M172.5 280.4h0M193.9 243.2h0M165.4 299.7h0M184.4 301.2h0M175.6 264.2h0M186.4 263.5h0M166.7 306.2h0M184.7 303.7h0M175.6 256.2h0M200.8 286.1h0M191.0 311.7h0M180.8 279.6h0M193.2 281.9h0M190.9 255.6h0M171.3 280.8h0M200.6 305.9h0M178.3 267.7h0M181.6 283.4h0M179.0 235.3h0M178.3 316.5h0M205.1 292.5h0M191.6 285.9h0M185.0 249.1h0M207.0 307.9h0M202.1 265.2h0M182.5 290.1h0M195.1 235.7h0M190.4 264.6h0M185.1 230.5h0M167.9 310.6h0M190.3 281.6h0M176.7 250.5h0M185.0 263.2h0M180.1 238.5h0M186.3 264.3h0M187.3 269.7h0M201.5 296.5h0M168.9 296.5h0M175.2 259.6h0M192.2 289.6h0M176.3 248.1h0M183.6 266.7h0M177.1 275.5h0M191.8 307.0h0M204.4 311.9h0M190.7 236.7h0M186.4 231.5h0M192.1 255.1h0M204.7 306.6h0M186.0 297.9h0M191.7 313.8h0M180.8 274.0h0M182.9 292.4h0" stroke="#a8d46c" stroke-width="2.3" stroke-linecap="round" fill="none"/>
<path d="M181.6 291.1h0M174.3 309.7h0M209.9 303.6h0M169.3 258.0h0M194.3 240.1h0M168.5 307.5h0M177.0 314.3h0M175.2 318.5h0M176.1 237.4h0M183.0 254.1h0M186.8 291.4h0M201.4 250.7h0M198.5 258.3h0M189.4 251.1h0M189.2 242.9h0M171.8 294.4h0M177.6 256.7h0M205.9 290.2h0M166.3 271.9h0M172.0 270.6h0M172.4 273.5h0M183.8 237.2h0M186.7 307.3h0M184.1 247.2h0M202.2 271.6h0M187.9 311.2h0M177.2 251.2h0M195.5 256.7h0M190.4 282.8h0M186.8 231.0h0M187.5 294.4h0M171.0 313.1h0M202.8 285.9h0M185.7 282.9h0M198.7 281.9h0M179.5 279.5h0M183.0 230.9h0M183.0 278.5h0M175.6 305.4h0M200.9 312.3h0M183.6 312.8h0M171.1 304.4h0M168.6 261.2h0M174.2 283.3h0M195.3 310.4h0M190.3 317.6h0M203.5 276.2h0M177.8 306.4h0M192.0 249.0h0M207.0 290.2h0M190.4 267.6h0M188.7 285.3h0M196.8 278.2h0M178.9 311.8h0M173.5 265.9h0M188.5 235.4h0M192.0 281.2h0M190.9 284.1h0M175.6 263.1h0M191.1 274.2h0M180.0 278.9h0M169.1 302.7h0M188.6 309.8h0M196.5 286.5h0M167.6 255.6h0M166.6 308.9h0M204.4 298.2h0M170.1 278.2h0M197.7 298.1h0M187.1 226.9h0M178.0 300.2h0M191.1 268.0h0M183.6 299.4h0M207.0 299.8h0M180.6 270.3h0M202.8 312.5h0M189.5 250.4h0M173.1 257.3h0M191.7 253.8h0M186.7 254.2h0M181.1 279.6h0M178.4 273.8h0M181.9 319.2h0M183.4 258.9h0M184.3 254.6h0M196.0 255.0h0M167.4 312.0h0M181.1 258.2h0M208.7 295.6h0M203.7 301.8h0M174.1 292.6h0M200.9 268.6h0M197.0 265.2h0M170.7 266.8h0M196.0 294.3h0M189.1 270.5h0M198.6 310.4h0M171.7 276.1h0M195.8 238.4h0M170.4 312.7h0M180.1 273.8h0M200.3 284.2h0M203.8 305.5h0M180.9 254.7h0M189.3 315.7h0M183.9 279.5h0M204.1 277.4h0M189.5 297.2h0M170.1 291.0h0M184.7 257.8h0M188.7 239.5h0M197.5 290.5h0M205.6 285.1h0M170.5 255.4h0M194.2 293.1h0M195.3 278.3h0M199.6 278.1h0M172.3 252.7h0M202.7 274.0h0M199.4 308.7h0M181.7 249.1h0M174.2 292.7h0M183.8 269.3h0M202.3 269.8h0M187.3 293.9h0M196.4 245.0h0M199.3 297.4h0M181.5 289.9h0M180.0 312.1h0M169.2 272.2h0M181.4 303.3h0M186.8 298.0h0M175.5 263.1h0M178.8 319.6h0M186.1 229.7h0M170.7 282.8h0M181.6 318.6h0M201.1 255.7h0M203.7 288.2h0M177.8 275.7h0M199.5 313.3h0M166.9 277.5h0M185.4 238.0h0M172.2 289.4h0M183.3 248.7h0M187.8 265.1h0M169.5 257.3h0M175.0 268.2h0M184.9 239.1h0M188.5 303.3h0M174.5 270.8h0M167.1 308.2h0M183.4 248.6h0M202.1 277.5h0M166.4 269.3h0M179.5 275.3h0M178.4 257.0h0M184.7 237.6h0M180.7 240.1h0M206.3 285.8h0M195.2 292.0h0M191.8 263.3h0M208.0 289.5h0M189.3 314.7h0M192.6 283.0h0M190.7 317.1h0M208.6 303.5h0M179.9 259.4h0M196.0 291.9h0M182.2 301.5h0M181.0 280.2h0M189.8 280.4h0M174.4 314.7h0M175.7 281.6h0M171.9 272.3h0M171.7 313.2h0M204.9 291.6h0M206.3 314.1h0M192.9 297.7h0M178.3 313.2h0M198.6 299.5h0M184.6 279.6h0M175.2 284.0h0M168.9 298.3h0M194.7 262.9h0M177.6 282.2h0M194.5 317.9h0M195.6 314.3h0M180.3 303.4h0M203.2 305.1h0M182.6 236.2h0M175.5 253.6h0M193.7 277.9h0M196.4 296.9h0M205.2 277.8h0M188.7 268.4h0M194.2 267.7h0M198.9 259.9h0M191.6 310.4h0M188.3 253.2h0M180.7 262.1h0M188.3 272.5h0M191.0 244.7h0M199.3 286.9h0M173.0 286.7h0M195.1 252.2h0M187.1 250.4h0M206.1 297.9h0M174.6 256.8h0M181.5 298.4h0M193.1 311.1h0M189.8 276.1h0M192.2 264.7h0M173.9 306.5h0M176.9 301.4h0M195.8 270.8h0M188.6 298.1h0M188.8 234.8h0M178.9 317.1h0M192.8 315.0h0M175.5 312.8h0M178.4 292.5h0M196.1 299.2h0M190.3 288.6h0M186.0 247.0h0M188.2 227.5h0M183.2 241.4h0M177.4 239.4h0M179.0 275.1h0M175.1 280.2h0M200.6 305.7h0M172.6 263.3h0" stroke="#9ccb60" stroke-width="2.3" stroke-linecap="round" fill="none"/>
<path d="M208.0 304.4h0M188.4 230.7h0M176.0 305.4h0M184.9 247.1h0M191.1 278.2h0M188.2 256.5h0M182.2 291.0h0M188.9 246.0h0M182.1 250.1h0M210.1 304.3h0M191.5 231.6h0M168.3 297.0h0M177.2 265.3h0M172.6 259.8h0M196.0 255.5h0M164.1 301.0h0M167.6 282.2h0M182.6 312.5h0M200.2 305.6h0M199.0 312.1h0M192.5 315.0h0M170.2 306.7h0M200.0 303.3h0M179.9 235.1h0M171.4 258.9h0M204.1 310.6h0M190.4 313.8h0M177.0 302.0h0M187.6 307.8h0M189.3 316.7h0M179.5 266.5h0M190.6 238.0h0M174.2 290.6h0M204.3 293.7h0M186.6 282.6h0M189.7 243.8h0M178.9 281.4h0M173.9 315.8h0M167.5 300.3h0M182.6 309.7h0M194.5 268.1h0M166.4 305.1h0M179.5 255.3h0M175.4 305.7h0M175.7 243.0h0M195.9 253.4h0M190.3 284.7h0M200.4 290.9h0M197.1 302.3h0M191.4 228.9h0M181.9 319.7h0M170.5 302.6h0M166.6 275.8h0M195.0 273.3h0M175.6 317.4h0M187.4 277.9h0M204.4 293.7h0M191.5 241.9h0M193.0 287.5h0M180.1 312.6h0M184.9 275.7h0M184.1 250.6h0M198.7 273.3h0M173.2 281.4h0M194.0 273.0h0M185.0 243.1h0M184.1 271.1h0M187.2 245.1h0M192.5 267.1h0M170.1 317.1h0M188.0 312.9h0M171.7 302.9h0M184.6 229.8h0M175.8 263.6h0" stroke="#90c058" stroke-width="2.3" stroke-linecap="round" fill="none"/>
<path d="M185.8 289.1h0M191.8 258.9h0M204.9 292.6h0M183.9 236.4h0M206.0 311.3h0M190.7 291.7h0M205.5 311.4h0M174.8 298.9h0M194.8 299.1h0M183.7 274.8h0M174.1 258.5h0M187.6 280.0h0M199.6 272.5h0M205.7 285.2h0M186.0 308.3h0M172.8 269.6h0M173.8 258.7h0M187.7 284.3h0M187.4 255.0h0M182.1 263.8h0M193.5 261.2h0M190.5 309.7h0M181.7 278.4h0M188.6 251.3h0M200.3 258.5h0M191.0 238.7h0M181.7 240.7h0M192.2 305.7h0M169.6 269.0h0M201.2 290.4h0M198.6 286.3h0M174.9 297.1h0M204.4 280.3h0M169.8 275.5h0M184.6 240.9h0M176.7 250.1h0M173.4 263.8h0M182.0 247.3h0M188.5 305.4h0M171.6 317.0h0M199.8 285.5h0M193.5 267.5h0M186.9 266.1h0M190.9 238.8h0M184.8 273.1h0M206.7 289.9h0M166.0 307.0h0M186.0 228.1h0M173.8 248.2h0M200.1 267.6h0M187.1 270.0h0M166.1 262.8h0M190.6 253.9h0M171.8 246.3h0M193.3 245.9h0M189.9 252.2h0M200.7 247.6h0M177.9 277.2h0M170.1 276.8h0M189.5 300.2h0M181.4 260.9h0M205.1 265.1h0M208.4 306.1h0M202.3 308.1h0M166.4 300.6h0M183.1 315.2h0M185.0 238.6h0M187.7 232.2h0M174.2 300.2h0M198.4 282.8h0M207.7 295.3h0M165.1 276.1h0M185.8 247.6h0M190.1 286.1h0M167.2 252.5h0M186.5 286.7h0M175.4 283.6h0" stroke="#a8d46c" stroke-width="2.3" stroke-linecap="round" fill="none"/>
<path d="M167.2 263.8h0M184.8 287.8h0M191.4 280.7h0M184.4 275.1h0M186.8 252.6h0M180.0 282.6h0M179.0 308.5h0M181.5 242.0h0M189.1 245.0h0M176.6 270.2h0M184.5 300.9h0M194.7 241.2h0M170.4 279.8h0M172.7 280.9h0M205.9 305.5h0M199.1 290.2h0M186.1 241.4h0M182.9 273.3h0M186.5 294.5h0M176.7 303.9h0M202.0 267.4h0M187.9 228.8h0M190.2 299.9h0M180.0 256.7h0M179.7 255.3h0M169.7 280.9h0M191.6 310.5h0M194.4 299.3h0M196.7 244.2h0M184.1 235.3h0M207.0 277.2h0M199.1 293.2h0M173.3 283.0h0M199.1 274.9h0M176.7 315.1h0M198.5 270.3h0M178.2 271.7h0M178.3 312.8h0M206.3 286.4h0M189.5 253.6h0M192.4 262.9h0M180.5 261.5h0M207.8 306.7h0M193.3 306.4h0M203.7 313.0h0M171.9 315.1h0M192.1 287.1h0M176.2 314.3h0M178.4 255.0h0M184.4 285.1h0M192.8 249.5h0M202.9 291.4h0M171.6 267.9h0M177.1 271.8h0M176.3 303.9h0M194.0 257.2h0M188.4 280.9h0M168.3 310.0h0M195.5 256.0h0M170.3 273.6h0M172.0 296.7h0M205.2 298.6h0M202.3 268.9h0M166.6 314.8h0M169.3 295.3h0M195.1 275.1h0M184.7 293.8h0M192.8 257.8h0M191.1 314.3h0M206.0 302.6h0M183.6 303.3h0M202.7 267.4h0M179.5 293.9h0M198.2 302.3h0M167.3 263.0h0M176.9 311.0h0M191.0 255.8h0M172.9 285.0h0M170.6 266.7h0M191.4 296.4h0M183.7 298.1h0M197.7 273.5h0M197.6 279.7h0M188.8 281.1h0M188.9 282.3h0M193.7 289.2h0M179.2 297.8h0M191.5 279.1h0M171.9 300.9h0M191.4 274.2h0M178.4 298.6h0M186.3 232.7h0M197.5 280.2h0M184.5 230.9h0M192.5 255.6h0M201.6 260.7h0M202.8 314.2h0M177.1 241.2h0M186.7 309.9h0M189.4 264.7h0M190.3 299.5h0M189.7 268.4h0M195.3 296.8h0M192.9 281.4h0M180.6 302.9h0M175.6 315.1h0M185.6 257.8h0M181.5 242.4h0M181.5 241.9h0M192.2 236.2h0M176.2 308.8h0M177.7 304.4h0M183.5 291.4h0M184.6 255.3h0M188.1 242.0h0M194.3 231.6h0M168.4 297.9h0M200.4 289.9h0M177.0 269.4h0M183.8 295.4h0M191.8 280.5h0M197.7 257.0h0M184.8 297.4h0M187.8 237.1h0M183.8 265.5h0M179.9 299.3h0M171.9 278.1h0M194.7 244.7h0M197.1 257.5h0M167.7 281.1h0M179.4 255.1h0M173.1 257.6h0M178.1 284.1h0M203.3 297.5h0M203.2 304.1h0M176.6 241.6h0M176.1 246.6h0M175.4 312.8h0M190.9 234.4h0M175.2 311.9h0M196.0 291.4h0M204.1 306.6h0M192.7 236.8h0M190.4 277.3h0M205.4 288.1h0M192.4 232.3h0M182.5 284.1h0M186.0 277.4h0M182.5 262.4h0M169.1 255.8h0M208.0 295.2h0M182.1 250.2h0M188.8 272.2h0M209.5 306.8h0M171.7 278.0h0M170.9 316.5h0M176.7 298.8h0M167.9 299.4h0M177.4 247.7h0M168.8 273.8h0M206.5 309.8h0M179.5 306.0h0M193.2 251.8h0M170.0 257.5h0M189.2 291.8h0M186.2 316.5h0M184.3 270.7h0M195.5 239.7h0M181.1 317.2h0M169.0 267.3h0M184.5 289.1h0M177.2 291.5h0M201.5 298.7h0M185.7 246.2h0M196.6 257.7h0M202.9 264.9h0M173.6 305.3h0M177.8 259.7h0M178.5 293.2h0M182.2 287.1h0M178.4 292.8h0M186.1 299.1h0M186.1 269.0h0M193.7 303.3h0M182.5 275.6h0M192.1 263.3h0M177.9 307.2h0M170.3 306.4h0M169.2 312.4h0M187.6 230.5h0M192.4 267.1h0M193.5 280.4h0M207.2 289.1h0M180.4 304.4h0M198.5 312.7h0M198.1 312.4h0M174.6 276.8h0M177.0 294.4h0M202.7 284.4h0M166.0 281.3h0M205.8 273.8h0M175.3 287.1h0M181.2 311.2h0M193.0 299.1h0M201.2 276.4h0M175.0 279.1h0M207.1 295.8h0M175.5 309.4h0M196.0 274.2h0M191.7 290.9h0M182.2 249.3h0M184.0 287.8h0M197.8 289.4h0M182.3 264.1h0M183.6 273.4h0M190.3 231.3h0M189.1 235.9h0M186.7 231.5h0M188.2 294.6h0M169.6 307.5h0M195.8 243.9h0M176.8 251.2h0M183.1 275.5h0M178.7 284.6h0M177.1 257.8h0M194.7 286.7h0M186.3 279.0h0M180.5 298.5h0M167.6 287.0h0M189.7 280.0h0M164.7 277.1h0M195.5 263.9h0" stroke="#9ccb60" stroke-width="2.3" stroke-linecap="round" fill="none"/>
<path d="M184.8 256.4h0M202.3 275.3h0M172.4 312.9h0M175.6 245.6h0M204.7 305.9h0M200.1 297.7h0M170.0 316.8h0M197.3 265.7h0M180.5 302.1h0M174.1 243.5h0M190.1 291.5h0M192.1 282.0h0M201.4 272.5h0M175.4 288.1h0M168.8 270.9h0M184.6 311.1h0M185.7 293.9h0M184.3 253.5h0M199.1 305.5h0M200.9 302.5h0M190.5 257.4h0M177.3 292.4h0M186.0 288.5h0M187.4 288.7h0M171.6 268.5h0M197.8 289.3h0M177.2 265.8h0M183.2 311.5h0M173.7 274.8h0M170.8 314.7h0M197.3 248.3h0M189.8 290.4h0M174.9 240.9h0M200.0 241.5h0M187.1 232.3h0M167.9 291.2h0M207.8 309.9h0M189.4 273.3h0M196.7 291.1h0M193.8 252.2h0M204.1 276.6h0M204.4 315.6h0M168.9 265.9h0M176.8 305.9h0M193.4 276.4h0M177.7 311.0h0M195.8 306.8h0M187.0 258.1h0M170.0 310.2h0M196.3 262.2h0M184.0 262.6h0M201.7 292.5h0M175.4 281.2h0M172.5 261.4h0M167.8 306.0h0M189.2 278.4h0M169.5 311.1h0M167.6 301.6h0M208.6 308.0h0M181.2 248.8h0M171.2 276.4h0M178.6 294.8h0M182.6 286.7h0M190.8 298.9h0M176.9 274.5h0M200.7 274.6h0M186.5 235.2h0M169.5 303.1h0M192.7 245.9h0M192.8 265.8h0M184.4 250.3h0M185.8 233.9h0M175.9 294.1h0M175.7 277.5h0" stroke="#90c058" stroke-width="2.3" stroke-linecap="round" fill="none"/>
<path d="M199.4 248.4h0M184.7 233.6h0M203.0 276.2h0M168.7 260.4h0M167.2 307.1h0M172.0 258.9h0M195.1 308.9h0M199.6 309.7h0M175.4 255.6h0M193.0 288.1h0M189.0 317.0h0M175.7 256.6h0M204.0 302.3h0M177.1 240.5h0M191.7 228.4h0M193.2 246.3h0M191.6 308.3h0M182.7 296.3h0M189.1 304.7h0M171.7 300.8h0M170.6 293.5h0M208.5 289.5h0M203.4 282.7h0M172.0 286.9h0M191.0 307.4h0M191.6 307.6h0M193.7 300.3h0M183.5 241.0h0M205.2 290.5h0M184.2 307.4h0M189.7 244.4h0M200.5 280.9h0M184.0 319.5h0M184.8 283.5h0M186.1 230.4h0M173.1 277.2h0M203.0 288.2h0M171.4 295.2h0M167.1 308.2h0M193.9 300.3h0M189.1 285.8h0M190.2 268.2h0M176.9 247.1h0M189.4 221.7h0M204.2 299.2h0M195.9 290.3h0M199.2 298.0h0M176.5 290.2h0M175.0 249.0h0M186.7 234.1h0M200.3 255.7h0M199.6 312.9h0M187.2 265.9h0M185.5 292.5h0M204.6 295.5h0M193.3 257.7h0M181.1 260.6h0M186.6 231.1h0M167.7 308.5h0M181.3 269.0h0M187.1 266.3h0M174.8 300.1h0M190.7 300.4h0M166.6 296.3h0M184.4 259.5h0M176.0 308.2h0M174.9 248.3h0M204.0 277.2h0M176.9 287.4h0M201.6 272.4h0M169.1 256.4h0M168.4 312.3h0M190.8 308.6h0M187.2 296.4h0M187.3 281.1h0M198.8 305.1h0M202.1 316.3h0" stroke="#a8d46c" stroke-width="2.3" stroke-linecap="round" fill="none"/>
<path d="M205.2 292.7h0M202.7 289.1h0M169.0 276.4h0M182.3 268.4h0M189.8 235.6h0M194.8 290.3h0M202.7 283.2h0M195.8 296.0h0M172.5 285.2h0M201.8 296.9h0M170.5 310.0h0M179.6 286.2h0M206.3 286.8h0M193.5 244.7h0M193.9 246.8h0M197.3 315.2h0M194.7 263.3h0M185.6 269.1h0M172.3 295.4h0M167.1 282.5h0M190.0 262.1h0M170.9 271.8h0M198.1 252.3h0M198.6 261.5h0M195.3 281.5h0M192.4 240.1h0M199.0 309.0h0M189.8 275.9h0M191.2 255.8h0M186.4 236.5h0M191.1 307.8h0M168.9 277.4h0M197.6 296.9h0M176.6 268.9h0M168.4 259.5h0M180.9 313.5h0M170.6 249.8h0M190.1 313.1h0M179.5 258.7h0M182.4 276.5h0M171.2 255.2h0M193.0 288.7h0M181.2 291.0h0M195.1 226.0h0M194.9 254.4h0M180.2 237.9h0M182.8 277.6h0M196.5 247.9h0M196.8 273.6h0M187.2 255.6h0M183.5 241.8h0M201.5 298.6h0M171.6 308.5h0M194.5 268.6h0M170.9 272.8h0M180.6 307.8h0M178.4 245.5h0M178.1 284.5h0M175.5 294.6h0M173.0 298.4h0M198.6 285.8h0M171.8 283.7h0M193.0 237.2h0M187.5 308.8h0M188.7 309.1h0M190.2 252.2h0M189.8 288.2h0M191.4 232.0h0M193.5 271.2h0M177.7 245.1h0M171.4 301.9h0M185.3 320.0h0M192.4 282.3h0M188.9 231.9h0M190.9 245.6h0M179.8 299.9h0M181.8 314.6h0M188.0 304.9h0M177.9 263.8h0M186.2 308.4h0M182.0 282.1h0M189.6 285.9h0M185.2 313.4h0M189.7 292.8h0M198.7 257.1h0M190.3 308.0h0M201.5 256.1h0M180.7 270.6h0M200.0 247.3h0M199.3 239.8h0M198.2 290.0h0M180.1 302.7h0M181.2 293.6h0M206.4 301.4h0M190.8 243.7h0M195.8 249.2h0M184.2 233.0h0M208.2 300.1h0M199.2 270.5h0M181.5 236.4h0M166.3 290.8h0M190.8 287.8h0M200.9 298.2h0M202.8 296.3h0M182.0 260.8h0M188.3 245.3h0M182.1 286.3h0M196.1 239.5h0M179.0 247.0h0M185.4 275.5h0M205.3 312.0h0M199.4 249.6h0M170.8 280.6h0M182.5 256.4h0M194.2 247.0h0M174.8 282.5h0M197.6 243.9h0M209.1 305.8h0M190.9 268.8h0M173.8 309.9h0M175.0 317.9h0M205.2 303.4h0M192.3 237.7h0M187.1 313.8h0M202.4 297.3h0M184.9 234.7h0M170.9 275.3h0M182.6 299.5h0M193.4 305.2h0M193.0 285.1h0M196.3 286.0h0M181.9 287.0h0M184.0 285.6h0M194.5 302.9h0M193.4 247.6h0M198.9 256.9h0M176.0 306.5h0M187.6 245.3h0M189.1 263.1h0M170.3 298.5h0M192.1 282.6h0M193.8 304.7h0M200.1 306.6h0M188.3 273.0h0M173.1 253.8h0M177.4 310.1h0M204.7 278.4h0M177.7 261.5h0M180.8 304.4h0M184.5 319.0h0M202.0 277.0h0M181.1 273.1h0M170.6 294.1h0M179.9 302.4h0M185.4 245.0h0M187.2 302.9h0M169.4 297.5h0M185.5 310.5h0M181.3 281.5h0M187.2 221.1h0M186.5 291.3h0M180.3 293.5h0M174.6 283.8h0M185.0 267.7h0M208.5 303.6h0M186.9 282.9h0M195.5 270.1h0M183.8 297.4h0M201.5 315.5h0M171.8 295.2h0M198.5 307.7h0M174.3 309.8h0M190.1 256.0h0M188.7 249.7h0M188.3 279.8h0M184.1 229.7h0M184.4 232.0h0M193.7 294.0h0M203.7 289.5h0M192.7 242.0h0M187.1 263.3h0M195.7 309.8h0M193.3 268.2h0M170.2 297.6h0M194.0 281.8h0M166.9 305.8h0M174.7 246.7h0M186.8 247.5h0M192.8 246.1h0M196.2 257.5h0M196.3 264.3h0M193.5 279.0h0M177.5 259.7h0M199.9 250.9h0M168.6 280.6h0M201.1 282.4h0M183.4 290.1h0M178.7 283.4h0M174.8 293.7h0M180.4 278.0h0M169.4 280.1h0M201.9 282.3h0M184.2 273.2h0M197.7 289.5h0M177.8 253.3h0M188.7 305.2h0M202.5 299.7h0M194.9 311.8h0M196.0 282.4h0M185.8 266.6h0M171.3 302.3h0M188.6 259.1h0M197.3 271.6h0M173.8 253.4h0M166.7 309.5h0M190.0 261.8h0M170.8 265.6h0M178.6 258.8h0M178.9 284.3h0M179.6 276.7h0M201.5 310.9h0M200.8 255.4h0M192.2 252.0h0M173.0 298.5h0M186.7 305.8h0M204.9 300.3h0M168.4 293.0h0M187.5 241.5h0M185.3 318.1h0M195.4 264.9h0M177.3 254.5h0" stroke="#9ccb60" stroke-width="2.3" stroke-linecap="round" fill="none"/>
<path d="M182.7 317.8h0M194.7 286.9h0M193.6 268.3h0M191.8 281.0h0M167.0 315.5h0M178.1 262.3h0M181.2 288.7h0M172.8 312.0h0M186.5 270.2h0M186.7 295.3h0M167.3 300.7h0M185.7 312.6h0M184.8 254.6h0M201.5 301.7h0M199.0 261.7h0M183.5 267.9h0M173.7 310.3h0M187.7 247.5h0M187.2 245.7h0M201.8 295.3h0M195.9 276.5h0M209.0 299.3h0M174.6 287.0h0M169.9 266.2h0M191.1 316.1h0M193.0 309.4h0M181.0 275.7h0M180.8 266.7h0M204.6 299.4h0M176.3 253.6h0M177.7 236.7h0M207.7 292.4h0M195.8 272.8h0M168.9 259.0h0M195.1 297.6h0M170.4 264.0h0M188.7 268.1h0M183.3 229.3h0M190.9 234.9h0M188.9 291.1h0M198.8 260.0h0M181.2 276.8h0M183.2 252.9h0M204.8 278.9h0M167.4 311.7h0M186.3 231.9h0M174.2 254.4h0M184.2 245.6h0M194.1 294.5h0M201.5 268.0h0M185.8 260.3h0M174.2 243.3h0M198.6 270.7h0M199.3 252.4h0M188.3 314.0h0M190.1 289.4h0M198.5 289.1h0M189.3 264.5h0M191.7 284.0h0M200.2 278.5h0M195.0 276.2h0M182.2 318.2h0M204.3 302.7h0M198.1 259.6h0M173.7 290.1h0M192.1 275.2h0M177.6 298.5h0M205.3 295.2h0M189.8 272.6h0M184.9 233.2h0M195.6 260.1h0M168.1 287.4h0M180.6 262.1h0M188.8 297.4h0" stroke="#90c058" stroke-width="2.3" stroke-linecap="round" fill="none"/>
<path d="M169.1 280.2h0M174.1 305.6h0M199.8 277.1h0M192.7 278.9h0M171.1 300.3h0M177.1 265.1h0M175.4 253.3h0M169.7 288.1h0M170.0 265.1h0M183.8 299.1h0M171.7 252.5h0M170.8 316.1h0M195.5 266.1h0M190.5 236.4h0M175.2 317.5h0M199.4 298.0h0M181.7 229.1h0M189.8 240.8h0M197.3 274.8h0M178.5 290.2h0M183.8 262.4h0M186.9 250.0h0M193.4 304.8h0M172.7 314.2h0M170.4 300.1h0M200.7 293.1h0M169.9 258.0h0M166.2 309.2h0M176.3 310.1h0M187.6 236.0h0M182.8 229.7h0M194.4 314.3h0M195.6 247.1h0M191.1 278.1h0M200.1 308.1h0M174.1 307.1h0M177.3 236.2h0M182.4 262.8h0M184.8 260.1h0M178.3 273.8h0M207.4 285.8h0M203.0 310.5h0M202.0 293.9h0M201.1 262.6h0M165.0 281.0h0M180.3 255.9h0M194.4 282.5h0M206.5 284.8h0M208.2 294.4h0M189.7 315.7h0M174.5 241.9h0M190.8 290.0h0M179.4 305.8h0M190.2 317.4h0M201.9 268.8h0M206.3 281.0h0M173.7 306.7h0M185.4 227.9h0M183.8 296.8h0M205.9 300.9h0M172.6 250.3h0M190.1 267.7h0M191.0 293.9h0M174.7 259.5h0M192.2 303.5h0M182.3 297.9h0M194.5 276.3h0M175.6 260.5h0M206.6 297.3h0M175.0 298.6h0M164.0 295.1h0M171.2 278.4h0M192.2 279.1h0M185.6 242.6h0M204.6 279.5h0M166.0 277.7h0M181.6 284.1h0" stroke="#a8d46c" stroke-width="2.3" stroke-linecap="round" fill="none"/>
<path d="M211.3 294.0h0M221.7 309.3h0M176.3 229.6h0M192.7 223.9h0M199.8 241.4h0M223.0 272.5h0M199.2 235.5h0M193.8 228.6h0M196.7 227.8h0M208.3 290.4h0M221.4 284.8h0M220.9 284.9h0M218.2 300.6h0M227.2 275.3h0M228.1 306.1h0M212.4 307.0h0M212.5 293.7h0M207.7 308.0h0M177.3 235.1h0M210.9 316.5h0M219.8 305.1h0M213.4 277.4h0M227.0 289.6h0M222.4 278.9h0M205.2 270.7h0M212.1 274.4h0M215.9 300.4h0M208.9 305.6h0M229.7 309.9h0M208.3 288.4h0M226.8 293.9h0M218.2 309.1h0M206.6 315.4h0M221.8 287.5h0M226.1 310.6h0M226.2 275.5h0M211.3 301.9h0M227.8 302.6h0M224.8 304.3h0M198.1 241.0h0M207.1 277.9h0M214.7 298.0h0M229.7 301.9h0M214.9 279.2h0M223.9 303.9h0M214.9 302.8h0M225.0 273.2h0M208.3 274.0h0M176.8 225.8h0M221.5 273.1h0M229.0 290.3h0M199.9 228.2h0M208.5 270.3h0M206.8 313.6h0M210.4 299.2h0M223.8 278.2h0M216.7 284.6h0M177.9 233.2h0M216.5 293.8h0M218.9 294.1h0M222.1 284.3h0M218.0 311.4h0M227.0 274.1h0M213.5 290.3h0M195.8 231.4h0M218.8 297.5h0M198.1 240.4h0M198.6 221.3h0M226.6 293.6h0M229.3 272.7h0" stroke="#a2cd68" stroke-width="1.6" stroke-linecap="round" fill="none"/>
<path d="M215.3 298.6h0M213.3 296.8h0M206.5 306.8h0M205.3 297.0h0M224.9 304.2h0M215.6 303.2h0M228.0 294.2h0M222.5 305.8h0M210.7 298.7h0M209.3 294.7h0M226.9 300.1h0M205.5 295.8h0M213.8 297.8h0M212.9 297.9h0M219.5 306.5h0M227.1 301.3h0M226.3 299.1h0M216.1 305.8h0M212.3 300.1h0M216.2 302.2h0M215.4 304.3h0M218.7 304.5h0M222.2 298.2h0M206.5 298.0h0M225.5 303.8h0M224.8 302.7h0M216.9 302.9h0M218.5 305.3h0M208.1 301.5h0M225.9 298.2h0" stroke="#9ccb60" stroke-width="2.0" stroke-linecap="round" fill="none"/>
<path d="M135.6 291.2h0M141.1 303.9h0M168.5 295.9h0M180.5 300.6h0M189.7 301.6h0M145.6 304.6h0M111.4 310.7h0M167.9 296.9h0M146.2 294.4h0M163.2 308.2h0M146.0 297.0h0M171.6 307.7h0M197.9 316.5h0M131.9 307.1h0M193.2 303.8h0M91.9 319.1h0M186.0 299.0h0M142.2 308.5h0M155.5 306.9h0M102.9 322.6h0M191.1 306.2h0M100.8 314.8h0M102.7 329.3h0M115.9 321.0h0" stroke="#ec9a2c" stroke-width="2.5" stroke-linecap="round" fill="none"/>
<path d="M121.6 300.2h0M153.0 294.1h0M102.2 297.3h0M102.9 277.5h0M140.6 278.9h0M161.8 279.3h0M94.9 270.3h0M95.9 262.0h0M111.4 270.5h0M144.9 305.7h0M97.5 304.7h0M89.9 301.1h0M160.2 283.3h0M101.9 293.3h0M152.4 306.7h0M101.4 298.2h0M117.8 287.3h0M163.1 275.0h0M141.3 265.7h0M143.8 301.1h0M98.2 301.9h0M160.7 285.1h0M97.0 305.4h0M128.0 290.3h0M126.9 298.1h0M120.7 299.9h0M113.7 304.5h0M114.8 296.6h0M122.0 284.1h0M135.6 290.8h0M147.1 293.4h0M105.8 296.1h0M103.7 287.3h0M145.5 278.0h0M146.4 283.6h0M96.9 287.4h0M88.3 289.5h0M135.6 273.6h0M150.0 268.6h0M159.3 266.2h0M91.7 275.5h0M169.5 267.2h0M108.8 270.7h0M117.7 284.9h0M129.2 281.6h0M147.2 290.1h0M154.6 275.2h0M127.2 288.2h0M168.1 272.8h0M129.0 265.6h0M131.9 273.6h0M137.0 281.2h0M154.5 290.9h0M157.6 294.5h0M164.2 263.4h0M97.5 307.9h0M129.4 280.8h0M163.7 287.2h0M159.0 270.8h0M113.0 284.4h0M171.7 301.9h0M172.3 282.7h0M158.7 275.4h0M157.7 294.8h0M127.0 286.2h0M101.9 282.5h0M140.3 281.2h0M162.2 273.1h0" stroke="#e47a32" stroke-width="2.5" stroke-linecap="round" fill="none"/>
<path d="M191.7 303.1h0M150.6 302.9h0M169.9 314.2h0M155.4 289.3h0M123.9 299.8h0M89.8 318.5h0M131.0 298.2h0M166.2 306.7h0M204.1 300.0h0M207.5 306.6h0M120.4 320.6h0M135.3 300.4h0M161.0 299.4h0M167.9 297.5h0M160.6 302.7h0M186.7 303.2h0M170.2 310.2h0M161.2 304.6h0M162.1 305.8h0M98.6 315.6h0M139.3 296.1h0M185.7 309.2h0M206.2 308.7h0M114.8 316.9h0M103.8 310.0h0M121.2 296.8h0M163.0 295.5h0M105.9 312.5h0M140.1 309.3h0M170.7 300.0h0M179.6 320.4h0M167.4 306.0h0M129.9 306.4h0M98.5 320.6h0M139.0 297.9h0M153.0 296.2h0M174.5 298.0h0M95.4 317.3h0M107.7 316.6h0M118.6 303.9h0M179.5 303.3h0M144.9 299.5h0M94.8 313.2h0M194.1 306.8h0M190.5 301.3h0M160.4 303.8h0M147.2 297.5h0" stroke="#f0aa28" stroke-width="2.5" stroke-linecap="round" fill="none"/>
<path d="M162.2 299.1h0M154.0 287.3h0M101.0 318.7h0M98.2 315.3h0M124.2 309.2h0M157.0 310.2h0M169.1 298.1h0M138.9 315.1h0M163.6 316.3h0M184.5 306.4h0M116.6 298.3h0M94.6 326.1h0M94.2 310.7h0M128.8 304.5h0M116.2 316.5h0M108.5 324.7h0M163.4 302.7h0M139.0 298.9h0M150.4 295.6h0M115.6 312.8h0M159.0 307.8h0M130.7 308.1h0M126.3 289.0h0M118.3 323.7h0M193.9 308.6h0M182.8 292.6h0M191.2 302.1h0M100.5 315.7h0M150.8 305.6h0M199.0 298.4h0M149.8 309.0h0M93.0 315.0h0M147.3 294.1h0M125.3 302.2h0M201.5 297.7h0M94.3 318.1h0M144.7 301.8h0M161.5 309.6h0M170.3 306.8h0M111.2 309.8h0M132.2 296.9h0M116.3 307.7h0M172.3 300.0h0M203.0 305.4h0M144.5 306.2h0M132.5 297.6h0M163.7 302.2h0M192.4 300.7h0" stroke="#e4cc22" stroke-width="2.5" stroke-linecap="round" fill="none"/>
<path d="M147.7 290.2h0M105.7 307.2h0M108.9 287.3h0M142.0 266.9h0M169.3 271.9h0M92.7 305.1h0M133.1 266.6h0M108.4 280.2h0M128.5 276.4h0M132.8 295.8h0M112.5 268.1h0M92.2 307.5h0M116.3 297.6h0M119.4 271.1h0M90.0 296.2h0M148.0 268.7h0M90.6 289.8h0M131.1 286.5h0M104.3 306.7h0M147.8 280.3h0M165.0 284.6h0M159.4 286.2h0M166.8 261.7h0M171.3 293.8h0M154.1 281.6h0M126.9 287.9h0M138.9 296.5h0M103.6 275.7h0M125.9 291.2h0M117.4 282.5h0M147.9 289.2h0M137.3 289.6h0M168.2 265.2h0M118.8 290.4h0M170.7 274.6h0M99.1 297.4h0M116.9 293.3h0M153.9 287.8h0M124.8 307.4h0M149.1 273.1h0M122.5 289.5h0M129.9 268.5h0M191.5 298.7h0M134.7 278.4h0M121.7 279.4h0M135.1 260.7h0M157.6 280.3h0M93.6 275.3h0M139.1 262.9h0M129.3 290.3h0M202.1 300.0h0M186.9 302.9h0M117.6 281.9h0M181.3 292.2h0M128.0 295.5h0M132.8 277.4h0M146.9 268.5h0M132.4 287.0h0M96.9 302.8h0M135.4 279.5h0M166.9 261.4h0M162.5 287.0h0M102.3 301.1h0M147.8 291.1h0M140.6 298.7h0M126.0 270.1h0M92.1 300.3h0M94.7 289.4h0M136.7 283.0h0M174.5 298.7h0M104.0 311.2h0M116.6 292.5h0M164.1 290.1h0M94.4 284.7h0M149.8 268.3h0M154.9 274.2h0M131.5 278.8h0M110.0 289.8h0M182.7 309.3h0M114.3 285.0h0M99.8 279.4h0M189.7 302.2h0M144.8 279.2h0M148.2 270.8h0M104.9 308.5h0M163.3 287.3h0M103.2 272.3h0M126.9 275.8h0M116.4 281.6h0M147.0 286.5h0M100.3 277.0h0M109.4 275.5h0M102.9 286.5h0M164.7 296.7h0M93.2 285.3h0M141.4 289.5h0M127.6 266.5h0M144.1 265.4h0M142.0 272.7h0M164.4 277.7h0M125.4 272.4h0M150.4 291.9h0M159.7 285.2h0M129.9 257.3h0M126.9 273.3h0M119.7 285.7h0M165.0 273.0h0M104.8 308.1h0M174.7 295.6h0M150.7 290.6h0M91.4 283.2h0" stroke="#ec902e" stroke-width="2.5" stroke-linecap="round" fill="none"/>
<path d="M129.5 240.8h0M113.4 248.2h0M142.8 232.1h0M149.7 238.7h0M151.6 240.8h0M137.1 232.2h0M133.2 240.9h0M118.1 250.6h0M132.5 238.3h0M158.5 245.5h0M137.6 243.3h0M123.8 237.1h0M142.1 236.6h0M129.2 252.6h0M117.9 247.6h0M155.1 243.3h0M146.4 242.3h0M140.5 230.4h0M152.6 246.9h0M136.0 234.8h0M135.4 252.3h0M121.0 264.4h0M111.0 254.6h0M144.4 243.8h0M120.3 248.0h0M128.4 242.5h0" stroke="#d9583a" stroke-width="2.5" stroke-linecap="round" fill="none"/>
<path d="M100.6 329.9h0M201.8 318.3h0M208.9 308.8h0M153.2 306.9h0M199.3 305.6h0M89.7 329.7h0M159.9 310.7h0M95.9 326.2h0M188.7 312.5h0M178.2 307.6h0M94.0 310.9h0M138.8 304.0h0M125.7 311.4h0M163.7 311.2h0M179.1 321.6h0M128.3 314.4h0M175.8 304.0h0M171.9 313.7h0M166.9 307.0h0M142.7 312.1h0M164.7 313.6h0M117.6 321.3h0M154.2 320.6h0M194.5 316.8h0M91.5 321.6h0M147.3 320.0h0M153.3 316.0h0M124.7 317.5h0M188.9 319.0h0M169.1 315.8h0M181.7 314.0h0M120.6 320.9h0M89.3 328.9h0M188.6 316.0h0M116.8 317.5h0M163.3 314.4h0M138.6 311.0h0M170.3 319.1h0M97.7 326.4h0M164.7 317.1h0M145.5 309.1h0M135.5 319.3h0M165.4 320.2h0M159.2 311.4h0M182.4 316.7h0M133.1 310.7h0M155.9 309.7h0" stroke="#e2e73c" stroke-width="2.5" stroke-linecap="round" fill="none"/>
<path d="M99.3 313.2h0M149.3 274.8h0M119.7 300.8h0M153.7 281.3h0M138.5 274.2h0M129.7 278.5h0M135.4 304.7h0M168.5 275.5h0M108.3 289.9h0M138.5 267.2h0M114.8 290.9h0M137.2 265.7h0M155.2 285.5h0M142.9 270.9h0M125.7 291.8h0M113.0 278.2h0M115.2 280.4h0M142.6 257.0h0M99.0 297.0h0M156.8 261.8h0M91.0 288.4h0M106.6 294.3h0M110.2 296.4h0M125.1 285.9h0M157.5 286.3h0M98.5 268.3h0M122.6 301.9h0M124.8 294.9h0M130.5 282.3h0M152.6 263.9h0M135.3 274.5h0M99.6 297.7h0M135.6 296.0h0M131.0 275.6h0M97.5 300.7h0M111.9 312.7h0M178.9 298.4h0M107.1 301.2h0M177.0 291.4h0M103.6 322.8h0M106.7 287.1h0M119.4 291.6h0M144.7 287.1h0M90.9 296.7h0M91.8 296.7h0M141.6 292.0h0M109.5 289.5h0M128.8 282.6h0M91.4 295.4h0M135.8 297.4h0M143.6 297.0h0M146.2 288.9h0M141.5 285.6h0M108.9 280.2h0M151.8 287.9h0M100.4 278.5h0M98.6 313.3h0M99.6 292.3h0M93.5 287.1h0M114.5 266.5h0M121.2 291.3h0M167.6 271.0h0M144.5 257.7h0M109.3 289.1h0M104.6 288.8h0M97.2 295.2h0M138.6 275.1h0M159.8 298.7h0M151.3 295.3h0M96.7 286.4h0M109.6 300.6h0M139.7 284.8h0M88.3 297.0h0M186.5 306.0h0M133.5 288.4h0M146.9 266.6h0M115.6 312.8h0M149.0 265.1h0M189.0 299.3h0M97.0 311.6h0M147.6 274.9h0M150.0 284.3h0M162.9 263.5h0M100.3 290.5h0M90.8 280.8h0M161.3 264.9h0M90.0 304.6h0M142.9 288.6h0M198.9 297.9h0M119.7 269.3h0M100.8 295.0h0M150.4 299.8h0M147.3 264.4h0M97.9 311.1h0M95.1 318.0h0M120.5 284.1h0M95.6 311.1h0M149.1 258.8h0M155.6 283.8h0M99.3 281.7h0M156.0 269.4h0M123.8 273.8h0M140.8 283.4h0M109.8 273.8h0M136.4 271.1h0M89.5 275.3h0M137.4 271.8h0M88.6 291.6h0M149.5 290.3h0M115.3 297.0h0M154.9 288.2h0M170.9 267.2h0M180.7 298.9h0M107.2 304.0h0M203.9 298.2h0M166.7 272.4h0M137.7 269.6h0M103.1 299.1h0M141.1 294.0h0M134.5 270.6h0M120.1 284.5h0M150.9 278.7h0M90.1 292.9h0M126.5 288.7h0M155.7 254.3h0M154.0 278.0h0M132.3 274.3h0M205.1 299.0h0M132.4 267.7h0M153.1 284.5h0M146.1 273.0h0M101.2 293.3h0M162.5 283.9h0M175.9 296.2h0M168.1 268.4h0M123.4 291.2h0M150.7 257.4h0M132.1 286.4h0M127.4 260.1h0M126.7 279.8h0M94.0 289.5h0M99.4 293.5h0M110.5 291.1h0M161.8 259.8h0M121.6 288.3h0M182.4 294.2h0M96.1 281.8h0M143.5 264.5h0M102.3 295.6h0" stroke="#f0a52a" stroke-width="2.5" stroke-linecap="round" fill="none"/>
<path d="M151.2 305.9h0M109.7 316.1h0M114.1 310.1h0M203.9 310.1h0M119.5 306.6h0M167.1 306.3h0M153.8 295.6h0M182.5 314.8h0M123.1 305.6h0M134.3 307.9h0M140.4 301.8h0M93.9 311.8h0M200.8 315.5h0M180.6 296.2h0M202.0 314.7h0M149.4 306.8h0M124.7 309.3h0M114.7 309.8h0M181.8 297.8h0M128.8 306.9h0M89.5 318.8h0M181.6 314.7h0M178.7 306.6h0M212.9 306.6h0M190.6 299.6h0M143.4 306.9h0M178.8 309.7h0M110.2 317.7h0M185.7 298.1h0M158.8 296.4h0M199.8 309.7h0M175.4 295.0h0M204.1 302.5h0M161.9 305.0h0M112.9 318.1h0M179.0 301.7h0M146.7 302.8h0M94.5 311.9h0M166.8 293.6h0M208.3 310.8h0" stroke="#d8df20" stroke-width="2.5" stroke-linecap="round" fill="none"/>
<path d="M113.9 255.9h0M91.8 268.9h0M166.1 252.2h0M120.3 261.7h0M157.4 259.1h0M150.0 261.4h0M139.4 261.1h0M100.2 268.1h0M123.0 262.1h0M97.8 266.9h0M140.3 256.5h0M100.8 261.0h0M151.5 252.8h0M117.6 274.5h0M123.8 265.7h0M110.1 261.0h0M112.8 272.4h0M120.7 257.4h0M125.0 253.0h0M137.5 259.8h0M134.1 260.5h0M109.2 258.4h0M149.2 261.3h0M128.5 252.7h0M125.9 244.7h0M137.8 247.6h0M129.6 256.2h0M129.6 252.5h0M119.9 258.3h0M103.4 256.3h0M106.4 259.4h0M148.5 243.9h0M139.5 254.7h0M142.1 264.2h0M139.9 259.2h0M115.9 251.9h0M133.2 242.8h0M151.2 240.3h0M117.3 273.6h0M143.8 251.9h0M111.1 275.2h0M138.0 261.8h0M131.4 251.7h0M167.2 252.0h0M124.1 261.8h0M104.0 264.3h0M149.8 264.4h0M166.3 252.1h0M149.1 250.3h0M120.5 262.6h0M106.5 263.2h0M130.7 243.8h0M168.7 255.9h0M152.7 251.0h0M151.0 250.8h0M132.4 247.4h0M118.5 261.0h0M121.7 260.6h0M163.1 253.4h0M166.3 263.2h0M139.8 247.4h0M116.8 252.6h0" stroke="#e06836" stroke-width="2.5" stroke-linecap="round" fill="none"/>
<path d="M115.4 251.5h0M134.5 230.8h0M114.2 247.7h0M150.6 247.4h0M159.3 244.1h0M151.7 249.3h0M125.9 234.1h0M130.8 237.6h0M122.5 241.5h0M123.4 256.7h0M122.3 240.5h0M119.1 248.4h0M135.4 246.6h0M133.0 240.5h0M124.9 248.6h0" stroke="#e26a3a" stroke-width="2.5" stroke-linecap="round" fill="none"/>
<path d="M112.2 309.7h0M193.3 317.5h0M196.3 317.5h0M199.7 307.8h0M156.0 314.4h0M128.9 319.4h0M96.8 330.8h0M186.1 309.4h0M103.3 320.8h0M185.9 323.0h0M205.1 315.9h0M133.9 313.4h0M196.1 302.4h0M96.6 326.7h0M166.6 314.3h0M179.3 313.0h0M118.6 325.6h0M208.5 313.3h0M163.6 320.2h0M96.4 328.5h0M170.9 312.7h0" stroke="#c6d21a" stroke-width="2.5" stroke-linecap="round" fill="none"/>
<path d="M153.6 252.8h0M107.8 258.8h0M162.4 267.5h0M103.6 264.9h0M154.7 253.3h0M125.9 249.5h0M120.8 267.3h0M124.4 251.6h0M100.1 274.7h0M113.0 260.8h0M116.3 260.8h0M90.7 274.4h0M116.4 266.6h0M146.9 247.9h0M124.5 246.2h0M133.8 251.5h0M144.3 254.6h0M119.0 280.5h0M109.1 258.6h0M131.0 257.2h0M116.9 248.8h0M90.9 279.1h0M128.9 257.4h0M143.9 244.8h0M156.2 256.5h0M138.1 248.6h0M139.0 265.6h0M155.2 248.1h0M133.3 245.9h0M110.1 258.1h0M161.1 257.4h0M137.8 246.7h0M150.4 253.2h0M122.4 254.7h0M160.2 247.7h0M122.7 268.6h0M143.5 240.2h0M144.3 256.9h0M118.1 271.2h0M105.5 260.8h0M161.4 260.9h0M96.4 263.4h0M114.8 259.1h0M113.5 266.9h0M122.3 263.0h0M162.5 248.5h0M154.4 259.6h0M159.2 240.6h0M124.6 263.5h0" stroke="#e8802f" stroke-width="2.5" stroke-linecap="round" fill="none"/>
<path d="M160.0 275.5h0M126.8 292.1h0M150.9 276.3h0M112.4 289.5h0M166.6 262.7h0M126.5 285.1h0M157.4 284.1h0M183.6 303.4h0M131.5 294.9h0M93.8 290.3h0M107.8 296.5h0M119.8 272.5h0M129.8 261.1h0M99.1 308.1h0M131.6 277.1h0M93.8 284.9h0M103.6 313.6h0M164.0 256.5h0M100.8 274.7h0M101.5 281.4h0M158.4 277.8h0M145.0 290.3h0M116.0 277.1h0M107.4 296.1h0M120.4 274.5h0M125.7 260.5h0M159.3 261.2h0M166.8 283.8h0M92.6 307.9h0M113.6 279.3h0M95.7 280.5h0M124.5 299.8h0M94.1 282.1h0M102.2 304.9h0M154.3 269.4h0M154.8 278.6h0M181.0 295.4h0M111.7 266.7h0M109.2 310.8h0M111.9 270.4h0M123.8 291.7h0M133.7 276.9h0M135.8 269.7h0M117.7 303.2h0M154.6 277.9h0" stroke="#f3b82c" stroke-width="2.5" stroke-linecap="round" fill="none"/>
<path d="M122.9 319.4h0M147.4 316.5h0M100.8 322.5h0M141.1 305.8h0M172.4 312.1h0M180.3 318.4h0M155.1 319.3h0M159.8 303.3h0M168.4 319.7h0M100.6 328.3h0M158.5 315.5h0M172.8 320.9h0M180.5 320.3h0M182.6 319.3h0M193.7 317.2h0M187.3 296.9h0M209.6 306.0h0M170.1 321.5h0M106.6 325.1h0M109.9 321.8h0M175.7 323.5h0M173.5 316.2h0M125.1 315.3h0M188.8 312.3h0M204.0 314.0h0M151.8 308.7h0M188.5 308.0h0M188.6 320.6h0M192.8 312.0h0M151.6 311.9h0M171.4 321.6h0M162.5 310.4h0M188.6 302.5h0M125.4 324.4h0M212.3 307.3h0M165.7 318.0h0M105.3 327.9h0M136.2 314.0h0M130.8 316.9h0M158.5 308.0h0M92.1 318.9h0M106.9 327.1h0M155.4 314.8h0M125.6 321.4h0M94.9 328.4h0M129.4 315.9h0M173.9 312.6h0M158.0 318.1h0M194.2 319.3h0M101.2 329.4h0M199.8 315.5h0M190.6 319.5h0M152.5 313.3h0M126.7 309.7h0M124.9 319.5h0M88.6 330.1h0M94.7 329.3h0M124.2 320.3h0M126.0 304.4h0M119.3 323.5h0M132.5 319.6h0M127.1 306.9h0M183.6 313.5h0M157.4 310.3h0M190.3 313.9h0M199.4 316.0h0M204.0 319.7h0M91.7 325.8h0M179.0 314.2h0" stroke="#d8e01e" stroke-width="2.5" stroke-linecap="round" fill="none"/>
<path d="M136.0 240.1h0M117.4 245.6h0M130.1 239.6h0M155.5 241.5h0M122.2 250.1h0M112.4 251.0h0M167.0 249.9h0" stroke="#c0405a" stroke-width="2.5" stroke-linecap="round" fill="none"/>
<path d="M146.8 249.7h0M109.3 256.2h0M163.2 250.2h0M158.6 256.1h0M114.9 264.7h0M149.1 261.6h0M112.1 263.9h0M149.9 254.8h0M153.4 247.3h0M150.8 250.9h0M165.2 255.1h0M138.5 255.2h0M103.4 263.3h0M162.8 267.3h0M130.1 251.1h0M162.1 252.0h0M149.4 242.3h0M161.0 252.0h0M112.6 255.0h0M133.4 252.1h0M118.4 267.6h0M125.5 246.8h0M139.0 253.8h0M141.0 246.5h0" stroke="#d4553c" stroke-width="2.5" stroke-linecap="round" fill="none"/>
<path d="M87.1 321.7h0M154.2 319.5h0M172.1 314.3h0M160.2 319.8h0M100.0 326.5h0M177.8 320.9h0M121.8 318.0h0M176.2 320.2h0M136.5 299.1h0M188.3 318.2h0M169.1 304.6h0" stroke="#ecc82c" stroke-width="2.5" stroke-linecap="round" fill="none"/>
<path d="M99.7 263.8h0M114.2 248.2h0M125.3 264.1h0M161.5 252.8h0M113.4 282.0h0M111.3 259.1h0M145.5 245.3h0M151.9 250.9h0M122.8 247.0h0M139.6 260.7h0M123.7 263.2h0M126.0 248.3h0M129.4 245.4h0M104.9 275.2h0M114.4 253.2h0M121.4 266.8h0M90.0 278.7h0M105.9 269.1h0" stroke="#ee9a2c" stroke-width="2.5" stroke-linecap="round" fill="none"/>
<path d="M122.8 242.2h0M143.6 239.5h0M118.7 246.2h0" stroke="#e07840" stroke-width="2.5" stroke-linecap="round" fill="none"/>
<path d="M101.5 317.4h0M126.8 305.3h0M122.5 300.9h0M94.9 312.3h0M161.0 287.4h0M109.4 317.6h0M133.1 303.0h0M187.4 309.2h0M124.3 318.3h0M204.6 304.3h0M117.5 319.1h0M183.5 295.8h0M192.2 308.1h0M108.4 316.0h0M156.7 311.7h0M161.5 302.2h0M112.1 312.3h0M145.4 307.3h0M91.6 311.9h0M176.2 323.3h0M187.7 308.3h0M128.9 307.1h0M155.2 304.5h0M183.6 306.9h0" stroke="#ec9a2c" stroke-width="2.5" stroke-linecap="round" fill="none"/>
<path d="M201.9 302.3h0M97.9 271.9h0M103.0 283.8h0M107.9 287.5h0M185.8 291.6h0M169.1 264.0h0M107.0 310.3h0M136.1 263.8h0M134.4 291.9h0M104.3 279.9h0M149.7 289.5h0M153.0 283.1h0M135.0 289.2h0M155.4 293.0h0M146.4 271.3h0M145.4 267.7h0M169.9 285.8h0M128.5 278.9h0M197.3 296.3h0M104.2 301.3h0M125.4 306.2h0M120.9 282.5h0M120.0 271.5h0M137.5 265.2h0M187.6 297.5h0M121.7 301.4h0M118.5 270.8h0M151.0 279.5h0M163.5 291.9h0M158.0 284.5h0M119.0 308.1h0M166.3 278.0h0M134.6 270.2h0M109.2 286.8h0M124.6 286.9h0M128.2 298.4h0M121.1 270.2h0M116.4 284.9h0M156.1 267.8h0M162.3 295.7h0M103.5 307.2h0M125.5 279.1h0M104.3 274.0h0M168.1 276.1h0M93.2 295.3h0M109.7 315.2h0M114.8 302.3h0M96.5 307.2h0M141.9 293.4h0M131.5 265.7h0M102.9 263.8h0M148.1 290.7h0M131.0 280.4h0M160.3 262.7h0M103.5 315.9h0M104.8 295.3h0M155.4 293.3h0M136.8 284.0h0M137.9 281.9h0M139.3 280.7h0M129.7 260.5h0M101.5 302.0h0M128.8 295.5h0M138.3 277.1h0M89.9 309.2h0M167.0 282.1h0M88.9 293.7h0M148.4 292.9h0" stroke="#e47a32" stroke-width="2.5" stroke-linecap="round" fill="none"/>
<path d="M93.6 317.4h0M108.0 317.5h0M155.7 299.3h0M156.6 298.3h0M107.9 317.4h0M142.1 288.9h0M105.5 312.5h0M120.7 294.8h0M167.2 306.8h0M133.7 306.0h0M176.4 316.6h0M163.7 311.7h0M179.0 297.8h0M99.4 318.0h0M197.1 299.4h0M140.8 312.2h0M148.5 311.4h0M190.1 308.7h0M158.6 303.2h0M104.6 319.8h0M136.6 301.3h0M151.6 300.0h0M102.9 317.1h0M160.4 301.6h0M168.0 311.0h0M173.8 305.5h0M135.0 303.2h0M122.6 317.0h0M145.9 305.8h0M196.2 303.8h0M206.1 307.6h0M186.9 319.9h0M201.1 297.6h0M108.8 315.0h0M118.7 321.4h0M111.6 326.9h0M184.2 321.4h0M179.2 306.7h0M157.4 307.3h0M159.1 305.8h0M111.0 317.4h0M138.1 317.7h0M182.4 294.5h0M194.5 300.3h0M100.1 316.6h0M151.1 303.2h0" stroke="#f0aa28" stroke-width="2.5" stroke-linecap="round" fill="none"/>
<path d="M99.8 324.7h0M182.7 296.7h0M189.2 307.1h0M137.0 296.1h0M92.0 316.4h0M161.6 310.7h0M207.4 306.5h0M148.1 304.0h0M125.3 302.5h0M137.8 317.8h0M174.7 296.3h0M93.0 314.7h0M105.2 318.8h0M173.2 301.4h0M109.1 319.5h0M170.9 317.5h0M92.6 305.4h0M123.1 318.1h0M150.7 299.6h0M193.7 301.1h0M132.8 294.9h0M94.6 311.6h0M115.0 308.2h0M92.1 321.5h0M165.2 310.7h0M111.6 327.8h0M160.8 303.0h0M139.9 296.5h0M90.8 319.6h0M197.9 308.9h0M102.0 327.5h0M162.5 287.3h0M197.9 296.2h0M89.9 319.4h0M152.8 295.9h0M174.8 302.4h0M133.1 291.4h0M120.0 310.2h0M193.0 306.6h0M165.2 302.8h0M149.3 303.7h0M101.4 320.6h0M142.9 310.9h0M150.4 304.2h0M116.6 309.2h0M151.3 295.3h0M176.3 297.9h0M115.3 317.9h0" stroke="#e4cc22" stroke-width="2.5" stroke-linecap="round" fill="none"/>
<path d="M125.5 263.2h0M191.4 296.8h0M115.4 307.8h0M144.7 284.7h0M153.7 283.8h0M93.3 303.9h0M123.1 272.8h0M108.2 301.0h0M88.5 274.1h0M119.0 303.7h0M100.3 301.8h0M125.5 281.2h0M126.8 259.5h0M96.4 274.2h0M106.3 298.6h0M112.7 275.9h0M156.1 285.1h0M94.0 301.8h0M118.4 278.9h0M160.2 290.2h0M127.9 263.5h0M192.1 296.8h0M139.9 276.2h0M147.3 280.6h0M145.8 281.0h0M140.7 267.1h0M104.8 275.3h0M110.8 274.1h0M117.0 308.1h0M123.6 299.2h0M97.5 322.8h0M164.8 291.8h0M160.8 266.0h0M169.0 296.1h0M99.8 275.2h0M113.4 271.4h0M175.7 302.1h0M119.8 300.8h0M157.9 291.2h0M100.4 274.6h0M124.3 299.4h0M131.8 283.8h0M119.6 274.2h0M111.9 281.9h0M127.2 293.2h0M135.9 309.3h0M130.8 281.3h0M154.3 290.0h0M149.9 282.4h0M109.2 314.0h0M129.2 295.4h0M151.3 288.3h0M146.4 275.0h0M154.3 290.8h0M98.5 285.0h0M136.6 264.1h0M127.2 292.3h0M128.0 275.3h0M133.9 294.9h0M95.6 280.1h0M126.4 296.4h0M135.5 298.2h0M133.4 298.1h0M153.3 279.6h0M136.2 258.0h0M142.3 272.2h0M90.6 303.1h0M117.4 284.0h0M121.6 297.3h0M145.3 301.2h0M101.8 287.9h0M89.1 273.8h0M169.3 266.1h0M112.7 309.0h0M161.1 293.0h0M172.2 299.5h0M99.2 303.6h0M122.9 279.6h0M96.9 278.2h0M89.2 289.3h0M90.2 305.2h0M102.0 286.9h0M203.9 299.7h0M136.0 293.7h0M174.2 293.6h0M153.3 259.2h0M96.4 300.1h0M108.1 275.8h0M164.3 272.6h0M159.2 298.1h0M159.1 278.8h0M109.8 283.8h0M130.0 255.6h0M124.5 283.6h0M140.3 283.8h0M156.7 263.8h0M185.7 294.8h0M125.3 277.6h0M150.6 295.1h0M109.8 307.2h0M95.5 297.0h0M107.2 284.5h0M158.8 283.9h0M111.7 305.6h0M138.7 290.4h0M138.8 288.2h0M136.1 287.1h0M111.3 297.8h0M114.7 272.7h0M137.6 279.0h0" stroke="#ec902e" stroke-width="2.5" stroke-linecap="round" fill="none"/>
<path d="M135.5 236.9h0M143.9 245.6h0M134.0 237.8h0M158.0 248.2h0M143.1 243.9h0M128.3 242.5h0M149.5 237.1h0M143.9 234.8h0M119.5 250.8h0M120.7 242.7h0M136.3 246.4h0M158.2 243.5h0M143.3 240.4h0M128.7 243.5h0M147.3 243.3h0M115.4 245.8h0M144.8 242.9h0M114.0 253.9h0M137.5 232.8h0M126.8 244.9h0M156.0 254.8h0M137.7 238.9h0M135.5 236.2h0M138.1 233.6h0M158.4 242.8h0M148.1 250.9h0" stroke="#d9583a" stroke-width="2.5" stroke-linecap="round" fill="none"/>
<path d="M129.0 321.3h0M191.5 318.9h0M95.1 331.7h0M172.8 321.2h0M181.5 319.9h0M137.7 305.6h0M128.0 320.9h0M185.1 322.4h0M154.0 314.3h0M113.1 310.2h0M198.0 320.4h0M93.2 321.6h0M171.0 310.2h0M152.4 311.6h0M156.4 317.8h0M146.2 320.3h0M127.1 321.5h0M187.6 316.1h0M145.7 316.8h0M167.4 308.2h0M126.8 319.5h0M158.1 312.2h0M178.5 323.7h0M100.5 322.3h0M193.3 312.6h0M162.2 321.7h0M143.4 315.5h0M142.0 302.4h0M205.4 310.3h0M177.9 303.6h0M204.6 316.9h0M198.9 311.3h0M167.9 308.2h0M168.6 311.0h0M208.6 312.0h0M183.7 310.7h0M173.5 302.3h0M210.5 316.9h0M165.3 306.6h0M99.8 332.5h0M197.9 315.7h0M92.8 316.5h0M205.7 309.9h0M160.0 311.4h0M145.0 319.9h0M156.0 313.3h0M156.1 310.7h0" stroke="#e2e73c" stroke-width="2.5" stroke-linecap="round" fill="none"/>
<path d="M157.1 274.1h0M140.0 278.7h0M122.4 270.6h0M121.3 280.4h0M155.6 263.0h0M138.8 275.0h0M102.0 290.9h0M146.5 267.0h0M126.6 261.1h0M155.6 304.1h0M166.1 303.6h0M129.6 283.3h0M142.1 278.8h0M167.4 289.1h0M199.6 299.8h0M136.9 272.1h0M120.2 295.2h0M115.3 276.7h0M145.1 285.6h0M97.6 317.8h0M122.2 292.5h0M193.2 301.8h0M106.0 282.3h0M127.3 286.4h0M121.6 293.5h0M131.3 264.1h0M115.7 290.9h0M94.4 304.5h0M122.6 296.5h0M98.4 299.5h0M131.7 276.5h0M110.6 290.0h0M122.3 282.6h0M106.7 278.9h0M132.0 285.0h0M201.4 304.4h0M133.4 288.8h0M102.3 289.4h0M99.7 290.1h0M189.7 297.4h0M92.7 287.5h0M102.0 274.5h0M110.4 292.5h0M97.4 307.4h0M119.5 308.8h0M164.7 284.9h0M97.8 281.9h0M151.4 271.9h0M137.3 265.9h0M103.3 301.1h0M155.3 247.7h0M98.8 307.4h0M139.6 291.5h0M142.4 300.8h0M126.8 287.4h0M135.1 270.6h0M143.5 292.6h0M137.1 273.2h0M123.6 281.9h0M101.8 281.6h0M144.8 272.7h0M97.9 283.8h0M100.8 278.0h0M154.5 263.5h0M117.4 269.1h0M159.7 288.2h0M114.8 276.5h0M105.4 295.9h0M146.5 266.8h0M127.9 292.3h0M160.4 271.9h0M153.4 274.2h0M146.0 276.3h0M148.3 248.8h0M143.1 276.5h0M145.2 297.0h0M129.9 285.4h0M121.0 256.5h0M93.6 312.4h0M155.6 269.5h0M117.0 276.4h0M123.4 278.3h0M149.1 279.5h0M135.3 256.4h0M170.5 306.2h0M180.9 303.9h0M121.6 282.9h0M163.7 255.6h0M158.3 288.3h0M131.7 295.2h0M132.7 296.3h0M146.9 284.9h0M138.4 272.1h0M96.8 282.6h0M162.0 299.7h0M162.2 282.2h0M133.7 278.9h0M138.0 301.7h0M108.7 306.7h0M90.7 306.6h0M132.2 293.1h0M162.4 274.3h0M136.4 286.0h0M167.0 288.1h0M99.6 310.0h0M162.6 285.6h0M118.8 274.8h0M159.5 260.7h0M144.1 268.4h0M125.7 258.2h0M103.3 309.2h0M152.2 288.8h0M134.3 286.0h0M129.9 280.9h0M124.0 290.0h0M107.0 266.0h0M123.0 286.2h0M165.9 274.9h0M102.1 311.3h0M150.3 279.2h0M177.8 297.9h0M202.1 299.0h0M206.2 301.5h0M127.0 296.4h0M135.1 261.0h0M149.3 285.9h0M151.7 290.4h0M123.4 269.4h0M162.0 263.8h0M112.1 297.6h0M127.4 267.5h0M136.9 269.0h0M162.2 277.9h0M146.9 277.7h0M139.9 286.7h0M143.9 303.5h0M94.3 303.8h0M147.8 275.1h0M159.1 284.0h0M156.0 297.4h0M119.6 282.3h0M89.9 303.5h0M162.9 266.2h0M131.3 290.1h0M89.4 317.6h0M155.9 277.3h0M119.1 279.0h0M181.6 298.0h0M119.9 278.8h0" stroke="#f0a52a" stroke-width="2.5" stroke-linecap="round" fill="none"/>
<path d="M104.6 312.0h0M199.9 298.8h0M97.6 325.4h0M134.7 308.6h0M148.2 319.4h0M123.0 306.2h0M115.0 313.1h0M154.0 302.8h0M94.5 323.7h0M133.0 296.8h0M169.1 293.3h0M202.8 301.3h0M192.9 303.4h0M100.6 310.5h0M160.8 295.5h0M174.7 308.2h0M116.8 310.8h0M103.8 326.1h0M165.9 309.6h0M170.0 305.0h0M115.5 299.9h0M115.2 307.0h0M187.7 299.5h0M98.5 318.4h0M146.5 297.4h0M154.5 308.4h0M207.9 310.9h0M171.1 317.1h0M101.9 326.7h0M141.3 303.0h0M132.6 312.1h0M154.3 304.1h0M139.3 290.9h0M180.8 295.8h0M193.6 317.6h0M109.8 318.2h0M111.0 320.9h0M188.7 316.6h0M99.3 315.8h0" stroke="#d8df20" stroke-width="2.5" stroke-linecap="round" fill="none"/>
<path d="M99.3 266.2h0M101.6 266.8h0M159.6 254.2h0M158.9 255.2h0M119.2 267.8h0M149.6 251.4h0M135.5 241.4h0M150.6 259.2h0M160.4 260.2h0M155.1 262.9h0M105.3 266.5h0M140.2 264.7h0M139.1 238.0h0M135.4 257.2h0M116.6 268.7h0M95.7 268.1h0M121.7 258.9h0M100.8 278.2h0M101.7 262.8h0M137.8 255.8h0M97.0 266.3h0M124.2 271.5h0M125.4 257.8h0M131.8 252.0h0M98.0 266.5h0M138.8 276.6h0M105.8 261.8h0M147.7 256.8h0M122.5 266.4h0M144.8 259.9h0M127.7 254.7h0M112.1 256.1h0M145.6 258.7h0M163.6 256.7h0M121.0 263.5h0M154.8 243.1h0M111.7 257.1h0M159.7 245.1h0M98.5 268.5h0M149.4 258.5h0M108.9 261.8h0M119.1 253.1h0M120.5 267.4h0M126.8 251.6h0M98.9 262.6h0M106.6 270.3h0M135.6 248.1h0M135.7 267.2h0M121.6 274.5h0M138.5 263.8h0M121.0 253.5h0M127.5 242.1h0M102.1 268.0h0M110.8 272.8h0M107.8 264.7h0M134.6 243.9h0M157.8 261.3h0M158.3 254.5h0M116.7 262.8h0M154.4 247.1h0M148.3 250.8h0M111.3 257.4h0" stroke="#e06836" stroke-width="2.5" stroke-linecap="round" fill="none"/>
<path d="M136.7 231.2h0M135.1 243.2h0M129.4 236.8h0M128.1 250.6h0M146.7 239.8h0M150.2 247.4h0M162.3 248.3h0M131.5 242.0h0M123.3 248.8h0M105.7 254.9h0M119.3 248.5h0M151.4 240.4h0M159.7 243.2h0M138.8 230.9h0" stroke="#e26a3a" stroke-width="2.5" stroke-linecap="round" fill="none"/>
<path d="M134.6 319.8h0M150.4 318.0h0M165.5 316.2h0M186.5 316.0h0M106.9 316.9h0M98.3 325.5h0M193.7 317.7h0M186.4 320.0h0M130.3 310.7h0M197.1 316.4h0M152.8 311.9h0M203.7 316.5h0M211.3 312.1h0M127.9 321.6h0M186.7 309.5h0M139.2 308.1h0M98.3 328.4h0M166.9 310.2h0M144.9 316.7h0M156.3 310.6h0" stroke="#c6d21a" stroke-width="2.5" stroke-linecap="round" fill="none"/>
<path d="M125.3 255.2h0M112.1 266.2h0M92.4 269.6h0M152.1 261.7h0M117.5 262.1h0M128.7 242.1h0M116.7 267.2h0M140.8 264.7h0M103.6 263.7h0M165.3 252.6h0M109.2 280.4h0M121.4 273.3h0M119.8 266.1h0M163.6 247.1h0M128.5 264.7h0M139.3 258.3h0M106.8 266.0h0M141.6 247.4h0M149.4 261.7h0M100.2 263.0h0M135.7 251.1h0M121.4 252.6h0M160.3 251.6h0M114.6 270.8h0M146.6 254.9h0M167.0 271.7h0M140.7 249.5h0M109.7 252.3h0M133.7 255.3h0M100.3 268.5h0M137.4 252.8h0M118.5 262.5h0M161.3 257.6h0M125.6 258.8h0M102.5 273.7h0M139.6 241.7h0M166.0 250.6h0M124.2 255.3h0M114.4 272.8h0M95.9 266.6h0M153.7 251.2h0M164.8 255.9h0M159.0 255.4h0M126.6 245.6h0M161.0 251.0h0M102.8 273.5h0M141.8 259.8h0M151.1 245.1h0M104.7 259.2h0" stroke="#e8802f" stroke-width="2.5" stroke-linecap="round" fill="none"/>
<path d="M125.1 273.1h0M149.3 268.3h0M103.8 296.1h0M125.6 291.4h0M139.0 294.9h0M143.9 275.7h0M137.6 294.0h0M90.1 285.7h0M149.9 266.6h0M130.0 264.1h0M126.9 275.4h0M97.0 275.7h0M120.9 298.1h0M138.1 273.9h0M164.0 275.5h0M142.2 294.8h0M106.4 279.8h0M122.2 295.1h0M118.1 278.0h0M101.0 292.4h0M181.1 297.0h0M163.8 277.5h0M118.0 282.3h0M151.2 282.0h0M110.2 303.5h0M159.5 281.9h0M141.4 267.3h0M178.9 292.3h0M92.2 290.9h0M143.5 276.5h0M119.7 281.9h0M100.4 275.6h0M124.5 306.4h0M152.0 312.1h0M99.1 290.9h0M152.4 277.2h0M144.2 284.0h0M164.7 291.0h0M124.4 286.5h0M158.5 288.1h0M126.2 277.9h0M127.1 273.9h0M131.2 283.2h0M107.0 284.9h0M133.6 277.7h0" stroke="#f3b82c" stroke-width="2.5" stroke-linecap="round" fill="none"/>
<path d="M165.2 320.1h0M171.2 318.3h0M175.2 317.5h0M172.8 314.6h0M198.4 313.4h0M165.4 314.4h0M156.4 314.5h0M163.5 311.7h0M163.9 316.9h0M136.0 310.5h0M166.1 318.3h0M180.3 299.7h0M199.3 316.8h0M123.8 317.7h0M186.4 316.8h0M134.8 301.0h0M102.0 328.2h0M136.2 308.4h0M201.7 307.3h0M190.6 318.3h0M194.4 302.2h0M179.8 320.0h0M171.2 319.3h0M135.5 302.0h0M112.9 315.3h0M106.7 319.1h0M156.8 315.6h0M106.1 323.7h0M203.5 301.6h0M118.1 318.3h0M126.8 317.5h0M155.9 311.3h0M105.2 327.4h0M196.6 302.4h0M114.5 315.3h0M118.3 317.3h0M171.4 318.4h0M173.5 320.6h0M198.1 319.9h0M163.0 309.3h0M119.4 319.0h0M113.8 324.5h0M115.1 313.0h0M93.2 331.1h0M88.8 324.5h0M115.7 322.6h0M206.0 308.6h0M133.6 316.9h0M187.5 322.1h0M119.6 321.1h0M152.2 310.4h0M154.1 308.0h0M91.6 323.7h0M134.0 304.4h0M137.6 307.1h0M144.0 316.3h0M135.5 316.3h0M120.9 327.0h0M146.1 318.9h0M89.9 324.5h0M165.7 312.8h0M162.2 317.8h0M118.7 319.6h0M149.3 317.2h0M142.7 317.9h0M116.0 319.1h0M132.9 309.2h0M158.3 318.5h0M121.4 323.3h0" stroke="#d8e01e" stroke-width="2.5" stroke-linecap="round" fill="none"/>
<path d="M129.5 233.7h0M131.5 244.1h0M153.8 240.6h0M124.4 247.3h0M130.4 243.9h0M148.6 238.3h0M144.1 243.9h0" stroke="#c0405a" stroke-width="2.5" stroke-linecap="round" fill="none"/>
<path d="M117.0 253.2h0M145.9 270.4h0M93.0 274.5h0M147.3 268.0h0M166.0 259.8h0M141.5 242.7h0M117.6 265.2h0M166.2 254.0h0M132.0 262.1h0M153.7 257.8h0M130.3 261.0h0M105.3 275.7h0M121.2 254.8h0M108.7 256.9h0M120.6 265.7h0M113.6 274.8h0M166.4 254.2h0M134.3 259.3h0M114.0 278.8h0M102.4 267.7h0M125.2 243.3h0M103.6 272.6h0M139.7 257.6h0M101.6 274.8h0" stroke="#d4553c" stroke-width="2.5" stroke-linecap="round" fill="none"/>
<path d="M206.6 313.0h0M105.2 321.4h0M164.8 321.9h0M144.0 314.1h0M170.0 322.1h0M212.7 313.4h0M125.3 307.5h0M123.4 314.9h0M123.7 316.3h0M112.4 327.3h0M99.6 326.7h0" stroke="#ecc82c" stroke-width="2.5" stroke-linecap="round" fill="none"/>
<path d="M135.6 244.3h0M126.4 257.2h0M138.7 256.9h0M151.3 250.9h0M123.2 261.4h0M104.7 261.9h0M115.0 269.3h0M124.2 240.2h0M148.8 261.5h0M114.2 255.3h0M140.9 261.5h0M99.1 263.4h0M156.5 238.9h0M131.1 250.6h0M144.7 245.8h0M128.8 248.1h0M140.7 252.5h0M124.6 262.1h0" stroke="#ee9a2c" stroke-width="2.5" stroke-linecap="round" fill="none"/>
<path d="M121.0 254.0h0M153.9 242.8h0M151.5 237.1h0" stroke="#e07840" stroke-width="2.5" stroke-linecap="round" fill="none"/>
<path d="M175.8 295.9h0M170.2 306.4h0M104.7 325.6h0M178.2 307.7h0M126.0 310.4h0M110.9 324.7h0M134.3 305.2h0M187.6 313.9h0M128.7 302.1h0M114.1 307.5h0M163.8 313.9h0M158.2 299.9h0M168.7 303.0h0M138.1 313.7h0M182.2 305.4h0M117.6 297.2h0M150.4 300.9h0M157.9 293.1h0M174.8 313.9h0M131.6 311.3h0M176.1 301.1h0M100.2 312.4h0M132.9 307.7h0M174.3 303.5h0" stroke="#ec9a2c" stroke-width="2.5" stroke-linecap="round" fill="none"/>
<path d="M110.4 281.3h0M130.8 268.7h0M93.4 290.1h0M125.5 276.5h0M150.3 292.5h0M102.0 281.5h0M135.3 272.1h0M163.9 275.5h0M133.1 283.2h0M133.1 258.2h0M169.3 295.8h0M162.9 268.6h0M149.5 286.2h0M128.5 288.7h0M184.5 293.3h0M133.5 298.2h0M149.6 285.6h0M163.3 292.7h0M154.1 264.3h0M150.7 277.8h0M96.4 290.3h0M136.2 286.9h0M124.8 266.6h0M126.5 293.5h0M98.4 289.4h0M114.2 306.3h0M140.9 267.4h0M99.6 285.2h0M160.6 272.0h0M105.8 276.4h0M109.2 301.6h0M166.4 287.7h0M150.0 285.9h0M120.6 297.9h0M164.4 279.2h0M111.3 284.8h0M123.0 286.5h0M91.6 293.0h0M137.6 278.7h0M125.9 264.7h0M167.5 270.1h0M95.1 295.3h0M116.9 297.6h0M131.7 263.8h0M102.8 275.5h0M161.3 261.9h0M144.9 289.7h0M150.2 263.0h0M140.3 254.9h0M155.8 273.2h0M115.1 295.7h0M160.8 281.0h0M128.3 274.4h0M140.1 293.9h0M141.9 293.7h0M133.1 289.3h0M139.4 289.9h0M124.1 278.9h0M162.8 293.0h0M91.3 300.2h0M127.9 274.1h0M146.7 255.8h0M142.1 271.9h0M98.4 287.2h0M95.6 275.2h0M104.2 292.1h0M148.7 289.8h0M102.9 295.1h0" stroke="#e47a32" stroke-width="2.5" stroke-linecap="round" fill="none"/>
<path d="M125.7 305.7h0M124.5 320.6h0M133.9 292.3h0M138.2 311.6h0M138.1 304.8h0M152.5 311.4h0M207.1 311.9h0M183.5 298.8h0M166.7 302.9h0M103.9 323.5h0M151.9 306.2h0M148.9 284.8h0M140.4 301.3h0M101.3 316.9h0M129.2 302.2h0M123.4 302.9h0M127.1 297.7h0M137.1 304.1h0M183.2 305.9h0M176.0 304.7h0M144.7 302.4h0M148.7 300.3h0M99.1 325.2h0M167.2 307.6h0M163.4 297.7h0M189.0 309.3h0M199.9 302.1h0M96.7 316.8h0M186.0 309.5h0M148.4 303.0h0M170.6 304.2h0M179.7 303.1h0M117.5 309.4h0M100.6 310.7h0M197.1 306.8h0M188.1 299.6h0M189.4 298.2h0M193.1 301.0h0M164.5 306.2h0M124.8 303.2h0M109.2 309.4h0M189.7 306.7h0M182.6 308.9h0M194.5 302.3h0M149.3 290.2h0M149.1 310.6h0" stroke="#f0aa28" stroke-width="2.5" stroke-linecap="round" fill="none"/>
<path d="M102.6 315.1h0M208.1 309.5h0M171.5 295.5h0M123.7 315.3h0M180.1 303.2h0M142.3 300.9h0M176.4 296.1h0M145.2 302.8h0M165.6 310.7h0M128.0 304.8h0M117.1 308.1h0M114.1 308.4h0M158.6 304.6h0M139.6 305.2h0M189.4 300.2h0M126.2 307.9h0M145.2 297.5h0M148.8 304.0h0M182.3 301.5h0M181.6 298.7h0M118.1 312.7h0M180.9 310.2h0M184.4 318.6h0M112.6 302.9h0M209.7 304.3h0M118.0 295.0h0M149.2 297.4h0M165.8 307.5h0M140.7 297.3h0M112.0 301.1h0M179.0 300.7h0M140.4 302.4h0M128.9 304.1h0M142.1 305.7h0M123.4 315.5h0M127.3 292.7h0M118.7 319.6h0M126.8 297.5h0M167.7 311.2h0M96.7 324.5h0M169.4 306.3h0M199.4 299.1h0M121.7 305.3h0M150.9 305.6h0M92.4 314.9h0M209.6 308.8h0M155.0 300.4h0" stroke="#e4cc22" stroke-width="2.5" stroke-linecap="round" fill="none"/>
<path d="M130.7 273.0h0M145.7 280.2h0M131.5 274.8h0M123.1 281.1h0M92.4 310.4h0M171.3 292.7h0M114.5 282.5h0M132.3 262.1h0M183.6 298.0h0M143.9 289.8h0M98.6 306.4h0M144.0 286.1h0M112.7 283.6h0M150.1 269.5h0M126.7 275.0h0M105.7 279.2h0M98.8 305.3h0M181.0 297.1h0M112.9 291.2h0M203.6 298.7h0M91.0 279.5h0M166.0 272.6h0M102.7 276.6h0M144.6 296.4h0M98.2 312.5h0M166.8 274.0h0M101.5 306.1h0M186.4 295.3h0M137.2 294.9h0M154.1 271.1h0M92.0 294.4h0M159.6 278.5h0M93.4 275.1h0M151.5 288.7h0M112.7 294.1h0M105.8 289.0h0M149.7 286.1h0M141.0 284.6h0M109.7 272.1h0M176.6 297.5h0M95.0 305.2h0M121.4 288.4h0M89.7 294.0h0M123.5 270.0h0M107.7 274.4h0M131.1 293.5h0M133.8 263.4h0M126.9 262.2h0M111.8 305.8h0M144.4 301.1h0M110.0 276.4h0M131.2 294.6h0M171.1 290.0h0M113.2 299.4h0M90.5 312.4h0M88.3 296.2h0M150.8 288.5h0M101.2 281.0h0M158.0 261.1h0M122.9 279.3h0M179.0 297.1h0M148.2 286.1h0M157.0 276.1h0M129.3 304.4h0M145.4 295.0h0M109.1 280.5h0M94.4 279.8h0M145.2 280.8h0M105.1 294.4h0M97.6 277.6h0M176.2 293.5h0M103.5 291.0h0M130.6 279.2h0M123.9 285.3h0M157.9 286.5h0M142.6 271.8h0M155.3 271.3h0M138.8 278.3h0M147.2 294.1h0M105.1 307.0h0M128.4 270.3h0M108.6 296.0h0M157.1 281.1h0M170.0 301.1h0M120.0 276.8h0M153.8 261.9h0M94.4 300.9h0M110.5 306.8h0M156.1 279.6h0M90.7 309.1h0M176.5 289.1h0M154.1 296.9h0M95.1 291.9h0M166.0 298.2h0M123.7 289.3h0M162.0 267.6h0M146.0 284.6h0M92.7 288.8h0M127.4 288.8h0M162.3 277.8h0M101.8 286.2h0M128.0 265.2h0M138.5 281.5h0M144.5 282.4h0M167.3 283.5h0M136.3 292.5h0M168.2 279.2h0M139.5 267.0h0M145.1 292.6h0M176.2 296.5h0" stroke="#ec902e" stroke-width="2.5" stroke-linecap="round" fill="none"/>
<path d="M136.3 249.1h0M118.9 254.4h0M121.4 246.1h0M151.8 242.7h0M132.3 243.1h0M121.5 251.2h0M140.8 229.5h0M132.8 238.0h0M143.3 233.5h0M131.2 237.8h0M137.4 251.8h0M141.0 233.8h0M108.9 260.5h0M145.5 239.6h0M133.5 253.4h0M127.8 233.0h0M150.2 243.8h0M109.9 259.4h0M139.7 240.4h0M126.0 253.4h0M119.4 246.5h0M140.1 230.9h0M122.9 242.1h0M145.4 233.5h0M132.6 232.3h0M149.6 242.5h0" stroke="#d9583a" stroke-width="2.5" stroke-linecap="round" fill="none"/>
<path d="M188.1 304.6h0M134.3 311.9h0M195.8 320.3h0M151.5 320.6h0M171.9 319.3h0M205.5 310.2h0M182.8 318.0h0M123.1 321.2h0M197.4 317.2h0M190.5 322.9h0M169.9 310.3h0M126.8 309.8h0M198.6 314.7h0M129.4 309.0h0M120.0 314.2h0M162.6 321.2h0M149.8 319.8h0M149.5 310.8h0M139.5 318.0h0M191.6 320.5h0M200.2 320.2h0M163.2 299.8h0M93.7 327.1h0M208.6 306.2h0M131.4 316.1h0M194.9 311.1h0M166.5 311.8h0M202.3 320.6h0M133.4 318.5h0M190.7 315.8h0M182.6 308.3h0M164.8 322.1h0M122.8 319.8h0M192.0 314.1h0M186.9 320.5h0M143.9 320.7h0M143.9 310.9h0M139.8 316.3h0M198.4 322.5h0M177.7 315.0h0M194.7 301.1h0M163.4 317.8h0M202.0 300.9h0M116.5 320.4h0M179.4 312.8h0M107.0 313.3h0M140.5 311.5h0" stroke="#e2e73c" stroke-width="2.5" stroke-linecap="round" fill="none"/>
<path d="M114.4 268.5h0M146.5 303.5h0M141.1 257.2h0M111.6 284.1h0M94.0 289.6h0M127.3 285.8h0M90.2 284.8h0M100.8 300.3h0M97.8 304.4h0M155.1 296.9h0M134.6 284.9h0M111.6 303.4h0M146.3 270.4h0M162.1 268.4h0M164.8 273.2h0M147.2 294.0h0M137.5 291.0h0M132.7 279.8h0M153.7 294.4h0M126.6 294.4h0M144.3 267.0h0M113.8 289.3h0M152.0 284.8h0M161.4 294.7h0M170.7 291.9h0M133.3 295.1h0M144.6 272.4h0M160.2 287.1h0M193.4 309.3h0M111.7 293.0h0M130.7 269.6h0M137.1 294.8h0M152.9 269.2h0M190.8 293.5h0M169.3 291.4h0M171.9 294.5h0M134.7 276.9h0M97.7 279.0h0M181.5 294.4h0M90.5 274.8h0M144.0 258.5h0M126.5 282.2h0M105.9 290.0h0M145.9 289.8h0M189.7 294.1h0M119.3 283.5h0M167.7 289.3h0M166.8 291.5h0M156.0 275.6h0M142.7 277.7h0M96.1 291.5h0M94.7 290.2h0M139.3 270.9h0M159.5 255.4h0M102.9 286.9h0M101.6 306.6h0M97.4 312.5h0M143.0 268.5h0M144.7 269.9h0M159.8 281.9h0M93.1 281.4h0M161.2 273.3h0M117.3 292.7h0M93.2 278.7h0M95.9 296.0h0M97.6 281.7h0M93.1 275.5h0M174.2 293.7h0M131.2 295.8h0M130.5 274.8h0M154.1 271.6h0M146.9 267.6h0M158.3 263.2h0M144.1 279.1h0M123.7 291.2h0M172.5 298.0h0M122.2 273.0h0M165.4 291.3h0M171.3 267.4h0M156.3 272.7h0M164.5 295.3h0M162.4 267.3h0M90.5 311.4h0M136.4 274.0h0M157.4 284.8h0M168.9 276.8h0M122.6 298.4h0M121.0 305.4h0M96.6 297.6h0M119.4 284.0h0M124.2 299.6h0M198.9 300.6h0M110.2 291.3h0M108.4 281.3h0M122.5 287.9h0M89.7 291.0h0M177.0 292.6h0M153.0 283.4h0M120.1 299.5h0M133.6 296.9h0M154.3 284.2h0M131.2 274.2h0M91.3 280.5h0M95.2 302.6h0M99.8 300.4h0M121.6 272.9h0M92.4 282.7h0M165.4 306.1h0M121.8 280.8h0M94.2 274.6h0M115.2 294.3h0M91.4 273.8h0M125.6 296.8h0M173.4 302.1h0M137.5 298.4h0M96.1 297.0h0M151.7 287.0h0M93.2 312.5h0M148.5 290.3h0M135.1 283.6h0M155.8 283.5h0M119.2 284.9h0M162.6 299.0h0M116.5 280.5h0M153.5 304.1h0M131.8 259.4h0M96.3 302.9h0M100.4 298.4h0M106.7 305.8h0M126.9 289.5h0M108.9 292.3h0M114.5 282.4h0M107.5 283.5h0M150.5 273.6h0M120.5 276.2h0M158.6 279.9h0M101.8 294.4h0M142.3 265.8h0M202.0 296.4h0M181.5 292.7h0M91.5 281.1h0M110.4 291.2h0M108.9 302.0h0M160.9 257.6h0M93.5 309.2h0M120.8 298.2h0M90.2 286.2h0M94.0 283.1h0M136.3 270.8h0" stroke="#f0a52a" stroke-width="2.5" stroke-linecap="round" fill="none"/>
<path d="M176.8 294.5h0M177.4 313.9h0M99.4 312.7h0M103.8 321.2h0M104.5 318.8h0M177.1 312.8h0M170.1 312.8h0M144.1 312.6h0M124.4 311.2h0M144.5 304.7h0M195.4 311.7h0M208.1 313.2h0M126.7 308.1h0M134.9 303.6h0M133.5 301.2h0M101.6 322.5h0M99.8 323.4h0M164.7 300.8h0M115.4 312.6h0M111.6 320.1h0M155.9 294.4h0M179.2 298.2h0M203.9 300.4h0M143.8 311.2h0M153.9 303.2h0M196.0 297.4h0M193.0 297.6h0M113.9 309.0h0M190.1 310.9h0M94.9 316.5h0M95.7 324.4h0M186.9 294.5h0M170.2 308.0h0M119.7 320.3h0M137.2 308.0h0M190.2 301.5h0M124.4 312.0h0M185.1 308.6h0M167.0 308.8h0" stroke="#d8df20" stroke-width="2.5" stroke-linecap="round" fill="none"/>
<path d="M129.3 248.3h0M141.5 248.1h0M144.4 252.2h0M136.6 245.9h0M112.0 256.8h0M123.4 254.9h0M166.7 258.0h0M111.9 271.5h0M116.3 272.8h0M163.6 255.9h0M115.4 263.6h0M127.0 268.4h0M144.3 258.3h0M148.9 247.0h0M106.6 275.8h0M110.7 271.5h0M113.6 262.4h0M96.1 272.9h0M147.7 238.9h0M126.6 264.8h0M146.3 251.2h0M150.2 261.7h0M163.2 251.5h0M120.7 249.9h0M109.3 268.1h0M108.8 262.0h0M124.0 267.7h0M153.2 249.3h0M163.0 260.0h0M126.6 256.9h0M103.7 259.2h0M111.4 266.2h0M123.8 269.4h0M146.9 253.2h0M124.4 262.0h0M147.9 264.5h0M145.5 240.9h0M119.5 273.8h0M145.1 249.0h0M165.6 250.6h0M160.6 250.4h0M164.3 258.7h0M162.2 258.5h0M141.3 248.8h0M153.2 246.9h0M132.2 265.4h0M114.2 251.7h0M161.8 259.2h0M153.1 251.0h0M159.6 248.4h0M135.2 243.0h0M104.6 263.5h0M127.7 248.5h0M152.5 261.8h0M157.5 253.8h0M135.2 243.6h0M138.1 256.8h0M141.3 253.7h0M144.9 249.9h0M113.2 273.4h0M162.3 259.8h0M105.6 257.2h0" stroke="#e06836" stroke-width="2.5" stroke-linecap="round" fill="none"/>
<path d="M142.3 248.5h0M137.7 230.9h0M115.1 247.8h0M125.3 238.6h0M139.9 237.0h0M150.9 242.3h0M137.6 241.2h0M146.8 241.2h0M135.8 235.1h0M129.1 236.3h0M143.6 235.7h0M134.3 237.5h0M135.9 233.9h0M115.6 248.6h0" stroke="#e26a3a" stroke-width="2.5" stroke-linecap="round" fill="none"/>
<path d="M163.8 317.1h0M112.5 321.1h0M202.3 319.2h0M143.2 308.9h0M163.3 320.7h0M177.5 325.2h0M189.2 308.3h0M213.2 307.6h0M172.1 322.6h0M205.9 313.8h0M150.7 319.5h0M192.1 315.0h0M126.4 307.3h0M144.4 312.3h0M173.0 309.3h0M115.9 323.4h0M178.7 321.2h0M116.7 317.3h0M94.7 322.6h0M117.1 317.2h0" stroke="#c6d21a" stroke-width="2.5" stroke-linecap="round" fill="none"/>
<path d="M149.8 242.8h0M163.8 260.5h0M125.6 249.2h0M124.8 267.4h0M92.5 275.2h0M157.1 262.9h0M117.1 264.6h0M155.0 248.9h0M138.3 262.1h0M156.6 244.9h0M90.0 266.9h0M142.5 253.3h0M108.1 266.7h0M135.8 243.1h0M154.9 269.7h0M111.7 275.3h0M123.1 257.7h0M119.5 254.6h0M112.5 270.5h0M134.6 268.9h0M111.9 264.1h0M157.2 245.5h0M92.3 272.1h0M97.8 260.9h0M97.3 265.5h0M162.3 261.7h0M170.2 264.1h0M114.7 270.1h0M146.2 258.8h0M112.4 255.0h0M102.5 262.7h0M121.9 262.4h0M115.0 246.4h0M119.5 265.8h0M99.6 256.2h0M161.6 243.8h0M120.8 278.4h0M155.0 248.5h0M115.6 256.0h0M130.5 242.7h0M163.9 247.5h0M113.9 270.3h0M167.6 259.5h0M113.4 261.0h0M139.3 258.6h0M116.8 254.1h0M120.3 266.7h0M122.4 271.0h0M122.9 264.2h0" stroke="#e8802f" stroke-width="2.5" stroke-linecap="round" fill="none"/>
<path d="M149.5 281.9h0M130.7 272.5h0M145.5 270.6h0M133.5 299.5h0M134.9 266.7h0M130.4 282.0h0M138.9 279.3h0M96.8 279.0h0M124.3 283.0h0M100.8 298.3h0M161.1 277.7h0M129.8 270.5h0M88.9 309.4h0M90.4 295.4h0M101.9 270.8h0M125.5 271.4h0M103.8 302.1h0M155.0 282.7h0M178.4 301.7h0M120.7 301.2h0M134.8 270.9h0M113.1 284.4h0M103.9 281.4h0M126.6 285.9h0M111.9 273.8h0M128.5 297.6h0M127.8 272.3h0M124.3 285.9h0M184.0 295.2h0M161.4 274.6h0M99.3 303.2h0M103.6 265.3h0M175.6 294.5h0M135.0 286.3h0M151.5 285.5h0M162.5 249.4h0M119.0 280.5h0M153.2 290.4h0M131.5 271.5h0M139.6 281.5h0M135.2 283.0h0M93.8 282.4h0M137.9 281.4h0M160.8 265.2h0M119.3 284.7h0" stroke="#f3b82c" stroke-width="2.5" stroke-linecap="round" fill="none"/>
<path d="M189.2 316.3h0M143.4 319.0h0M190.6 311.9h0M148.8 319.2h0M152.4 319.7h0M119.4 320.2h0M161.8 302.8h0M147.2 312.8h0M160.0 314.4h0M131.6 318.4h0M155.9 307.6h0M148.9 318.6h0M102.4 327.3h0M171.3 318.6h0M131.2 315.6h0M93.5 329.3h0M184.7 320.8h0M166.2 315.2h0M132.3 319.0h0M152.7 311.1h0M209.5 313.0h0M208.8 310.9h0M100.5 326.4h0M153.2 309.7h0M172.2 312.2h0M105.6 328.5h0M88.6 328.4h0M183.2 315.1h0M141.4 309.1h0M196.4 322.3h0M128.1 313.0h0M202.6 314.2h0M90.8 328.2h0M171.7 312.4h0M151.0 316.2h0M145.7 310.6h0M108.4 323.6h0M97.7 322.3h0M112.5 325.6h0M127.2 313.8h0M113.0 324.3h0M158.4 316.7h0M200.0 306.8h0M154.9 321.1h0M124.5 322.3h0M203.4 313.0h0M122.3 317.2h0M131.1 320.0h0M132.1 298.6h0M183.1 315.7h0M160.5 318.0h0M163.3 309.8h0M154.4 306.3h0M146.6 311.0h0M206.3 303.2h0M175.7 321.1h0M170.9 322.4h0M173.6 323.2h0M144.2 321.5h0M122.3 314.9h0M180.2 322.9h0M179.5 322.7h0M156.1 318.3h0M122.4 314.5h0M146.5 320.1h0M185.1 307.1h0M134.4 315.4h0M127.3 315.2h0M95.5 329.6h0" stroke="#d8e01e" stroke-width="2.5" stroke-linecap="round" fill="none"/>
<path d="M146.6 238.1h0M106.6 256.5h0M129.2 235.6h0M147.5 232.4h0M144.6 241.9h0M144.3 242.0h0M133.0 246.9h0" stroke="#c0405a" stroke-width="2.5" stroke-linecap="round" fill="none"/>
<path d="M134.8 242.9h0M162.3 249.4h0M110.5 268.7h0M133.6 258.4h0M116.0 272.8h0M143.8 262.5h0M143.0 239.7h0M106.0 274.8h0M125.5 248.7h0M106.6 277.2h0M94.1 267.3h0M133.2 258.7h0M98.9 259.1h0M142.4 234.3h0M155.5 265.2h0M152.2 249.3h0M149.0 242.3h0M153.1 258.9h0M135.1 258.3h0M104.5 263.0h0M136.0 244.5h0M128.7 251.4h0M134.6 254.0h0M153.2 259.4h0" stroke="#d4553c" stroke-width="2.5" stroke-linecap="round" fill="none"/>
<path d="M126.7 321.9h0M187.6 321.6h0M154.2 320.9h0M110.8 322.3h0M184.9 306.7h0M112.5 322.4h0M174.7 316.3h0M182.4 322.6h0M166.7 320.6h0M172.1 315.3h0M116.9 317.5h0" stroke="#ecc82c" stroke-width="2.5" stroke-linecap="round" fill="none"/>
<path d="M152.8 250.6h0M145.2 259.5h0M121.1 253.6h0M150.7 249.9h0M167.6 265.3h0M117.2 262.9h0M153.6 259.1h0M112.0 260.2h0M140.4 257.0h0M101.7 269.6h0M110.5 266.0h0M158.3 251.1h0M118.0 267.2h0M123.1 256.9h0M109.0 256.7h0M154.4 250.8h0M104.3 255.1h0M155.1 242.4h0" stroke="#ee9a2c" stroke-width="2.5" stroke-linecap="round" fill="none"/>
<path d="M136.5 230.3h0M104.2 261.0h0M138.5 250.4h0" stroke="#e07840" stroke-width="2.5" stroke-linecap="round" fill="none"/>
<path d="M136.7 296.5h0M91.5 320.5h0M154.1 300.8h0M136.4 303.2h0M190.5 300.2h0M152.8 303.7h0M107.8 305.4h0M171.7 296.9h0M90.9 310.7h0M113.4 301.4h0M115.4 307.5h0M143.6 300.9h0M116.2 316.8h0M91.3 313.2h0M126.9 303.2h0M196.2 301.8h0M188.0 299.9h0M123.7 311.4h0M125.0 315.7h0M135.8 304.8h0M184.0 296.9h0M113.7 317.6h0M132.0 313.0h0M135.0 301.4h0" stroke="#ec9a2c" stroke-width="2.5" stroke-linecap="round" fill="none"/>
<path d="M94.3 301.9h0M156.7 269.3h0M130.1 286.9h0M133.5 281.3h0M160.1 274.9h0M181.0 293.1h0M96.2 312.9h0M149.5 271.3h0M166.0 294.2h0M144.8 301.9h0M162.8 295.1h0M129.2 270.7h0M144.8 299.0h0M142.7 266.3h0M142.8 289.6h0M98.1 294.3h0M150.2 280.8h0M167.1 299.0h0M97.3 285.3h0M94.0 292.8h0M142.1 266.5h0M96.8 282.3h0M193.9 302.0h0M136.9 282.4h0M121.0 289.6h0M95.8 292.3h0M90.9 299.2h0M102.0 288.3h0M141.9 276.9h0M167.6 294.2h0M141.1 288.1h0M107.3 272.7h0M159.6 295.9h0M140.7 296.7h0M99.5 297.2h0M96.7 306.8h0M144.7 285.2h0M139.6 268.2h0M87.6 305.9h0M159.8 280.6h0M126.6 263.7h0M105.8 288.3h0M109.2 312.8h0M101.6 296.6h0M114.6 289.1h0M151.3 268.7h0M147.7 275.1h0M168.5 279.7h0M153.4 295.6h0M119.6 286.8h0M138.8 265.4h0M151.5 275.3h0M208.8 304.2h0M155.2 283.3h0M112.0 287.1h0M111.7 298.3h0M149.5 278.3h0M156.0 284.8h0M107.6 300.5h0M165.5 279.2h0M195.4 296.9h0M161.2 291.8h0M192.5 317.7h0M97.9 306.2h0M186.1 294.0h0M91.8 268.2h0M96.5 292.3h0M110.7 295.3h0" stroke="#e47a32" stroke-width="2.5" stroke-linecap="round" fill="none"/>
<path d="M167.1 299.5h0M191.5 306.6h0M95.7 323.7h0M129.1 300.3h0M94.1 315.4h0M112.3 323.9h0M202.8 305.5h0M175.1 303.2h0M113.8 307.6h0M206.0 306.1h0M136.3 304.8h0M121.7 307.8h0M153.8 308.9h0M188.4 298.0h0M91.1 318.5h0M90.9 329.3h0M203.7 309.0h0M136.8 296.8h0M145.7 302.7h0M168.1 302.0h0M148.9 305.5h0M154.8 314.3h0M177.6 305.3h0M163.2 309.1h0M156.8 308.1h0M161.4 297.8h0M191.6 307.6h0M209.1 308.7h0M134.9 314.6h0M180.7 305.5h0M179.3 308.3h0M91.2 314.0h0M117.1 303.6h0M139.6 315.2h0M181.3 307.0h0M142.1 302.6h0M135.9 309.2h0M192.2 309.9h0M123.0 310.4h0M116.9 315.0h0M170.2 289.7h0M161.3 303.6h0M209.2 302.8h0M179.9 302.8h0M93.7 314.9h0M190.5 315.9h0" stroke="#f0aa28" stroke-width="2.5" stroke-linecap="round" fill="none"/>
<path d="M198.4 300.4h0M175.5 304.8h0M143.6 281.1h0M201.3 305.0h0M143.6 302.2h0M92.1 316.5h0M162.4 303.7h0M180.8 299.2h0M180.1 307.3h0M131.8 313.8h0M164.4 294.5h0M196.0 312.1h0M169.0 292.2h0M104.4 309.0h0M205.5 308.8h0M125.6 301.3h0M98.9 317.6h0M135.8 297.8h0M194.4 302.2h0M135.0 314.5h0M116.5 310.6h0M202.4 303.7h0M141.0 311.5h0M130.2 305.0h0M98.7 323.3h0M141.8 300.2h0M100.4 324.2h0M123.7 304.4h0M198.3 306.0h0M111.7 316.4h0M206.4 302.0h0M104.8 300.2h0M146.6 302.5h0M126.4 302.7h0M164.2 296.2h0M168.8 293.0h0M136.5 308.9h0M176.4 310.2h0M108.2 314.3h0M101.0 318.5h0M163.2 301.7h0M110.6 328.1h0M128.6 305.3h0M201.9 302.3h0M198.1 319.0h0M108.8 317.7h0M129.8 308.7h0" stroke="#e4cc22" stroke-width="2.5" stroke-linecap="round" fill="none"/>
<path d="M108.5 274.7h0M138.2 272.4h0M148.6 252.9h0M152.2 275.2h0M92.0 275.6h0M171.1 280.6h0M162.6 290.5h0M99.2 293.9h0M130.3 289.5h0M104.0 286.2h0M177.6 298.8h0M129.0 274.2h0M129.8 303.7h0M198.3 297.1h0M142.7 262.1h0M100.4 303.3h0M114.1 291.2h0M166.2 292.8h0M151.3 282.1h0M135.7 299.3h0M103.8 315.5h0M95.9 286.7h0M126.4 285.2h0M142.8 264.4h0M125.3 276.7h0M125.4 272.7h0M150.1 271.2h0M156.4 293.1h0M167.5 265.7h0M99.1 300.8h0M130.8 268.6h0M102.4 284.4h0M171.3 301.1h0M134.1 283.8h0M135.2 300.2h0M133.9 271.4h0M122.3 285.6h0M114.8 286.1h0M129.8 298.7h0M168.8 272.9h0M126.9 285.4h0M167.8 304.8h0M151.4 305.0h0M116.2 289.8h0M140.3 273.3h0M146.0 290.0h0M168.1 277.7h0M151.0 272.1h0M158.7 280.5h0M139.3 293.1h0M94.2 284.4h0M124.7 283.2h0M154.5 290.0h0M117.9 282.2h0M126.2 289.6h0M111.0 296.7h0M130.4 257.9h0M115.1 279.5h0M150.9 267.8h0M127.4 268.8h0M195.7 300.8h0M137.6 281.9h0M134.2 271.4h0M126.9 267.3h0M96.2 296.5h0M109.2 268.6h0M102.5 301.1h0M122.3 285.9h0M147.1 296.4h0M159.8 287.6h0M159.0 295.3h0M99.7 300.5h0M166.0 267.7h0M99.0 283.6h0M147.2 273.4h0M111.4 280.5h0M142.9 276.8h0M145.4 283.6h0M98.6 293.4h0M121.9 288.5h0M105.5 303.9h0M121.6 296.0h0M100.0 288.6h0M136.8 272.6h0M95.6 303.2h0M98.6 289.7h0M107.1 294.6h0M99.2 270.7h0M97.1 273.8h0M151.5 281.1h0M148.5 270.2h0M167.4 288.8h0M154.6 282.2h0M162.8 286.4h0M149.8 286.1h0M96.4 280.1h0M118.8 296.0h0M167.2 270.7h0M120.6 293.5h0M110.2 289.2h0M113.7 274.9h0M160.4 275.2h0M120.3 294.2h0M140.5 286.4h0M128.0 300.5h0M149.2 297.2h0M177.1 297.1h0M148.3 282.0h0M156.1 263.0h0M148.9 293.2h0" stroke="#ec902e" stroke-width="2.5" stroke-linecap="round" fill="none"/>
<path d="M131.1 241.2h0M127.7 242.3h0M137.1 235.3h0M133.7 237.4h0M140.3 246.9h0M132.8 245.3h0M115.5 250.8h0M138.3 248.2h0M143.3 247.6h0M124.8 242.0h0M144.1 232.8h0M128.6 245.6h0M139.3 231.6h0M132.9 245.0h0M146.8 236.1h0M120.8 246.9h0M133.0 240.3h0M147.3 247.5h0M144.7 241.7h0M141.7 233.8h0M144.8 237.2h0M143.9 237.1h0M124.4 240.2h0M132.0 239.7h0M158.7 244.9h0M124.7 246.4h0" stroke="#d9583a" stroke-width="2.5" stroke-linecap="round" fill="none"/>
<path d="M208.6 313.5h0M198.6 320.5h0M137.1 314.6h0M135.1 304.1h0M166.3 304.0h0M97.6 328.8h0M100.9 329.3h0M153.8 316.8h0M192.9 316.4h0M95.9 328.3h0M204.4 313.6h0M182.7 319.6h0M132.9 310.5h0M143.1 304.4h0M93.2 319.3h0M207.0 313.5h0M169.4 317.4h0M141.1 311.7h0M170.0 321.1h0M104.9 328.4h0M195.9 318.0h0M156.7 316.7h0M136.8 319.9h0M146.1 296.2h0M193.3 318.2h0M172.2 318.8h0M99.5 326.5h0M200.6 318.5h0M179.3 317.5h0M195.9 312.1h0M186.3 306.6h0M189.3 317.3h0M169.0 319.3h0M208.6 307.8h0M100.0 322.0h0M210.2 311.5h0M185.6 316.6h0M166.0 309.3h0M203.1 317.3h0M167.4 311.1h0M149.4 308.0h0M157.8 320.9h0M166.2 311.8h0M201.7 304.2h0M137.8 309.5h0M110.1 325.1h0M148.4 318.4h0" stroke="#e2e73c" stroke-width="2.5" stroke-linecap="round" fill="none"/>
<path d="M116.4 275.3h0M144.3 277.3h0M160.5 272.1h0M137.7 288.9h0M92.2 294.3h0M99.5 290.4h0M154.9 292.4h0M110.3 291.9h0M164.8 289.4h0M106.0 282.9h0M168.1 280.4h0M136.7 260.3h0M97.7 276.2h0M132.6 300.5h0M105.7 280.3h0M142.3 287.4h0M156.2 268.7h0M110.7 289.5h0M92.1 302.8h0M138.4 263.4h0M153.8 288.6h0M158.6 261.2h0M160.0 283.5h0M159.5 276.1h0M154.9 283.6h0M95.3 279.1h0M93.6 290.1h0M128.5 269.6h0M142.1 265.9h0M167.2 288.0h0M123.7 273.7h0M89.4 286.8h0M141.3 273.5h0M127.5 258.0h0M198.1 309.3h0M110.7 291.7h0M144.9 292.8h0M96.6 294.5h0M132.4 277.9h0M106.7 276.7h0M139.6 287.7h0M103.0 303.8h0M95.8 311.0h0M104.9 290.4h0M153.8 296.2h0M189.8 302.3h0M124.9 296.2h0M139.0 280.4h0M117.2 282.8h0M162.1 262.9h0M120.0 280.7h0M134.8 283.1h0M110.2 316.9h0M178.1 294.6h0M148.8 294.1h0M98.6 275.0h0M158.2 302.0h0M104.2 309.6h0M149.1 261.2h0M137.5 270.5h0M176.0 302.3h0M93.7 298.3h0M108.6 277.3h0M126.7 276.8h0M111.3 276.1h0M173.7 296.2h0M162.6 277.8h0M99.3 290.4h0M142.9 296.4h0M114.6 288.4h0M126.9 263.0h0M95.6 285.3h0M165.8 300.5h0M104.8 297.3h0M110.3 298.8h0M111.3 315.2h0M139.9 291.1h0M94.1 304.6h0M98.2 308.5h0M110.1 311.8h0M143.1 278.7h0M117.5 309.3h0M165.3 266.0h0M173.4 290.7h0M172.3 293.3h0M120.5 289.4h0M116.4 306.1h0M107.3 298.8h0M139.4 277.4h0M143.7 295.3h0M165.4 296.1h0M166.5 284.9h0M128.1 278.0h0M133.5 266.9h0M118.2 298.1h0M151.8 295.9h0M159.2 275.6h0M116.9 299.8h0M168.5 266.8h0M89.9 279.8h0M195.9 294.5h0M115.1 270.7h0M147.9 278.2h0M122.4 293.9h0M96.6 269.7h0M140.2 269.4h0M144.7 271.1h0M132.8 288.6h0M116.9 289.0h0M146.5 290.2h0M162.0 281.8h0M193.8 304.7h0M142.3 277.0h0M124.6 297.5h0M96.8 279.0h0M97.9 285.8h0M166.4 265.0h0M113.4 292.6h0M98.9 303.0h0M154.6 281.1h0M106.5 279.5h0M148.8 281.1h0M183.7 295.8h0M120.0 274.2h0M137.3 263.6h0M98.9 274.7h0M164.4 292.0h0M149.5 275.8h0M96.1 320.1h0M133.2 285.3h0M164.8 283.0h0M130.8 296.4h0M102.3 289.6h0M137.5 297.3h0M150.4 283.7h0M92.6 309.4h0M114.3 284.9h0M102.3 303.2h0M154.5 290.1h0M150.8 295.6h0M157.2 298.1h0M100.7 297.4h0M161.3 285.5h0M106.7 276.1h0M145.7 277.8h0M146.4 266.5h0M149.9 280.3h0M119.7 292.1h0M95.1 317.5h0" stroke="#f0a52a" stroke-width="2.5" stroke-linecap="round" fill="none"/>
<path d="M139.6 296.0h0M141.7 297.9h0M113.2 306.0h0M147.3 297.5h0M132.0 303.3h0M100.2 315.7h0M154.4 313.4h0M120.0 320.3h0M203.4 311.2h0M125.2 298.0h0M179.9 292.2h0M89.1 323.3h0M212.9 307.9h0M180.8 298.2h0M151.3 296.3h0M192.9 311.6h0M176.2 312.3h0M125.9 307.2h0M179.7 314.7h0M137.5 301.9h0M108.3 324.6h0M118.0 302.5h0M140.9 308.9h0M117.9 317.8h0M175.3 302.4h0M182.3 300.3h0M170.9 293.7h0M200.9 308.6h0M171.4 319.0h0M199.1 304.0h0M119.1 310.0h0M165.3 305.7h0M120.4 316.8h0M129.9 309.6h0M125.0 300.4h0M107.8 312.6h0M105.6 320.9h0M156.9 295.8h0M182.9 315.3h0" stroke="#d8df20" stroke-width="2.5" stroke-linecap="round" fill="none"/>
<path d="M159.2 249.6h0M96.3 275.0h0M147.2 253.5h0M108.3 262.3h0M144.2 256.1h0M160.9 258.2h0M146.1 266.3h0M119.3 263.5h0M114.6 266.8h0M165.8 257.5h0M137.6 240.5h0M115.1 260.7h0M139.1 245.9h0M101.6 262.8h0M157.6 243.4h0M108.7 275.5h0M144.3 264.0h0M146.1 248.4h0M151.4 247.2h0M129.3 256.5h0M140.3 244.7h0M139.1 252.6h0M158.3 247.0h0M121.6 253.6h0M129.9 244.3h0M126.7 254.3h0M166.0 249.5h0M152.1 267.2h0M117.5 255.0h0M108.0 256.3h0M146.7 250.6h0M162.6 255.9h0M114.7 275.9h0M152.3 255.6h0M133.5 245.9h0M113.7 270.0h0M106.7 271.6h0M116.6 257.1h0M114.8 267.5h0M122.3 268.2h0M136.5 246.5h0M149.4 268.1h0M114.4 261.4h0M131.4 255.0h0M92.4 265.0h0M139.8 248.3h0M122.4 258.7h0M119.8 250.0h0M106.4 272.9h0M135.1 259.1h0M105.4 259.6h0M165.3 266.8h0M107.6 260.0h0M137.3 262.1h0M122.9 268.3h0M140.8 243.1h0M136.3 243.4h0M120.3 252.7h0M133.5 266.2h0M157.4 260.4h0M132.9 250.8h0" stroke="#e06836" stroke-width="2.5" stroke-linecap="round" fill="none"/>
<path d="M147.5 237.4h0M164.7 250.2h0M149.9 237.2h0M103.0 259.2h0M156.4 244.9h0M140.0 235.5h0M146.0 244.2h0M153.6 247.4h0M131.7 234.1h0M130.7 240.1h0M96.2 264.8h0M137.7 232.8h0M132.7 239.2h0M146.6 243.9h0" stroke="#e26a3a" stroke-width="2.5" stroke-linecap="round" fill="none"/>
<path d="M152.7 321.9h0M185.0 316.8h0M142.6 307.1h0M180.4 318.6h0M129.0 312.2h0M125.0 307.3h0M152.1 306.5h0M90.6 327.7h0M174.0 321.9h0M104.1 321.8h0M175.0 302.1h0M89.2 330.0h0M209.1 314.5h0M162.8 298.2h0M179.7 321.6h0M103.7 320.7h0M169.8 318.9h0M96.0 331.1h0M152.6 313.7h0M133.0 317.4h0" stroke="#c6d21a" stroke-width="2.5" stroke-linecap="round" fill="none"/>
<path d="M115.4 258.6h0M105.6 254.6h0M157.3 255.2h0M158.8 260.3h0M156.0 244.0h0M95.0 274.6h0M162.3 247.1h0M127.9 249.6h0M121.7 262.9h0M106.5 259.1h0M105.2 262.1h0M154.9 262.3h0M140.4 269.5h0M106.7 251.5h0M142.0 260.6h0M157.1 244.4h0M145.6 251.7h0M129.3 262.8h0M132.4 251.6h0M132.9 256.4h0M124.9 277.1h0M143.5 261.7h0M118.0 260.7h0M135.5 253.8h0M105.7 270.6h0M133.0 257.4h0M144.6 256.7h0M126.2 250.7h0M147.2 264.8h0M156.1 253.2h0M114.3 268.9h0M158.5 248.7h0M101.7 272.1h0M119.5 262.0h0M100.7 267.3h0M164.1 263.0h0M119.1 270.3h0M108.1 269.7h0M119.2 266.6h0M115.3 264.6h0M135.0 246.2h0M120.2 259.7h0M125.0 255.2h0M95.1 265.8h0M131.5 259.4h0M166.7 263.6h0M155.2 241.3h0M120.4 266.9h0M106.8 269.3h0" stroke="#e8802f" stroke-width="2.5" stroke-linecap="round" fill="none"/>
<path d="M113.0 292.8h0M105.7 277.3h0M96.3 289.5h0M146.7 266.6h0M112.0 273.4h0M117.5 300.9h0M153.8 292.8h0M94.3 287.4h0M89.5 283.1h0M142.2 287.9h0M110.3 282.6h0M170.3 290.6h0M101.9 278.0h0M165.7 272.1h0M120.1 280.8h0M113.2 304.4h0M128.0 297.3h0M120.9 288.4h0M143.7 270.7h0M152.7 279.6h0M133.8 284.3h0M170.1 286.9h0M167.5 263.5h0M164.4 303.1h0M104.4 300.1h0M134.3 286.2h0M194.6 297.5h0M138.5 289.5h0M117.3 282.6h0M156.7 292.7h0M121.8 272.5h0M127.2 259.3h0M138.7 267.4h0M161.7 262.1h0M93.8 282.5h0M108.0 294.5h0M137.5 280.1h0M151.0 272.5h0M97.5 283.2h0M94.1 293.9h0M96.3 302.3h0M128.3 288.1h0M108.9 298.9h0M96.4 258.9h0" stroke="#f3b82c" stroke-width="2.5" stroke-linecap="round" fill="none"/>
<path d="M152.5 320.4h0M140.7 319.7h0M130.7 305.1h0M138.8 308.4h0M110.2 321.6h0M104.8 326.9h0M172.0 312.9h0M190.6 317.6h0M182.0 313.6h0M182.1 307.1h0M179.3 319.5h0M106.1 326.2h0M139.6 318.0h0M157.5 309.9h0M125.3 318.3h0M154.3 324.2h0M114.7 320.8h0M161.2 312.8h0M198.5 307.7h0M93.5 328.0h0M105.6 323.8h0M200.8 308.6h0M166.0 318.0h0M136.5 317.1h0M105.8 328.6h0M119.8 312.1h0M137.9 312.5h0M153.9 314.5h0M159.0 319.0h0M121.8 322.8h0M158.8 318.6h0M181.5 308.9h0M184.9 313.4h0M89.2 328.3h0M90.9 327.2h0M113.3 327.3h0M127.5 303.1h0M206.8 316.2h0M202.5 315.2h0M141.4 315.4h0M184.7 315.7h0M202.4 314.3h0M119.2 322.6h0M165.1 312.7h0M173.4 318.3h0M150.1 319.9h0M108.4 321.5h0M103.1 316.5h0M163.0 314.0h0M176.8 319.6h0M131.6 318.6h0M94.2 329.8h0M182.2 320.9h0M113.2 321.6h0M128.5 319.7h0M168.7 321.2h0M170.0 306.5h0M156.5 316.8h0M121.5 321.2h0M174.1 313.3h0M167.6 313.1h0M207.7 312.2h0M197.8 319.7h0M135.0 301.4h0M162.6 307.0h0M166.7 308.5h0M100.5 328.1h0M134.3 314.0h0M163.5 299.3h0" stroke="#d8e01e" stroke-width="2.5" stroke-linecap="round" fill="none"/>
<path d="M122.0 240.4h0M115.3 247.1h0M142.5 238.2h0M137.6 238.2h0M128.6 238.2h0M117.6 250.9h0M136.9 240.6h0" stroke="#c0405a" stroke-width="2.5" stroke-linecap="round" fill="none"/>
<path d="M153.7 255.3h0M156.9 248.0h0M102.1 264.3h0M165.2 262.8h0M117.1 257.1h0M133.8 264.5h0M138.5 248.5h0M128.5 251.0h0M93.4 271.6h0M140.0 242.7h0M146.8 252.0h0M127.6 268.4h0M94.7 264.3h0M117.2 270.4h0M116.0 247.8h0M128.5 259.9h0M124.6 255.0h0M151.0 247.5h0M153.4 266.0h0M154.2 253.2h0M126.5 250.3h0M157.2 254.7h0M130.5 265.2h0M144.9 243.5h0" stroke="#d4553c" stroke-width="2.5" stroke-linecap="round" fill="none"/>
<path d="M163.7 307.7h0M146.2 315.0h0M120.1 322.7h0M98.3 320.9h0M192.4 312.9h0M180.9 317.3h0M132.3 305.9h0M142.1 319.5h0M208.2 306.4h0M139.5 308.4h0M172.8 318.9h0" stroke="#ecc82c" stroke-width="2.5" stroke-linecap="round" fill="none"/>
<path d="M104.2 268.7h0M113.3 262.3h0M145.4 266.9h0M116.0 246.7h0M95.6 266.5h0M164.2 260.8h0M110.7 265.8h0M128.0 257.9h0M158.6 250.6h0M128.3 266.3h0M113.1 262.4h0M126.0 243.6h0M156.0 262.4h0M151.3 241.4h0M119.8 267.6h0M126.3 264.4h0M132.2 250.0h0M125.7 256.4h0" stroke="#ee9a2c" stroke-width="2.5" stroke-linecap="round" fill="none"/>
<path d="M127.9 238.9h0M140.5 236.0h0M138.1 231.0h0" stroke="#e07840" stroke-width="2.5" stroke-linecap="round" fill="none"/>
<path d="M179.4 319.1h0M159.2 307.7h0M113.2 306.4h0M186.0 309.2h0M107.7 313.0h0M93.5 323.0h0M149.2 306.6h0M108.8 309.2h0M186.3 321.4h0M106.6 308.5h0M121.5 295.7h0M109.6 324.7h0M128.9 306.3h0M97.7 311.5h0M172.8 303.8h0M133.4 304.7h0M175.7 311.9h0M123.4 305.9h0M127.2 301.3h0M148.5 314.7h0M140.4 293.5h0M205.1 307.2h0M91.3 310.0h0M181.7 312.0h0" stroke="#ec9a2c" stroke-width="2.5" stroke-linecap="round" fill="none"/>
<path d="M132.8 266.7h0M108.4 310.2h0M111.1 293.2h0M150.5 287.1h0M118.0 268.8h0M143.1 289.5h0M143.6 295.2h0M137.8 268.1h0M168.7 278.7h0M134.3 288.4h0M134.7 277.1h0M146.2 273.3h0M137.7 273.6h0M125.6 278.6h0M160.6 277.6h0M130.5 293.0h0M107.9 290.9h0M168.5 279.7h0M148.3 299.4h0M102.9 288.1h0M112.9 285.4h0M162.2 268.1h0M97.6 294.4h0M132.2 301.0h0M128.3 280.9h0M197.2 297.4h0M153.7 256.7h0M164.9 259.5h0M114.7 283.9h0M94.3 269.7h0M95.2 278.0h0M96.5 282.1h0M137.1 273.8h0M98.7 288.2h0M138.5 287.6h0M118.0 295.3h0M122.1 270.8h0M115.6 289.6h0M136.8 296.1h0M160.5 272.3h0M168.3 263.4h0M95.7 295.8h0M127.8 291.9h0M157.7 278.4h0M156.7 271.3h0M129.9 283.0h0M159.9 289.1h0M118.4 274.3h0M159.1 265.4h0M119.7 280.7h0M94.0 291.9h0M145.3 280.0h0M104.1 304.4h0M168.7 269.7h0M129.5 280.7h0M177.2 297.1h0M207.9 300.7h0M149.2 277.7h0M94.3 268.9h0M120.2 288.6h0M166.1 291.2h0M157.3 284.3h0M138.5 291.8h0M96.6 301.7h0M142.0 254.0h0M91.4 280.8h0M127.0 262.9h0" stroke="#e47a32" stroke-width="2.5" stroke-linecap="round" fill="none"/>
<path d="M101.1 309.2h0M209.3 304.4h0M169.9 308.1h0M162.2 295.8h0M107.9 321.6h0M153.5 296.3h0M186.1 301.6h0M99.5 331.2h0M193.6 305.6h0M156.4 315.0h0M91.6 323.2h0M142.6 299.9h0M121.8 319.7h0M185.3 298.9h0M107.2 328.1h0M159.0 306.0h0M165.6 307.2h0M164.2 316.0h0M119.6 309.1h0M125.1 302.6h0M134.0 307.2h0M207.0 304.7h0M132.4 303.5h0M171.1 310.6h0M127.5 297.9h0M88.5 313.3h0M147.7 306.5h0M188.0 298.9h0M90.6 306.5h0M169.9 311.2h0M182.6 295.0h0M201.6 304.8h0M103.7 315.4h0M150.5 309.9h0M96.7 314.0h0M90.8 320.8h0M149.8 299.1h0M191.3 302.4h0M94.6 323.5h0M205.0 301.3h0M165.6 302.0h0M207.4 305.0h0M208.7 311.9h0M143.5 311.6h0M172.9 308.2h0M151.7 313.5h0" stroke="#f0aa28" stroke-width="2.5" stroke-linecap="round" fill="none"/>
<path d="M98.5 319.9h0M165.4 296.2h0M154.1 306.5h0M101.9 308.3h0M151.8 313.0h0M202.8 309.2h0M172.5 300.8h0M101.7 306.8h0M132.2 293.3h0M199.1 298.4h0M136.0 305.9h0M150.0 291.4h0M104.0 309.1h0M148.4 296.2h0M141.0 308.5h0M192.3 301.2h0M175.0 311.7h0M164.9 306.9h0M104.0 317.7h0M114.1 303.0h0M158.9 301.4h0M100.1 315.6h0M89.2 319.9h0M141.3 299.4h0M124.6 311.5h0M115.8 315.5h0M194.1 303.5h0M130.1 301.6h0M107.5 318.3h0M104.8 315.8h0M149.6 306.3h0M132.3 302.6h0M119.2 315.3h0M205.2 315.8h0M124.6 305.6h0M112.3 310.6h0M115.6 298.7h0M145.5 295.8h0M199.0 304.4h0M147.5 312.6h0M119.0 305.2h0M117.9 310.3h0M102.6 322.0h0M110.5 316.6h0M159.2 294.4h0M143.9 290.4h0M167.8 300.3h0" stroke="#e4cc22" stroke-width="2.5" stroke-linecap="round" fill="none"/>
<path d="M93.6 279.9h0M168.2 292.5h0M146.9 280.1h0M134.8 276.7h0M119.3 271.8h0M141.2 274.5h0M100.9 280.3h0M138.5 290.2h0M116.5 287.1h0M119.0 284.5h0M92.1 303.6h0M156.7 295.2h0M140.7 282.8h0M168.1 277.2h0M138.7 267.0h0M89.8 312.1h0M153.2 290.7h0M129.9 296.5h0M159.2 284.5h0M146.4 287.0h0M105.2 294.6h0M100.4 307.3h0M135.9 270.5h0M171.0 297.3h0M126.8 284.7h0M98.3 298.1h0M136.1 274.8h0M124.6 294.8h0M137.8 276.8h0M173.6 293.2h0M152.1 301.7h0M131.2 290.7h0M189.9 298.4h0M144.6 265.7h0M163.7 301.4h0M94.3 288.7h0M92.9 292.9h0M164.4 263.8h0M110.1 303.6h0M184.0 292.9h0M124.9 278.9h0M120.4 284.5h0M126.7 301.6h0M196.2 305.6h0M194.7 299.2h0M133.6 286.4h0M138.9 285.5h0M101.5 296.5h0M152.1 292.6h0M158.8 283.8h0M94.1 310.4h0M156.7 254.2h0M200.9 298.8h0M120.2 281.7h0M103.3 291.5h0M200.6 303.3h0M136.6 292.5h0M131.2 265.5h0M99.1 289.4h0M118.7 294.0h0M103.4 301.8h0M142.0 294.2h0M101.4 277.4h0M143.8 288.0h0M96.7 316.5h0M210.8 307.2h0M164.0 285.3h0M162.2 289.1h0M189.1 296.0h0M118.6 282.3h0M103.4 278.2h0M150.7 272.4h0M119.6 282.7h0M162.0 269.9h0M100.3 271.8h0M142.4 272.7h0M125.6 290.1h0M138.1 275.8h0M162.0 257.4h0M120.1 280.6h0M105.9 296.2h0M120.7 276.9h0M152.7 281.0h0M91.6 300.4h0M147.1 287.1h0M203.2 300.5h0M114.8 281.6h0M153.3 287.8h0M110.9 299.8h0M135.3 275.1h0M132.4 293.6h0M115.0 303.0h0M115.1 282.1h0M129.9 274.6h0M105.3 305.2h0M149.0 285.7h0M140.7 294.1h0M111.2 296.6h0M151.3 292.0h0M107.0 273.4h0M140.6 262.2h0M109.2 314.4h0M164.9 268.4h0M109.9 302.3h0M169.5 275.3h0M137.0 263.2h0M131.7 269.4h0M123.3 295.7h0M166.0 291.7h0M133.6 293.9h0" stroke="#ec902e" stroke-width="2.5" stroke-linecap="round" fill="none"/>
<path d="M133.5 245.9h0M126.1 242.1h0M133.4 240.9h0M142.7 237.7h0M121.2 249.2h0M126.3 244.5h0M129.9 238.1h0M119.8 253.5h0M120.5 253.6h0M140.1 249.1h0M139.7 228.9h0M124.6 246.5h0M158.0 244.6h0M137.5 231.8h0M152.1 242.5h0M142.5 234.5h0M149.9 248.1h0M150.8 243.3h0M158.0 245.9h0M137.3 233.4h0M150.3 243.4h0M136.6 236.2h0M139.3 236.7h0M119.8 245.2h0M153.2 242.2h0M148.0 238.7h0" stroke="#d9583a" stroke-width="2.5" stroke-linecap="round" fill="none"/>
<path d="M111.6 328.3h0M160.2 320.0h0M203.7 310.0h0M157.3 314.5h0M177.3 322.7h0M185.0 306.9h0M141.5 318.5h0M139.7 317.1h0M132.6 314.7h0M184.4 315.7h0M139.5 319.9h0M98.3 325.8h0M121.9 323.6h0M97.9 329.6h0M151.0 310.4h0M202.2 309.5h0M182.1 315.0h0M161.5 317.0h0M138.9 312.1h0M172.3 313.5h0M125.0 317.3h0M206.5 316.6h0M96.8 329.9h0M158.4 311.9h0M94.6 322.6h0M118.8 320.4h0M162.9 321.9h0M164.2 308.1h0M166.9 316.4h0M146.3 318.6h0M183.4 313.1h0M115.4 323.0h0M140.1 310.3h0M176.5 321.2h0M147.2 320.0h0M99.8 323.5h0M101.6 325.4h0M123.3 319.2h0M164.8 309.2h0M96.6 327.4h0M142.5 308.3h0M155.4 312.2h0M167.0 321.8h0M144.3 313.4h0M109.7 328.9h0M99.3 327.0h0M122.5 321.2h0" stroke="#e2e73c" stroke-width="2.5" stroke-linecap="round" fill="none"/>
<path d="M98.7 300.9h0M110.8 303.6h0M151.5 276.1h0M147.4 284.2h0M98.1 307.2h0M156.8 286.2h0M117.1 280.5h0M120.3 288.1h0M99.7 291.9h0M100.2 284.0h0M160.9 281.0h0M128.3 294.2h0M96.5 288.5h0M173.9 296.1h0M106.9 271.9h0M162.2 291.4h0M105.6 301.8h0M189.1 302.5h0M128.2 295.2h0M170.5 302.0h0M142.9 291.5h0M167.2 265.8h0M159.0 300.6h0M137.5 268.6h0M107.7 295.4h0M99.5 296.9h0M153.3 270.0h0M130.0 287.1h0M113.3 274.9h0M119.8 279.5h0M126.7 272.1h0M148.7 254.4h0M175.5 292.6h0M99.9 304.6h0M154.7 276.3h0M97.3 309.8h0M144.4 270.0h0M95.0 302.7h0M109.3 285.5h0M93.3 299.1h0M144.4 287.7h0M178.0 297.5h0M113.7 295.4h0M160.5 284.7h0M100.0 302.9h0M129.2 260.0h0M115.6 296.6h0M167.1 265.6h0M169.8 287.8h0M189.1 307.7h0M90.1 317.3h0M142.9 278.6h0M138.4 296.7h0M151.1 280.5h0M135.3 294.1h0M164.1 298.2h0M181.2 306.4h0M125.5 278.7h0M141.6 275.8h0M101.7 282.6h0M129.6 276.9h0M117.0 287.7h0M138.5 276.0h0M108.0 280.2h0M106.9 270.0h0M188.1 293.9h0M145.4 282.4h0M135.1 268.4h0M186.1 297.8h0M90.6 299.5h0M125.8 265.9h0M144.2 282.3h0M116.8 304.1h0M133.2 278.5h0M135.7 281.7h0M132.7 285.6h0M155.9 281.9h0M101.2 281.6h0M162.2 289.8h0M166.4 281.7h0M173.6 297.1h0M97.2 275.0h0M125.4 286.8h0M142.5 261.9h0M154.4 269.6h0M116.9 310.2h0M155.1 288.4h0M159.2 297.9h0M113.4 303.4h0M126.7 270.6h0M120.4 281.4h0M97.4 270.6h0M136.0 268.0h0M100.4 299.4h0M161.3 288.5h0M105.5 296.0h0M159.4 255.4h0M103.0 269.8h0M101.1 304.2h0M138.2 267.6h0M172.6 291.4h0M116.7 288.2h0M108.8 308.4h0M108.0 274.4h0M144.0 285.0h0M148.8 257.1h0M201.1 301.4h0M104.5 262.5h0M129.3 291.5h0M153.7 277.4h0M162.7 289.7h0M136.4 294.5h0M166.4 251.4h0M197.1 297.0h0M140.9 282.3h0M128.1 265.8h0M113.3 290.4h0M165.0 261.8h0M153.0 288.5h0M157.3 276.3h0M95.2 288.5h0M108.5 299.2h0M175.9 292.6h0M127.1 277.9h0M165.7 278.0h0M100.3 274.4h0M112.5 275.1h0M132.7 290.6h0M125.8 287.2h0M169.0 278.5h0M142.4 279.3h0M115.8 284.6h0M89.2 283.8h0M162.1 286.0h0M118.9 313.8h0M156.7 269.9h0M141.7 302.4h0M117.8 284.5h0M136.5 282.2h0M160.2 274.8h0M121.3 303.0h0M135.5 278.9h0M121.0 286.1h0M157.6 278.5h0M144.8 274.4h0M128.7 301.5h0M163.0 290.4h0M171.6 290.4h0" stroke="#f0a52a" stroke-width="2.5" stroke-linecap="round" fill="none"/>
<path d="M157.0 311.9h0M127.8 295.2h0M196.7 307.1h0M163.6 299.1h0M107.5 322.7h0M99.9 328.3h0M163.5 298.2h0M152.6 303.7h0M165.2 312.0h0M174.6 297.3h0M93.7 321.2h0M190.2 306.7h0M153.8 294.2h0M154.0 300.0h0M110.0 315.3h0M98.7 326.4h0M174.1 303.7h0M132.6 310.8h0M100.4 318.2h0M170.8 303.0h0M193.5 303.9h0M204.0 301.0h0M174.7 312.1h0M121.7 317.1h0M169.6 313.3h0M141.1 303.1h0M128.2 301.9h0M108.3 323.0h0M137.3 313.5h0M163.7 303.8h0M197.5 302.7h0M140.1 302.2h0M204.8 304.6h0M122.1 307.9h0M139.1 298.7h0M128.2 317.4h0M162.8 307.2h0M99.2 316.3h0M160.1 308.6h0" stroke="#d8df20" stroke-width="2.5" stroke-linecap="round" fill="none"/>
<path d="M116.5 267.4h0M110.5 260.7h0M124.7 256.3h0M133.2 264.5h0M127.4 267.1h0M119.5 261.9h0M104.5 257.4h0M105.9 269.0h0M122.8 262.6h0M155.8 255.4h0M115.9 249.8h0M120.8 266.8h0M96.5 265.5h0M136.8 245.9h0M149.5 256.5h0M128.8 250.5h0M96.0 265.7h0M105.4 261.0h0M166.7 267.7h0M143.4 252.4h0M141.6 260.6h0M138.7 252.0h0M120.4 266.3h0M117.8 258.1h0M128.7 248.8h0M157.5 242.7h0M167.6 257.2h0M132.5 250.1h0M99.2 264.1h0M128.4 258.4h0M151.7 257.5h0M122.9 252.6h0M143.9 245.7h0M154.3 254.0h0M104.9 272.0h0M169.4 263.9h0M113.5 257.5h0M166.8 262.7h0M145.6 265.8h0M109.1 252.4h0M155.7 244.6h0M114.5 262.9h0M146.0 252.1h0M130.5 238.9h0M133.1 245.5h0M119.6 258.6h0M142.9 247.7h0M93.8 280.6h0M163.7 267.3h0M124.3 260.8h0M111.1 265.2h0M106.3 277.1h0M119.8 267.0h0M158.4 250.5h0M151.5 248.6h0M121.9 261.3h0M152.0 256.1h0M154.2 266.4h0M128.7 265.3h0M136.3 266.9h0M115.8 256.8h0" stroke="#e06836" stroke-width="2.5" stroke-linecap="round" fill="none"/>
<path d="M134.7 235.3h0M142.6 236.3h0M149.0 239.9h0M126.7 235.9h0M161.2 245.8h0M111.6 253.5h0M140.7 234.2h0M156.3 239.1h0M133.4 248.8h0M147.0 239.0h0M158.6 245.1h0M135.4 237.6h0M134.8 242.1h0M135.7 231.4h0" stroke="#e26a3a" stroke-width="2.5" stroke-linecap="round" fill="none"/>
<path d="M136.1 307.8h0M175.3 310.1h0M129.9 314.2h0M157.8 320.5h0M144.1 320.7h0M191.9 319.8h0M175.7 315.4h0M105.0 327.0h0M126.3 311.6h0M117.3 314.5h0M158.6 315.8h0M143.6 315.6h0M171.7 313.1h0M105.9 319.8h0M206.6 313.0h0M150.1 318.1h0M170.6 319.6h0M173.1 309.3h0M199.7 318.6h0M131.8 315.3h0" stroke="#c6d21a" stroke-width="2.5" stroke-linecap="round" fill="none"/>
<path d="M150.5 254.2h0M118.2 262.9h0M140.1 260.1h0M91.3 267.9h0M139.5 237.2h0M154.9 245.5h0M150.0 260.6h0M96.7 266.9h0M113.2 268.4h0M133.6 263.1h0M160.4 249.7h0M115.2 255.1h0M127.6 237.7h0M142.9 249.9h0M96.6 269.2h0M137.8 264.7h0M98.9 277.8h0M133.7 262.5h0M145.7 240.6h0M129.3 261.5h0M114.0 256.7h0M98.7 262.9h0M129.4 240.5h0M114.2 250.2h0M133.5 244.9h0M104.0 270.8h0M119.4 249.7h0M138.9 270.4h0M124.6 269.5h0M97.7 270.9h0M162.4 267.1h0M119.9 251.3h0M140.4 247.3h0M114.6 270.6h0M122.3 265.5h0M119.4 275.1h0M99.5 272.0h0M100.7 259.7h0M143.0 251.6h0M120.6 259.6h0M133.5 249.4h0M161.0 255.0h0M114.8 253.3h0M145.7 248.6h0M96.9 269.0h0M115.6 271.9h0M116.8 264.7h0M113.1 257.2h0M168.0 258.4h0" stroke="#e8802f" stroke-width="2.5" stroke-linecap="round" fill="none"/>
<path d="M123.9 295.0h0M104.9 263.3h0M179.2 300.0h0M159.6 293.0h0M125.1 273.2h0M133.6 286.3h0M101.9 280.7h0M139.1 290.9h0M102.2 299.9h0M143.0 277.5h0M182.9 297.0h0M164.3 287.6h0M130.5 291.9h0M110.5 296.5h0M139.5 296.1h0M136.5 304.3h0M90.5 289.1h0M118.0 304.6h0M87.6 302.3h0M123.8 291.3h0M155.0 269.4h0M93.8 307.0h0M157.3 287.4h0M121.5 291.8h0M164.3 307.7h0M126.9 291.4h0M140.7 275.4h0M96.8 285.4h0M154.6 265.5h0M89.7 291.8h0M149.2 286.4h0M109.8 289.3h0M195.0 298.3h0M148.0 299.2h0M132.5 264.7h0M106.0 309.3h0M121.3 267.3h0M98.7 282.1h0M165.9 291.4h0M91.9 281.4h0M134.5 269.1h0M123.1 288.0h0M146.4 269.4h0M87.6 285.4h0" stroke="#f3b82c" stroke-width="2.5" stroke-linecap="round" fill="none"/>
<path d="M121.8 321.5h0M124.1 310.7h0M137.6 312.0h0M160.9 321.3h0M175.4 323.2h0M180.2 318.8h0M155.1 322.6h0M162.4 317.2h0M134.6 317.2h0M110.7 323.5h0M185.2 312.5h0M166.3 323.0h0M118.9 320.0h0M133.8 315.8h0M90.6 323.9h0M135.0 317.2h0M172.8 319.2h0M167.8 319.6h0M150.8 314.1h0M199.6 312.8h0M177.8 310.4h0M187.5 314.9h0M147.5 319.8h0M172.1 319.9h0M119.7 322.7h0M177.4 321.7h0M179.4 316.6h0M204.4 313.0h0M161.6 324.9h0M196.8 313.2h0M176.5 317.3h0M209.7 307.3h0M161.4 317.4h0M119.2 318.5h0M149.2 315.7h0M193.8 301.8h0M173.4 314.0h0M133.9 319.0h0M200.4 314.6h0M114.0 324.5h0M181.7 320.0h0M146.1 310.6h0M156.5 318.5h0M112.6 321.0h0M199.8 310.1h0M191.7 317.6h0M133.3 314.5h0M142.9 312.3h0M117.0 319.0h0M160.0 295.7h0M155.8 317.1h0M182.2 317.8h0M206.8 318.3h0M160.0 311.0h0M167.8 317.0h0M144.8 317.9h0M153.5 308.9h0M142.7 319.7h0M175.2 301.6h0M98.7 326.2h0M100.4 327.5h0M162.4 320.0h0M191.7 311.7h0M139.7 305.8h0M210.9 309.4h0M105.6 325.9h0M174.5 301.1h0M171.3 318.7h0" stroke="#d8e01e" stroke-width="2.5" stroke-linecap="round" fill="none"/>
<path d="M129.7 232.7h0M137.6 240.3h0M137.9 253.9h0M122.8 238.2h0M152.2 250.5h0M145.1 233.1h0M144.9 250.3h0" stroke="#c0405a" stroke-width="2.5" stroke-linecap="round" fill="none"/>
<path d="M154.2 245.3h0M116.4 281.1h0M166.1 255.7h0M147.5 268.2h0M99.6 259.4h0M130.3 257.5h0M158.3 263.7h0M152.7 248.3h0M122.0 282.3h0M145.4 257.8h0M134.0 243.6h0M126.5 262.8h0M102.1 267.2h0M126.1 252.4h0M141.1 240.6h0M151.4 243.8h0M103.0 258.3h0M115.1 250.4h0M157.7 250.4h0M107.0 255.0h0M110.6 271.7h0M119.7 259.2h0M127.1 261.1h0M130.8 259.0h0" stroke="#d4553c" stroke-width="2.5" stroke-linecap="round" fill="none"/>
<path d="M183.7 314.2h0M132.6 316.5h0M149.2 313.5h0M98.1 327.0h0M101.7 321.8h0M137.2 315.8h0M162.7 309.4h0M175.6 314.0h0M185.4 319.2h0M158.3 322.5h0M133.8 311.0h0" stroke="#ecc82c" stroke-width="2.5" stroke-linecap="round" fill="none"/>
<path d="M106.0 255.3h0M113.4 263.7h0M143.6 263.9h0M131.9 255.1h0M115.4 282.1h0M136.3 264.1h0M98.6 256.6h0M158.7 258.4h0M168.3 268.0h0M131.9 258.6h0M148.5 255.9h0M115.5 260.7h0M127.2 246.3h0M131.8 251.9h0M103.4 264.4h0M101.2 261.0h0M127.8 244.1h0M115.3 269.3h0" stroke="#ee9a2c" stroke-width="2.5" stroke-linecap="round" fill="none"/>
<path d="M120.0 246.4h0M135.7 242.7h0M133.4 234.2h0" stroke="#e07840" stroke-width="2.5" stroke-linecap="round" fill="none"/>
<path d="M143.2 304.4h0M178.8 307.5h0M110.1 315.9h0M142.7 295.6h0M109.0 317.2h0M172.1 295.2h0M140.5 305.6h0M203.6 300.9h0M131.9 315.1h0M106.8 319.3h0M129.3 302.6h0M148.4 310.3h0M109.8 321.2h0M105.0 322.5h0M107.2 326.5h0M197.4 308.6h0M179.5 311.6h0M201.3 303.0h0M204.0 303.6h0M97.5 309.2h0M189.7 305.7h0M127.5 307.5h0M173.4 308.7h0M90.4 310.8h0" stroke="#ec9a2c" stroke-width="2.5" stroke-linecap="round" fill="none"/>
<path d="M119.9 309.2h0M160.5 259.4h0M137.1 267.7h0M104.7 298.9h0M91.4 306.1h0M103.8 308.2h0M118.2 306.7h0M149.2 262.8h0M110.2 284.0h0M94.7 301.6h0M103.2 293.6h0M146.2 281.5h0M111.5 276.5h0M120.4 287.2h0M128.2 306.6h0M187.4 297.3h0M130.1 273.6h0M122.7 291.4h0M91.8 306.0h0M104.9 272.4h0M101.6 298.6h0M116.9 290.5h0M99.7 289.7h0M132.4 286.8h0M108.4 275.2h0M153.1 297.9h0M109.5 305.5h0M144.8 267.6h0M185.9 296.1h0M157.7 261.7h0M157.7 265.0h0M96.6 312.3h0M147.2 296.9h0M140.5 286.0h0M139.6 279.3h0M119.4 288.0h0M107.0 305.9h0M154.2 307.8h0M147.3 271.2h0M158.6 291.5h0M178.2 291.9h0M153.8 269.8h0M142.4 261.8h0M93.3 292.7h0M156.4 282.2h0M135.9 279.4h0M160.2 258.8h0M93.5 295.4h0M156.0 303.9h0M159.0 289.4h0M95.1 298.1h0M165.2 278.0h0M103.8 298.8h0M164.9 252.6h0M136.7 281.3h0M159.6 283.0h0M184.9 309.0h0M187.7 300.3h0M97.9 287.0h0M174.5 293.8h0M116.0 311.5h0M98.2 305.1h0M167.7 275.4h0M167.3 284.4h0M122.4 300.0h0M121.4 284.5h0M150.8 274.3h0" stroke="#e47a32" stroke-width="2.5" stroke-linecap="round" fill="none"/>
<path d="M126.9 291.4h0M174.1 310.7h0M143.6 315.5h0M103.5 319.0h0M115.7 304.2h0M195.1 298.9h0M180.5 297.7h0M94.3 325.0h0M209.8 310.9h0M127.0 307.9h0M180.2 298.1h0M168.7 304.5h0M97.5 318.7h0M110.7 325.2h0M179.4 293.3h0M146.7 301.1h0M153.4 296.9h0M172.6 300.8h0M128.5 316.4h0M147.4 306.0h0M94.7 315.8h0M135.9 307.6h0M197.9 299.8h0M157.7 299.6h0M157.0 304.4h0M93.4 312.2h0M188.6 300.8h0M173.4 295.0h0M149.8 302.3h0M120.3 317.6h0M106.7 314.4h0M204.4 301.4h0M154.7 308.6h0M192.8 301.7h0M112.9 313.9h0M171.8 297.8h0M111.6 315.1h0M152.4 305.8h0M195.3 314.5h0M123.1 318.9h0M149.9 304.6h0M98.2 325.3h0M92.4 321.1h0M172.9 308.9h0M129.7 304.9h0M200.5 300.9h0" stroke="#f0aa28" stroke-width="2.5" stroke-linecap="round" fill="none"/>
<path d="M125.7 296.7h0M120.3 301.6h0M185.1 294.9h0M200.2 308.1h0M148.9 298.6h0M159.5 307.3h0M159.5 305.5h0M101.6 324.0h0M150.3 317.7h0M156.6 289.7h0M153.1 305.7h0M142.2 316.1h0M128.0 305.4h0M143.0 304.6h0M189.0 296.7h0M121.2 302.4h0M193.7 306.1h0M178.8 297.2h0M196.4 316.1h0M159.1 304.5h0M150.6 313.8h0M207.4 307.3h0M119.1 318.0h0M181.0 301.9h0M197.8 306.2h0M195.2 308.4h0M186.7 301.0h0M112.1 315.0h0M121.0 300.5h0M133.3 312.9h0M162.0 313.7h0M184.1 310.2h0M144.7 294.1h0M137.6 312.8h0M126.6 313.4h0M114.8 313.8h0M172.1 301.3h0M179.8 302.5h0M114.0 310.0h0M121.0 306.3h0M116.0 313.6h0M185.0 303.4h0M92.4 306.9h0M156.6 292.8h0M102.2 316.1h0M94.9 311.1h0M157.9 311.3h0" stroke="#e4cc22" stroke-width="2.5" stroke-linecap="round" fill="none"/>
<path d="M132.2 283.5h0M91.9 302.4h0M118.3 293.0h0M118.1 264.4h0M145.2 297.3h0M154.4 299.9h0M92.6 289.9h0M133.9 291.9h0M162.9 268.7h0M148.8 288.8h0M107.3 306.9h0M92.6 283.4h0M90.6 291.4h0M162.3 259.9h0M114.1 264.3h0M160.1 268.0h0M98.7 294.9h0M139.4 254.6h0M130.1 297.1h0M112.7 287.1h0M164.0 292.1h0M196.1 300.6h0M113.1 288.3h0M106.6 295.9h0M137.6 289.5h0M141.4 281.9h0M135.1 303.5h0M123.1 297.0h0M100.1 307.5h0M105.6 287.7h0M168.2 274.4h0M158.5 284.8h0M142.9 271.2h0M115.7 292.1h0M164.2 268.0h0M165.9 289.6h0M93.7 296.3h0M96.0 287.8h0M103.2 288.2h0M150.7 257.1h0M93.2 314.2h0M103.5 309.1h0M109.5 283.3h0M115.8 293.4h0M121.8 308.6h0M148.5 282.5h0M98.0 275.3h0M105.1 293.1h0M90.6 283.0h0M127.1 287.0h0M166.8 278.6h0M143.4 270.4h0M105.2 297.3h0M179.9 297.8h0M142.1 258.2h0M111.8 299.6h0M117.0 306.1h0M165.2 288.0h0M145.5 289.0h0M158.9 259.5h0M101.9 304.8h0M124.4 283.6h0M129.8 280.4h0M156.8 281.7h0M125.7 274.3h0M104.9 306.7h0M162.6 263.3h0M138.4 293.8h0M165.2 272.6h0M163.5 269.6h0M163.1 278.5h0M154.8 260.9h0M93.9 284.7h0M99.6 278.0h0M90.2 295.6h0M160.9 268.7h0M112.8 298.6h0M102.9 279.1h0M94.4 284.4h0M130.2 303.1h0M160.3 302.5h0M132.6 299.6h0M96.5 265.0h0M159.7 279.5h0M127.6 265.4h0M102.0 271.7h0M154.4 289.4h0M93.0 294.4h0M208.2 303.5h0M148.5 289.3h0M154.0 272.9h0M155.5 269.7h0M101.8 307.7h0M182.6 300.8h0M159.2 260.4h0M166.1 283.1h0M94.1 300.1h0M123.0 270.9h0M153.8 296.0h0M92.4 271.8h0M178.5 295.0h0M148.9 271.1h0M102.6 279.7h0M126.8 291.2h0M133.7 295.2h0M101.3 287.5h0M110.9 283.6h0M169.5 295.0h0M104.1 315.5h0M203.3 308.7h0" stroke="#ec902e" stroke-width="2.5" stroke-linecap="round" fill="none"/>
<path d="M138.0 243.4h0M160.1 244.1h0M134.9 251.1h0M144.7 238.6h0M110.6 258.6h0M152.0 246.9h0M114.2 256.6h0M119.9 246.3h0M126.8 238.6h0M145.8 245.2h0M145.7 238.1h0M136.1 254.3h0M144.7 239.8h0M134.2 248.6h0M131.2 241.3h0M162.8 251.8h0M133.5 242.1h0M149.8 242.7h0M125.4 241.9h0M125.2 238.4h0M129.6 234.8h0M154.6 245.6h0M118.9 246.2h0M135.1 242.4h0M121.4 241.6h0M134.5 235.6h0" stroke="#d9583a" stroke-width="2.5" stroke-linecap="round" fill="none"/>
<path d="M178.5 310.9h0M148.1 320.1h0M93.6 324.3h0M119.8 322.9h0M183.4 317.4h0M144.5 309.1h0M165.6 319.2h0M101.0 323.1h0M179.4 314.3h0M97.8 330.0h0M141.7 307.8h0M152.4 305.3h0M165.3 313.7h0M132.3 309.3h0M189.0 314.6h0M165.0 314.7h0M151.4 309.6h0M91.7 328.6h0M156.1 316.5h0M138.7 318.4h0M174.1 320.2h0M153.6 315.0h0M184.3 308.9h0M117.9 323.7h0M155.9 316.7h0M158.8 321.4h0M181.8 304.6h0M92.8 326.2h0M132.2 316.2h0M196.6 306.8h0M208.1 309.0h0M190.8 316.5h0M143.1 316.4h0M95.5 329.9h0M205.1 309.6h0M137.5 314.2h0M168.5 309.4h0M128.9 298.6h0M175.1 307.5h0M188.8 319.3h0M186.1 316.4h0M144.9 306.1h0M139.9 311.7h0M128.9 310.4h0M164.0 320.1h0M197.8 313.2h0M130.1 310.1h0" stroke="#e2e73c" stroke-width="2.5" stroke-linecap="round" fill="none"/>
<path d="M121.1 299.5h0M105.9 294.3h0M153.1 276.2h0M131.4 269.7h0M140.8 270.0h0M162.8 281.2h0M122.5 269.2h0M136.9 288.7h0M140.3 279.6h0M101.2 304.0h0M129.0 283.7h0M141.6 275.6h0M97.5 314.0h0M138.0 279.7h0M94.3 300.7h0M201.9 297.6h0M97.2 305.8h0M94.5 263.6h0M126.1 291.3h0M111.7 298.3h0M175.4 297.4h0M155.7 287.7h0M121.1 287.3h0M125.7 269.7h0M161.1 298.4h0M142.7 291.5h0M151.3 301.5h0M122.2 276.9h0M95.9 292.0h0M113.7 272.5h0M134.3 275.5h0M108.5 297.9h0M110.9 269.6h0M156.0 298.7h0M159.8 278.6h0M157.7 272.0h0M137.5 282.0h0M147.5 274.9h0M142.3 285.5h0M172.4 299.1h0M144.0 285.9h0M90.0 300.9h0M145.8 302.1h0M165.5 258.0h0M106.0 287.7h0M130.0 306.2h0M189.4 296.2h0M152.3 260.7h0M164.0 273.8h0M118.3 288.4h0M127.0 288.7h0M97.4 299.8h0M156.6 275.5h0M167.3 285.2h0M125.6 255.0h0M100.0 291.4h0M97.3 293.6h0M198.1 297.6h0M112.5 283.9h0M105.5 286.8h0M125.4 297.2h0M164.6 273.8h0M158.3 263.3h0M135.6 269.9h0M163.9 304.6h0M96.5 287.9h0M126.8 302.3h0M164.9 284.5h0M125.4 288.1h0M146.9 287.7h0M151.4 282.2h0M159.3 252.7h0M136.8 273.0h0M113.7 293.0h0M105.1 307.1h0M150.9 296.1h0M108.3 272.1h0M161.8 279.4h0M168.0 271.0h0M150.3 271.9h0M153.5 273.7h0M136.8 288.7h0M141.0 256.4h0M135.7 268.8h0M125.0 304.9h0M145.4 285.3h0M156.4 280.1h0M160.0 270.4h0M130.4 280.7h0M165.1 276.7h0M166.8 282.9h0M105.3 280.1h0M105.9 303.9h0M144.0 268.7h0M145.5 294.6h0M102.3 296.0h0M139.4 294.8h0M124.4 291.1h0M156.8 268.6h0M189.4 296.2h0M106.4 271.4h0M144.6 281.5h0M104.3 298.4h0M164.4 278.9h0M157.3 296.7h0M135.7 300.2h0M145.8 272.8h0M119.1 281.5h0M154.5 291.0h0M96.3 284.4h0M166.4 282.3h0M193.5 296.0h0M167.7 276.4h0M170.1 294.9h0M142.1 289.1h0M89.8 302.7h0M149.6 291.3h0M128.5 281.6h0M98.4 285.7h0M131.4 256.9h0M99.4 277.1h0M121.6 265.1h0M144.2 279.3h0M99.2 323.0h0M165.0 262.9h0M118.1 302.1h0M139.6 272.2h0M114.9 297.0h0M102.6 284.9h0M167.2 256.5h0M116.6 290.3h0M101.1 286.7h0M92.6 281.4h0M99.6 279.0h0M152.6 266.6h0M97.7 281.0h0M96.2 274.5h0M89.9 296.8h0M129.3 264.6h0M148.1 262.2h0M94.4 310.8h0M123.8 274.0h0M108.1 292.2h0M94.1 297.2h0M92.2 309.3h0M165.9 296.1h0M130.5 295.9h0M129.9 290.1h0" stroke="#f0a52a" stroke-width="2.5" stroke-linecap="round" fill="none"/>
<path d="M142.4 291.1h0M149.5 301.3h0M142.6 312.6h0M120.5 307.8h0M123.2 319.6h0M125.8 294.2h0M104.5 306.4h0M169.4 306.7h0M100.2 320.0h0M177.7 306.7h0M183.8 304.6h0M181.9 311.5h0M190.4 296.3h0M147.1 304.0h0M122.6 305.3h0M126.4 299.1h0M150.2 303.3h0M176.0 304.5h0M163.9 305.4h0M147.4 303.8h0M175.9 298.2h0M163.4 293.3h0M204.3 307.2h0M192.7 308.0h0M200.8 304.1h0M99.4 320.9h0M126.0 304.7h0M142.7 293.9h0M201.4 317.3h0M143.2 306.8h0M168.6 313.0h0M136.5 295.2h0M193.3 312.6h0M172.9 310.1h0M154.2 309.0h0M104.0 325.4h0M176.6 301.7h0M190.7 301.0h0M129.8 311.0h0" stroke="#d8df20" stroke-width="2.5" stroke-linecap="round" fill="none"/>
<path d="M120.3 274.1h0M129.5 259.9h0M152.5 237.8h0M96.7 265.5h0M135.0 248.3h0M121.9 251.1h0M142.0 265.2h0M143.4 262.4h0M165.0 254.8h0M93.9 265.3h0M111.8 266.4h0M115.8 261.4h0M92.7 272.7h0M119.1 261.1h0M149.0 243.4h0M124.5 258.3h0M107.9 260.4h0M111.8 258.6h0M127.2 255.9h0M160.5 269.9h0M129.5 249.3h0M116.8 266.1h0M132.5 256.5h0M161.6 265.8h0M126.5 254.1h0M112.3 260.6h0M101.8 266.0h0M122.7 261.3h0M163.6 261.9h0M105.6 271.0h0M162.8 247.1h0M122.7 250.0h0M122.3 260.1h0M159.7 254.3h0M99.3 270.4h0M161.8 254.7h0M157.6 252.6h0M123.5 261.6h0M128.0 254.3h0M133.7 252.6h0M163.7 255.9h0M119.3 261.6h0M128.4 239.6h0M160.6 254.7h0M116.1 253.0h0M133.6 266.9h0M117.0 271.2h0M151.0 248.7h0M120.8 264.4h0M165.7 256.6h0M143.9 252.5h0M125.1 254.4h0M118.1 267.4h0M101.3 275.9h0M130.0 267.9h0M162.2 253.2h0M110.2 260.4h0M132.2 244.7h0M111.3 264.3h0M97.1 276.3h0M155.5 258.6h0" stroke="#e06836" stroke-width="2.5" stroke-linecap="round" fill="none"/>
<path d="M141.1 240.3h0M121.5 246.5h0M157.4 247.4h0M142.2 243.4h0M126.4 247.1h0M128.7 240.0h0M141.9 242.3h0M122.9 254.8h0M156.2 247.9h0M143.3 236.8h0M133.8 244.3h0M123.6 253.3h0M144.4 234.0h0M141.9 247.5h0" stroke="#e26a3a" stroke-width="2.5" stroke-linecap="round" fill="none"/>
<path d="M100.9 330.8h0M170.8 316.0h0M105.4 318.2h0M190.7 312.9h0M130.6 309.1h0M175.8 315.7h0M134.3 309.4h0M190.8 309.6h0M119.4 318.4h0M191.0 311.9h0M169.7 311.5h0M93.3 329.8h0M99.9 329.0h0M196.5 315.3h0M176.3 302.3h0M160.4 304.4h0M148.1 315.9h0M108.9 321.3h0M99.1 325.6h0M137.6 316.3h0" stroke="#c6d21a" stroke-width="2.5" stroke-linecap="round" fill="none"/>
<path d="M116.8 267.5h0M95.8 264.7h0M126.8 256.0h0M101.9 265.8h0M96.7 268.4h0M148.4 241.1h0M110.1 267.8h0M156.7 257.1h0M114.4 269.5h0M114.1 259.3h0M133.1 247.3h0M103.5 261.5h0M120.5 263.6h0M133.9 255.6h0M118.7 248.0h0M112.4 250.5h0M159.8 245.8h0M165.8 263.7h0M104.4 262.0h0M141.4 244.6h0M112.4 250.0h0M151.5 251.1h0M136.0 258.2h0M109.1 260.0h0M154.8 261.4h0M157.9 251.5h0M111.8 269.4h0M137.8 248.6h0M145.1 238.5h0M159.1 252.8h0M120.7 264.0h0M134.7 248.0h0M112.7 263.4h0M120.2 266.5h0M139.3 254.3h0M169.5 259.7h0M148.4 243.5h0M158.0 264.1h0M162.5 253.1h0M117.5 262.4h0M134.3 252.1h0M140.1 247.6h0M148.2 252.1h0M123.1 270.8h0M139.2 244.8h0M121.0 251.9h0M159.0 253.4h0M149.2 258.6h0M136.7 251.8h0" stroke="#e8802f" stroke-width="2.5" stroke-linecap="round" fill="none"/>
<path d="M95.9 300.6h0M127.1 288.4h0M147.2 295.8h0M146.1 256.8h0M165.1 269.1h0M94.6 295.5h0M193.8 297.6h0M169.3 262.7h0M140.9 269.6h0M156.1 265.8h0M132.7 290.8h0M199.3 296.2h0M155.4 265.9h0M117.8 276.9h0M138.8 292.3h0M122.6 271.5h0M162.7 272.9h0M158.3 261.6h0M146.9 260.8h0M130.1 259.6h0M134.0 301.1h0M163.7 289.3h0M131.2 276.2h0M138.0 276.1h0M99.9 264.6h0M153.8 273.0h0M149.0 291.8h0M146.4 289.4h0M97.3 302.8h0M159.3 273.9h0M122.7 277.6h0M97.7 291.4h0M186.6 298.8h0M101.8 281.7h0M93.4 296.3h0M103.2 281.7h0M90.3 284.5h0M157.4 293.3h0M135.3 303.7h0M160.4 279.7h0M94.7 305.1h0M89.1 290.8h0M98.3 295.2h0M101.8 289.6h0" stroke="#f3b82c" stroke-width="2.5" stroke-linecap="round" fill="none"/>
<path d="M119.6 306.8h0M184.4 320.5h0M120.0 316.9h0M147.2 313.5h0M147.0 316.1h0M98.3 318.3h0M151.1 312.1h0M200.3 307.1h0M141.2 318.9h0M135.2 313.8h0M145.1 318.5h0M102.3 319.7h0M125.6 318.1h0M156.7 314.8h0M159.3 321.6h0M177.6 320.5h0M104.5 319.1h0M101.5 326.5h0M173.5 313.2h0M94.5 324.0h0M114.4 321.0h0M183.9 311.8h0M123.9 316.1h0M195.7 315.9h0M168.7 324.1h0M176.1 308.5h0M188.9 310.2h0M201.5 314.3h0M198.9 304.8h0M145.3 315.2h0M161.6 313.4h0M189.4 313.5h0M189.6 313.9h0M186.1 313.7h0M146.8 316.6h0M168.6 315.4h0M123.5 315.7h0M153.3 310.7h0M130.1 306.8h0M97.4 328.2h0M161.4 321.2h0M181.1 307.5h0M157.2 322.7h0M180.2 304.3h0M187.8 306.4h0M157.7 321.1h0M140.5 313.0h0M164.9 317.4h0M171.7 301.8h0M136.7 313.8h0M142.1 319.2h0M175.9 313.4h0M193.8 315.1h0M168.0 320.6h0M121.3 323.9h0M193.2 316.8h0M190.2 305.6h0M185.8 320.4h0M185.1 306.4h0M200.2 310.9h0M176.9 325.0h0M195.9 302.7h0M168.8 322.2h0M139.6 310.9h0M113.4 306.5h0M115.1 315.8h0M112.0 308.4h0M163.9 304.3h0" stroke="#d8e01e" stroke-width="2.5" stroke-linecap="round" fill="none"/>
<path d="M137.6 241.5h0M144.9 239.5h0M164.9 251.6h0M130.6 232.9h0M121.8 241.1h0M154.9 243.9h0M138.0 232.1h0" stroke="#c0405a" stroke-width="2.5" stroke-linecap="round" fill="none"/>
<path d="M167.4 254.4h0M114.0 267.5h0M123.6 275.8h0M114.3 251.9h0M136.9 253.0h0M161.8 270.2h0M101.9 259.3h0M122.1 254.5h0M144.0 245.3h0M98.3 261.3h0M99.9 280.1h0M134.9 263.2h0M133.9 255.6h0M150.5 252.9h0M164.1 248.1h0M134.8 255.4h0M99.0 272.4h0M125.0 258.8h0M110.0 271.3h0M144.1 261.3h0M137.3 244.9h0M154.1 268.3h0M122.5 267.4h0M126.4 250.5h0" stroke="#d4553c" stroke-width="2.5" stroke-linecap="round" fill="none"/>
<path d="M147.4 311.8h0M132.7 317.6h0M155.2 318.2h0M122.3 309.8h0M130.0 320.0h0M151.7 316.9h0M145.7 320.1h0M202.3 310.8h0M125.8 305.1h0M130.8 319.1h0M159.2 310.5h0" stroke="#ecc82c" stroke-width="2.5" stroke-linecap="round" fill="none"/>
<path d="M159.9 244.9h0M155.7 249.8h0M106.8 264.4h0M112.2 268.0h0M127.7 256.0h0M157.8 251.1h0M159.1 248.2h0M155.6 249.1h0M125.2 251.4h0M128.5 254.0h0M142.7 251.1h0M115.4 264.1h0M116.2 263.4h0M113.8 281.3h0M141.9 257.4h0M149.3 253.3h0M135.0 264.2h0M97.5 260.8h0" stroke="#ee9a2c" stroke-width="2.5" stroke-linecap="round" fill="none"/>
<path d="M145.0 240.6h0M140.4 234.0h0M142.5 241.9h0" stroke="#e07840" stroke-width="2.5" stroke-linecap="round" fill="none"/>
<path d="M153.5 307.4h0M112.9 316.4h0M151.4 312.1h0M107.3 316.5h0M166.5 308.2h0M172.6 305.8h0M141.2 316.2h0M167.8 316.9h0M164.9 294.9h0M108.1 326.9h0M204.6 315.9h0M133.3 300.1h0M112.4 309.7h0M93.8 327.2h0M157.1 302.4h0M140.3 302.1h0M133.3 306.2h0M182.7 296.6h0M150.3 308.0h0M158.6 296.9h0M156.7 297.9h0M127.8 300.9h0M149.1 302.6h0M101.2 324.1h0" stroke="#ec9a2c" stroke-width="2.5" stroke-linecap="round" fill="none"/>
<path d="M163.1 282.0h0M141.3 271.8h0M111.6 282.9h0M124.9 290.6h0M152.5 281.1h0M153.0 281.6h0M153.3 286.6h0M123.0 290.4h0M115.0 290.0h0M95.5 301.7h0M206.8 298.8h0M152.8 285.0h0M140.3 269.6h0M148.8 266.4h0M130.8 284.9h0M143.8 266.4h0M122.4 290.1h0M124.4 276.7h0M96.8 280.4h0M156.4 268.9h0M134.1 277.3h0M153.2 268.7h0M112.8 296.3h0M93.7 304.8h0M130.1 314.9h0M138.8 282.3h0M134.9 280.5h0M153.9 291.8h0M92.5 304.1h0M139.1 286.8h0M145.5 265.9h0M124.6 304.2h0M161.5 282.1h0M143.3 283.7h0M122.5 291.1h0M98.7 298.1h0M154.7 263.1h0M125.4 289.0h0M143.2 283.6h0M142.4 273.7h0M130.2 272.6h0M105.4 310.1h0M94.3 305.5h0M118.9 277.0h0M110.3 272.6h0M137.7 289.4h0M106.0 303.9h0M143.7 279.7h0M131.3 282.9h0M90.3 279.2h0M184.6 294.0h0M166.4 273.2h0M103.1 292.0h0M121.5 278.7h0M108.0 306.0h0M128.2 267.1h0M142.3 294.1h0M176.4 298.3h0M112.5 265.8h0M138.2 282.6h0M128.3 296.5h0M108.7 283.2h0M101.9 286.4h0M122.8 293.4h0M145.6 281.6h0M107.0 294.9h0M176.9 293.5h0" stroke="#e47a32" stroke-width="2.5" stroke-linecap="round" fill="none"/>
<path d="M89.9 314.8h0M173.0 306.4h0M138.7 305.5h0M200.9 308.2h0M183.8 314.7h0M179.6 299.9h0M164.5 299.7h0M145.3 304.4h0M162.5 310.6h0M107.5 321.5h0M175.4 311.1h0M201.7 296.8h0M208.4 309.9h0M194.8 300.1h0M114.2 317.4h0M192.5 299.1h0M92.8 326.9h0M142.3 301.6h0M146.3 293.3h0M193.3 301.0h0M190.9 300.8h0M193.2 311.8h0M124.7 310.2h0M113.9 313.4h0M115.0 311.1h0M197.1 299.6h0M151.6 307.7h0M208.1 303.9h0M133.0 310.8h0M139.9 302.4h0M117.2 300.3h0M190.8 316.2h0M116.4 305.3h0M137.0 314.1h0M177.8 295.2h0M148.3 302.8h0M114.5 308.5h0M136.8 303.7h0M106.3 317.4h0M98.7 308.5h0M112.0 306.6h0M160.3 304.4h0M126.2 306.2h0M143.2 309.1h0M95.0 311.0h0M111.7 320.2h0" stroke="#f0aa28" stroke-width="2.5" stroke-linecap="round" fill="none"/>
<path d="M136.6 295.8h0M90.8 318.5h0M95.4 320.6h0M156.7 306.8h0M130.7 307.2h0M185.4 303.6h0M146.0 303.2h0M91.7 322.2h0M107.4 327.6h0M206.6 304.1h0M149.3 305.3h0M99.0 309.8h0M172.6 302.9h0M130.9 294.8h0M163.1 315.3h0M111.3 311.8h0M116.8 314.4h0M119.4 312.1h0M108.3 326.3h0M152.0 301.6h0M193.2 295.4h0M159.3 306.5h0M156.4 296.2h0M174.1 317.5h0M105.5 318.0h0M127.8 311.6h0M108.9 321.3h0M116.2 301.2h0M109.2 325.2h0M113.9 307.0h0M129.5 294.1h0M174.3 291.4h0M186.1 302.4h0M132.4 305.7h0M193.0 308.1h0M93.8 317.1h0M106.8 320.2h0M129.7 293.0h0M197.3 306.8h0M105.5 319.2h0M154.6 308.3h0M108.6 317.5h0M173.7 300.1h0M112.5 317.0h0M151.8 304.0h0M185.8 294.2h0M195.5 301.1h0" stroke="#e4cc22" stroke-width="2.5" stroke-linecap="round" fill="none"/>
<path d="M118.9 280.6h0M106.6 317.1h0M117.6 287.4h0M128.1 277.0h0M123.9 290.1h0M143.5 266.2h0M155.1 284.6h0M95.4 306.9h0M155.4 288.9h0M102.8 279.1h0M115.4 296.4h0M118.8 301.8h0M175.5 290.5h0M192.1 306.2h0M128.8 273.8h0M129.1 268.6h0M154.3 280.5h0M165.4 292.9h0M107.2 272.3h0M150.2 278.5h0M131.8 258.2h0M130.5 296.3h0M189.1 296.5h0M91.1 295.2h0M179.7 296.9h0M104.6 286.8h0M166.7 277.1h0M107.2 280.1h0M149.6 281.5h0M104.7 267.9h0M171.1 293.5h0M93.5 293.4h0M171.0 297.5h0M107.0 281.8h0M105.4 273.6h0M133.7 276.8h0M105.8 279.4h0M153.7 278.0h0M147.7 286.2h0M137.4 299.6h0M136.1 277.5h0M120.6 270.6h0M159.1 288.6h0M145.0 296.9h0M116.9 287.0h0M151.8 276.4h0M97.8 275.5h0M101.7 264.9h0M110.5 301.4h0M134.8 288.6h0M139.5 270.4h0M159.7 275.3h0M116.6 298.1h0M99.7 288.6h0M152.8 267.1h0M129.7 282.1h0M153.3 278.3h0M91.3 296.5h0M161.0 270.9h0M139.5 260.9h0M101.5 280.7h0M141.7 262.6h0M149.8 265.2h0M140.6 272.8h0M171.8 266.4h0M128.4 287.8h0M145.5 268.0h0M178.3 296.1h0M101.1 289.5h0M134.4 295.1h0M164.7 278.7h0M143.7 272.2h0M134.4 275.7h0M124.9 278.2h0M129.6 282.2h0M133.4 280.0h0M153.9 269.6h0M103.9 288.9h0M164.6 282.8h0M148.1 290.6h0M108.0 295.9h0M155.2 296.9h0M179.5 295.7h0M104.2 310.9h0M117.5 288.9h0M150.4 279.9h0M117.5 284.4h0M157.6 275.7h0M132.5 282.3h0M119.5 290.8h0M103.3 297.3h0M103.6 294.6h0M154.6 278.8h0M95.8 277.5h0M110.4 286.1h0M105.7 285.2h0M123.6 276.5h0M98.4 309.0h0M91.4 317.2h0M145.4 276.9h0M97.6 291.1h0M131.9 274.3h0M133.6 303.3h0M88.5 279.4h0M149.0 292.3h0M120.4 268.2h0M153.9 269.7h0M123.4 290.3h0M105.3 294.6h0M131.8 276.5h0" stroke="#ec902e" stroke-width="2.5" stroke-linecap="round" fill="none"/>
<path d="M150.8 248.5h0M151.9 241.9h0M142.1 239.7h0M116.1 263.4h0M136.9 237.8h0M115.1 255.7h0M138.8 238.1h0M136.1 238.9h0M139.5 236.8h0M111.4 255.6h0M151.4 244.8h0M121.7 246.3h0M139.5 230.9h0M153.2 244.2h0M118.4 247.4h0M132.2 243.0h0M132.2 247.9h0M146.8 250.7h0M130.3 238.9h0M137.2 242.8h0M148.9 241.8h0M140.8 240.0h0M132.6 237.2h0M109.7 252.5h0M132.3 232.8h0M118.5 253.2h0" stroke="#d9583a" stroke-width="2.5" stroke-linecap="round" fill="none"/>
<path d="M104.9 326.8h0M115.2 318.4h0M180.2 302.5h0M201.2 313.4h0M136.2 318.1h0M162.5 310.6h0M210.1 306.7h0M93.4 325.5h0M187.2 309.7h0M190.6 307.7h0M196.3 312.7h0M122.6 320.1h0M154.5 319.1h0M116.9 325.8h0M190.0 319.0h0M99.9 331.8h0M146.5 317.4h0M172.3 317.8h0M157.9 301.7h0M199.6 315.1h0M170.3 317.2h0M101.1 325.1h0M186.6 315.5h0M202.2 315.5h0M118.7 312.5h0M98.6 325.0h0M161.2 305.8h0M89.7 319.8h0M193.4 311.4h0M134.0 314.6h0M168.6 310.2h0M205.5 312.3h0M168.5 316.2h0M203.9 314.2h0M96.0 332.1h0M137.1 302.0h0M156.9 307.8h0M131.4 319.1h0M177.7 323.7h0M102.0 328.8h0M127.7 317.4h0M185.0 303.9h0M175.2 312.7h0M114.8 326.9h0M105.4 319.1h0M128.9 317.7h0M208.2 309.5h0" stroke="#e2e73c" stroke-width="2.5" stroke-linecap="round" fill="none"/>
<path d="M117.2 280.8h0M157.7 269.2h0M141.7 295.6h0M160.4 287.3h0M100.2 289.4h0M142.1 277.8h0M106.2 286.7h0M105.1 304.5h0M154.7 290.5h0M101.2 272.5h0M90.2 283.3h0M143.2 298.0h0M93.1 287.1h0M92.1 302.8h0M89.1 290.5h0M122.4 300.4h0M100.2 288.7h0M168.5 296.4h0M156.8 288.5h0M159.4 263.9h0M155.6 282.7h0M113.8 285.1h0M151.2 284.5h0M139.1 290.0h0M128.7 300.6h0M93.3 290.1h0M96.7 271.0h0M92.4 310.2h0M113.2 282.3h0M99.5 302.0h0M120.9 295.7h0M167.9 300.1h0M171.9 285.6h0M102.7 285.3h0M117.8 271.6h0M138.2 302.3h0M157.3 268.2h0M151.4 282.4h0M149.6 291.3h0M107.3 268.4h0M109.0 306.0h0M100.5 306.5h0M166.3 264.4h0M93.1 304.6h0M124.1 308.1h0M150.5 275.2h0M100.2 295.8h0M158.0 259.7h0M114.4 294.3h0M105.0 284.0h0M129.7 291.3h0M143.6 272.3h0M163.6 272.9h0M155.7 270.1h0M100.6 310.8h0M147.5 264.6h0M131.5 288.8h0M168.9 292.6h0M209.1 308.2h0M181.3 291.2h0M99.3 308.2h0M153.6 271.9h0M121.4 303.6h0M154.4 264.8h0M179.7 295.9h0M103.5 306.4h0M128.3 288.5h0M193.4 305.6h0M138.9 271.9h0M152.3 283.3h0M201.9 308.4h0M129.7 279.9h0M105.6 299.1h0M163.6 270.4h0M104.7 289.1h0M159.8 290.0h0M154.7 261.8h0M99.0 308.0h0M151.0 298.0h0M156.9 284.9h0M108.6 300.4h0M167.2 282.8h0M134.5 271.1h0M142.9 279.1h0M169.7 297.4h0M149.4 275.2h0M152.3 260.4h0M93.1 307.1h0M142.6 277.3h0M180.1 292.5h0M118.1 292.1h0M125.8 281.6h0M149.5 266.6h0M161.0 260.7h0M103.2 296.9h0M161.9 291.6h0M157.5 266.3h0M133.1 272.0h0M118.4 295.0h0M145.6 294.8h0M161.1 269.3h0M95.5 303.9h0M170.4 280.8h0M153.9 291.8h0M118.8 282.5h0M175.6 296.1h0M92.6 295.0h0M135.8 271.4h0M133.9 290.8h0M117.5 310.8h0M99.1 270.1h0M142.9 297.7h0M99.2 293.4h0M110.9 286.3h0M153.0 266.6h0M159.7 272.8h0M100.6 282.8h0M125.4 282.3h0M170.3 271.8h0M163.4 292.4h0M154.6 297.3h0M112.1 283.4h0M166.9 267.9h0M99.2 300.4h0M156.2 287.4h0M118.5 286.9h0M137.0 304.9h0M163.0 284.9h0M159.2 281.9h0M96.0 282.8h0M117.7 275.2h0M163.7 287.0h0M104.0 311.3h0M138.8 288.7h0M162.9 278.0h0M162.3 290.3h0M104.8 307.2h0M91.3 286.6h0M173.4 293.6h0M147.7 264.3h0M156.7 300.1h0M154.4 277.6h0M130.5 283.1h0M162.5 292.9h0M92.1 276.9h0M104.6 303.1h0M159.0 290.5h0M178.5 297.8h0" stroke="#f0a52a" stroke-width="2.5" stroke-linecap="round" fill="none"/>
<path d="M131.3 299.8h0M123.3 296.1h0M164.4 310.9h0M166.2 291.0h0M195.4 302.0h0M125.3 288.3h0M142.3 307.4h0M184.3 307.6h0M101.8 318.4h0M167.2 295.7h0M203.1 309.0h0M142.0 315.7h0M125.5 303.6h0M90.8 319.1h0M135.1 320.0h0M199.1 301.8h0M147.1 306.3h0M95.0 317.7h0M124.6 307.2h0M164.3 288.2h0M93.5 305.3h0M169.7 299.8h0M102.2 315.1h0M132.4 303.2h0M167.0 309.6h0M184.5 318.8h0M98.1 314.4h0M204.1 302.2h0M105.4 309.5h0M193.5 301.0h0M177.2 308.4h0M144.3 300.7h0M117.9 306.9h0M136.6 313.4h0M142.2 304.5h0M139.1 316.6h0M154.6 302.7h0M183.6 307.7h0M97.2 319.5h0" stroke="#d8df20" stroke-width="2.5" stroke-linecap="round" fill="none"/>
<path d="M158.1 260.8h0M151.4 258.6h0M148.0 253.1h0M131.7 248.6h0M121.4 257.6h0M114.5 273.3h0M92.8 270.4h0M100.1 265.9h0M132.5 248.9h0M137.4 272.6h0M117.7 260.0h0M160.2 255.2h0M117.1 270.8h0M142.1 252.2h0M118.1 258.0h0M118.7 251.4h0M169.5 257.2h0M145.2 249.9h0M158.9 262.7h0M133.6 256.7h0M151.2 256.6h0M166.3 252.7h0M138.4 251.7h0M166.6 251.3h0M151.1 253.1h0M125.5 252.7h0M156.1 260.4h0M159.4 252.6h0M112.3 261.7h0M109.3 257.4h0M119.0 266.8h0M132.4 259.2h0M158.0 252.5h0M160.7 253.1h0M159.6 258.4h0M130.2 251.4h0M168.6 254.0h0M146.3 261.3h0M99.4 272.1h0M103.7 262.8h0M121.2 264.4h0M93.8 266.3h0M152.0 250.9h0M122.6 272.0h0M154.2 262.3h0M153.9 241.9h0M145.4 252.4h0M105.3 259.7h0M97.0 269.3h0M121.9 268.3h0M156.9 242.4h0M130.7 255.8h0M168.7 254.6h0M165.8 263.3h0M119.1 278.5h0M140.1 243.9h0M148.1 257.7h0M102.8 263.6h0M154.8 253.0h0M116.9 254.5h0M130.5 256.5h0" stroke="#e06836" stroke-width="2.5" stroke-linecap="round" fill="none"/>
<path d="M142.7 237.0h0M119.2 242.7h0M116.3 249.8h0M149.1 262.3h0M122.7 251.3h0M139.4 230.2h0M132.4 236.0h0M110.9 255.3h0M142.0 234.9h0M120.8 242.2h0M116.5 245.8h0M137.9 242.5h0M126.7 251.1h0M133.9 233.1h0" stroke="#e26a3a" stroke-width="2.5" stroke-linecap="round" fill="none"/>
<path d="M164.0 311.6h0M111.7 323.2h0M191.1 312.2h0M160.1 319.4h0M138.4 317.3h0M207.1 311.2h0M188.5 315.1h0M210.4 306.4h0M122.2 301.8h0M132.0 316.0h0M154.4 317.3h0M158.9 305.7h0M158.1 317.3h0M170.1 320.9h0M101.3 326.8h0M176.3 317.0h0M156.5 308.8h0M98.4 322.0h0M188.8 320.9h0M177.1 314.3h0" stroke="#c6d21a" stroke-width="2.5" stroke-linecap="round" fill="none"/>
<path d="M125.4 257.9h0M145.9 258.2h0M151.7 240.4h0M106.7 255.5h0M139.3 247.1h0M102.4 259.7h0M116.5 257.3h0M150.1 260.5h0M120.5 256.5h0M140.1 247.0h0M109.3 266.4h0M130.9 248.8h0M142.1 240.2h0M128.6 235.8h0M125.9 240.1h0M113.9 274.4h0M147.8 251.9h0M159.1 254.1h0M138.2 268.0h0M113.8 279.2h0M111.2 272.5h0M136.1 248.2h0M124.1 250.0h0M102.0 264.5h0M110.0 260.0h0M160.3 270.5h0M157.0 245.8h0M144.8 248.9h0M103.1 269.1h0M103.2 270.7h0M143.8 268.2h0M162.9 261.5h0M139.2 257.1h0M146.4 249.3h0M130.7 259.0h0M155.1 256.2h0M125.8 248.4h0M135.3 262.2h0M134.5 266.3h0M135.8 255.5h0M144.3 246.2h0M119.6 252.3h0M154.3 262.2h0M132.6 266.4h0M134.7 238.2h0M134.7 266.2h0M150.0 249.6h0M157.9 248.7h0M147.6 256.0h0" stroke="#e8802f" stroke-width="2.5" stroke-linecap="round" fill="none"/>
<path d="M101.1 296.7h0M133.8 283.2h0M165.3 298.3h0M168.0 297.8h0M139.8 271.5h0M127.0 271.0h0M100.1 297.2h0M128.7 292.6h0M161.2 276.2h0M131.2 262.8h0M125.2 270.3h0M97.0 280.4h0M139.4 282.9h0M169.0 270.1h0M102.0 300.4h0M199.0 303.4h0M131.1 258.4h0M158.9 298.8h0M114.4 275.6h0M138.3 265.4h0M98.5 289.5h0M165.2 265.2h0M167.7 282.2h0M92.7 308.1h0M102.2 286.7h0M122.9 266.4h0M107.2 276.8h0M115.0 281.4h0M96.5 292.5h0M141.5 286.3h0M99.6 307.0h0M100.9 269.0h0M121.1 287.0h0M95.5 289.9h0M164.2 257.8h0M131.1 263.7h0M90.2 290.7h0M91.7 302.2h0M147.9 271.7h0M157.1 268.8h0M102.3 274.0h0M94.6 293.3h0M119.2 284.1h0M156.3 295.9h0" stroke="#f3b82c" stroke-width="2.5" stroke-linecap="round" fill="none"/>
<path d="M122.4 321.7h0M110.3 329.9h0M188.4 314.6h0M202.1 303.1h0M167.4 315.0h0M179.6 319.3h0M114.6 319.0h0M154.8 314.3h0M158.4 304.4h0M113.4 310.5h0M148.3 308.8h0M171.9 321.0h0M195.0 296.3h0M133.7 309.1h0M126.6 310.6h0M167.1 319.6h0M115.2 318.8h0M182.7 319.2h0M160.2 322.6h0M174.9 319.6h0M176.0 311.0h0M157.5 299.0h0M131.3 305.4h0M171.6 321.5h0M164.9 322.6h0M174.7 323.1h0M184.4 311.4h0M174.6 312.3h0M127.8 313.8h0M177.5 319.4h0M191.8 321.9h0M211.7 315.0h0M201.1 309.4h0M146.9 319.6h0M115.9 319.2h0M153.1 320.6h0M180.2 314.8h0M127.4 317.6h0M193.5 306.7h0M138.2 319.6h0M150.1 314.4h0M181.8 314.7h0M124.1 309.0h0M152.6 308.0h0M144.0 321.1h0M136.6 318.4h0M150.8 308.7h0M145.4 315.5h0M204.8 310.3h0M130.8 319.6h0M189.2 316.8h0M102.6 323.0h0M162.6 316.4h0M159.3 317.4h0M210.7 306.9h0M133.1 313.8h0M117.6 315.7h0M205.4 310.5h0M125.8 307.9h0M133.0 317.3h0M168.0 313.7h0M137.6 322.2h0M154.4 320.0h0M172.8 308.6h0M148.4 313.8h0M158.8 320.8h0M128.3 320.2h0M160.9 313.6h0" stroke="#d8e01e" stroke-width="2.5" stroke-linecap="round" fill="none"/>
<path d="M132.9 244.2h0M116.8 251.6h0M150.8 239.6h0M116.6 247.9h0M128.0 240.2h0M162.4 245.7h0M160.9 243.2h0" stroke="#c0405a" stroke-width="2.5" stroke-linecap="round" fill="none"/>
<path d="M119.9 251.4h0M158.1 254.2h0M160.9 265.6h0M133.1 243.3h0M169.5 252.3h0M163.6 247.8h0M136.5 266.9h0M104.9 264.9h0M109.0 276.4h0M114.1 256.2h0M94.9 266.0h0M106.3 254.5h0M132.6 257.1h0M140.2 246.1h0M151.7 253.2h0M118.8 269.2h0M112.9 263.8h0M98.3 262.1h0M96.7 268.4h0M146.2 267.4h0M135.2 262.6h0M162.6 260.2h0M119.2 248.4h0M115.4 248.0h0" stroke="#d4553c" stroke-width="2.5" stroke-linecap="round" fill="none"/>
<path d="M155.8 321.2h0M181.3 309.5h0M186.9 304.4h0M179.1 319.3h0M96.3 330.8h0M159.9 313.9h0M163.7 322.6h0M166.7 309.6h0M181.2 323.7h0M133.8 316.9h0" stroke="#ecc82c" stroke-width="2.5" stroke-linecap="round" fill="none"/>
<path d="M109.9 268.3h0M157.5 247.6h0M167.3 259.0h0M118.7 253.5h0M118.7 272.9h0M122.3 249.5h0M133.3 256.6h0M156.0 262.5h0M112.6 253.2h0M100.6 265.2h0M124.1 264.5h0M111.6 257.6h0M120.1 259.5h0M149.1 246.5h0M110.6 261.9h0M126.5 256.9h0M99.4 262.1h0M104.3 262.6h0" stroke="#ee9a2c" stroke-width="2.5" stroke-linecap="round" fill="none"/>
<path d="M121.2 249.6h0M155.9 237.8h0" stroke="#e07840" stroke-width="2.5" stroke-linecap="round" fill="none"/>
<path d="M186.5 307.0h0M151.0 295.1h0M164.9 299.8h0M100.3 310.3h0M188.4 311.9h0M143.3 314.6h0M133.4 311.4h0M209.0 309.7h0M164.0 312.5h0M204.0 309.3h0M135.7 311.3h0M117.1 322.1h0M123.7 301.0h0M137.8 311.4h0M165.8 297.5h0M128.6 304.7h0M113.8 308.6h0M105.8 314.8h0M152.2 304.0h0M196.3 299.4h0M105.9 321.1h0M141.4 317.0h0M124.0 321.7h0M131.4 299.0h0" stroke="#ec9a2c" stroke-width="2.5" stroke-linecap="round" fill="none"/>
<path d="M147.6 264.4h0M121.7 274.1h0M141.4 272.2h0M100.0 273.0h0M163.6 268.6h0M93.3 297.5h0M160.1 272.9h0M136.7 269.2h0M101.8 299.2h0M104.4 302.5h0M95.2 316.0h0M162.8 262.7h0M113.2 299.1h0M148.8 294.9h0M103.4 272.9h0M105.7 304.2h0M147.1 296.2h0M119.5 281.1h0M91.1 273.2h0M112.8 293.4h0M111.5 297.4h0M108.2 308.9h0M154.1 299.3h0M106.3 303.9h0M125.3 291.4h0M124.8 291.1h0M136.0 292.6h0M101.0 291.6h0M117.8 298.7h0M106.3 300.6h0M147.7 282.4h0M123.5 294.8h0M141.8 292.1h0M108.1 272.1h0M167.9 275.6h0M120.6 273.6h0M119.1 288.2h0M162.8 277.9h0M146.2 272.9h0M168.5 266.7h0M166.9 266.5h0M138.9 293.1h0M143.6 264.1h0M147.8 271.3h0M146.1 265.0h0M114.4 296.2h0M148.9 275.3h0M154.0 267.0h0M97.9 298.4h0M135.9 277.9h0M197.3 301.9h0M104.0 285.5h0M163.5 291.0h0M123.1 271.8h0M108.1 291.8h0M93.7 299.8h0M90.7 300.3h0M94.2 301.9h0M150.9 282.7h0M100.9 297.7h0M145.2 276.6h0M102.6 299.4h0M141.8 290.8h0M123.0 284.9h0M159.1 282.2h0M151.3 276.7h0M151.3 282.1h0" stroke="#e47a32" stroke-width="2.5" stroke-linecap="round" fill="none"/>
<path d="M174.1 306.3h0M141.6 311.6h0M130.0 295.9h0M124.2 293.6h0M154.7 303.5h0M110.6 315.2h0M99.6 311.2h0M145.3 305.4h0M198.4 303.7h0M132.7 300.3h0M124.2 314.9h0M94.5 306.6h0M197.7 300.0h0M182.2 296.2h0M123.1 319.8h0M122.6 322.7h0M196.4 302.5h0M180.0 297.6h0M185.9 299.9h0M155.1 297.5h0M132.7 308.2h0M188.8 299.2h0M158.7 310.9h0M108.8 319.2h0M172.7 301.6h0M188.7 296.5h0M138.2 300.7h0M112.1 291.9h0M120.9 319.8h0M131.2 312.0h0M146.2 303.9h0M203.3 313.6h0M152.2 312.2h0M109.9 321.2h0M125.2 303.2h0M167.0 300.4h0M197.6 306.2h0M182.2 306.5h0M148.1 308.7h0M160.3 296.6h0M148.3 319.0h0M179.7 308.2h0M197.0 309.6h0M148.1 314.8h0M145.3 307.4h0M103.1 318.1h0" stroke="#f0aa28" stroke-width="2.5" stroke-linecap="round" fill="none"/>
<path d="M93.4 328.7h0M115.7 309.2h0M130.9 313.4h0M184.0 307.2h0M116.2 316.1h0M174.5 310.8h0M202.0 314.0h0M191.2 308.0h0M131.4 304.1h0M112.8 305.0h0M195.9 297.9h0M203.4 308.9h0M104.7 312.5h0M199.4 299.1h0M129.8 306.4h0M148.1 299.3h0M199.8 316.2h0M175.0 293.1h0M158.2 311.0h0M103.4 317.7h0M155.4 298.6h0M178.3 299.4h0M207.2 303.9h0M147.6 313.4h0M146.8 292.0h0M177.5 306.1h0M151.5 303.1h0M96.5 322.8h0M206.2 309.9h0M209.3 309.3h0M169.7 304.2h0M202.3 307.6h0M127.8 290.6h0M161.0 310.9h0M149.6 302.3h0M129.6 308.4h0M133.9 308.1h0M144.1 297.4h0M184.1 300.8h0M131.2 296.2h0M138.3 318.2h0M151.6 307.8h0M102.6 316.3h0M125.9 306.0h0M122.6 297.5h0M178.5 315.0h0M120.5 309.0h0" stroke="#e4cc22" stroke-width="2.5" stroke-linecap="round" fill="none"/>
<path d="M130.9 258.2h0M148.8 279.0h0M181.1 292.0h0M147.2 277.1h0M174.8 301.1h0M160.4 291.1h0M162.7 270.3h0M134.8 259.8h0M146.8 286.7h0M165.7 252.8h0M135.4 293.5h0M97.8 285.4h0M118.4 290.9h0M144.1 274.1h0M90.2 292.2h0M90.7 284.7h0M126.1 299.5h0M133.3 292.9h0M147.9 277.0h0M127.1 291.7h0M100.3 283.8h0M102.5 298.6h0M108.5 281.0h0M128.8 264.2h0M92.1 294.6h0M116.0 284.6h0M162.5 289.0h0M123.9 291.6h0M93.7 292.0h0M203.1 307.9h0M107.6 304.7h0M120.4 288.4h0M129.8 277.2h0M119.9 295.3h0M131.0 273.9h0M152.6 271.9h0M135.5 275.1h0M107.8 275.7h0M184.3 297.8h0M97.3 282.3h0M136.6 293.8h0M166.4 283.4h0M170.3 276.8h0M99.9 266.4h0M94.3 305.5h0M150.4 268.6h0M124.8 288.0h0M175.8 304.9h0M161.1 267.2h0M164.5 297.7h0M151.9 276.0h0M108.6 296.5h0M117.8 269.6h0M91.3 311.6h0M123.5 303.4h0M89.8 280.9h0M102.2 294.2h0M100.1 293.9h0M141.5 271.1h0M144.9 276.1h0M93.6 275.5h0M103.5 287.4h0M127.4 293.6h0M131.5 256.2h0M87.6 303.8h0M164.9 278.6h0M152.9 271.8h0M165.4 272.0h0M184.0 297.2h0M162.1 264.3h0M95.1 285.1h0M105.4 270.4h0M169.1 296.9h0M140.0 298.5h0M134.5 297.3h0M98.6 284.7h0M132.5 274.6h0M140.2 285.9h0M165.4 297.6h0M132.0 268.8h0M107.8 292.8h0M151.1 267.7h0M140.6 289.2h0M141.9 288.0h0M103.7 301.4h0M143.9 291.8h0M106.9 312.0h0M89.0 278.5h0M118.8 295.2h0M109.9 278.2h0M154.6 300.4h0M208.5 305.5h0M138.8 268.6h0M106.8 279.2h0M132.2 283.9h0M109.6 273.4h0M108.0 283.4h0M129.1 280.0h0M110.8 284.8h0M98.7 274.4h0M149.1 299.8h0M111.0 278.1h0M177.8 298.2h0M130.7 284.3h0M112.9 311.5h0M153.0 289.3h0M100.3 300.2h0M102.5 283.9h0M139.2 287.9h0M149.5 271.2h0" stroke="#ec902e" stroke-width="2.5" stroke-linecap="round" fill="none"/>
<path d="M149.6 241.5h0M144.6 243.0h0M141.0 242.1h0M124.9 240.1h0M133.8 234.2h0M137.8 232.2h0M119.7 249.6h0M141.5 232.6h0M160.7 244.0h0M129.8 240.0h0M140.3 238.2h0M145.3 238.6h0M93.3 265.6h0M123.2 252.3h0M146.8 247.3h0M127.4 243.3h0M130.1 246.9h0M150.1 244.1h0M167.7 252.7h0M105.7 258.1h0M134.5 232.0h0M130.8 231.9h0M123.9 241.6h0M158.3 250.3h0M127.4 237.5h0M122.3 247.0h0" stroke="#d9583a" stroke-width="2.5" stroke-linecap="round" fill="none"/>
<path d="M159.2 319.4h0M143.1 313.7h0M158.6 308.6h0M175.6 310.6h0M181.9 316.9h0M111.3 323.1h0M190.1 318.0h0M182.5 318.4h0M174.4 319.1h0M188.0 313.0h0M154.7 311.7h0M184.9 310.9h0M149.9 313.3h0M160.1 300.5h0M167.8 310.8h0M141.3 310.4h0M163.6 322.2h0M206.2 310.8h0M197.8 317.6h0M170.3 321.4h0M106.1 327.4h0M192.0 313.9h0M92.7 327.3h0M112.3 320.9h0M167.1 321.3h0M132.6 318.6h0M131.0 321.9h0M98.1 327.6h0M86.8 325.7h0M187.0 310.4h0M179.6 307.6h0M156.5 321.0h0M195.2 314.0h0M206.8 307.7h0M102.4 323.1h0M192.2 314.3h0M186.8 314.4h0M186.7 312.0h0M158.7 319.4h0M132.3 304.6h0M169.8 312.4h0M122.9 323.8h0M149.0 311.5h0M162.9 320.3h0M193.4 303.9h0M196.1 317.3h0" stroke="#e2e73c" stroke-width="2.5" stroke-linecap="round" fill="none"/>
<path d="M112.8 274.0h0M95.8 283.7h0M108.6 277.1h0M95.0 296.8h0M108.3 288.0h0M152.5 280.0h0M170.1 295.8h0M164.3 280.9h0M138.1 296.8h0M141.4 293.9h0M170.2 265.5h0M107.0 284.9h0M167.1 288.1h0M111.4 294.6h0M181.1 302.3h0M166.0 285.6h0M147.2 269.1h0M157.2 279.9h0M101.6 311.3h0M117.4 298.6h0M169.1 278.8h0M110.5 309.9h0M106.5 272.2h0M135.0 285.5h0M144.6 286.5h0M154.4 298.6h0M156.5 289.6h0M163.4 276.8h0M137.4 269.5h0M118.3 281.1h0M142.6 263.6h0M133.4 300.3h0M150.5 287.3h0M144.1 288.8h0M111.9 297.6h0M109.4 301.4h0M114.3 293.5h0M106.4 308.2h0M128.4 296.0h0M147.2 298.8h0M120.4 272.9h0M116.4 294.9h0M196.5 302.2h0M144.4 301.0h0M161.9 275.2h0M135.8 283.2h0M125.9 276.2h0M111.4 306.2h0M163.2 294.4h0M162.6 261.5h0M131.1 303.7h0M103.8 288.4h0M149.6 291.1h0M108.0 309.8h0M133.2 289.1h0M166.2 259.4h0M119.8 286.3h0M163.8 290.3h0M129.6 267.8h0M129.9 271.2h0M151.7 265.5h0M126.4 284.5h0M118.8 271.7h0M91.0 284.9h0M153.8 260.4h0M96.9 287.4h0M109.1 297.8h0M153.8 271.7h0M98.5 266.8h0M125.0 308.1h0M134.7 267.3h0M166.5 285.9h0M102.8 280.8h0M114.8 303.1h0M165.1 279.7h0M100.8 304.5h0M130.6 291.2h0M101.7 300.4h0M137.1 299.8h0M120.1 274.9h0M110.5 299.7h0M138.7 300.0h0M106.8 304.5h0M143.8 267.5h0M126.6 276.1h0M156.2 273.5h0M146.0 285.4h0M150.0 275.7h0M114.9 274.8h0M94.8 288.7h0M165.4 289.0h0M101.4 302.5h0M158.3 277.0h0M98.2 303.7h0M131.1 275.6h0M142.0 297.8h0M142.9 285.2h0M154.2 304.8h0M119.1 266.0h0M142.4 304.3h0M140.4 267.7h0M202.7 301.2h0M157.8 295.4h0M92.9 276.6h0M156.5 268.0h0M129.0 296.5h0M127.0 255.7h0M142.3 293.3h0M138.9 276.4h0M158.4 287.9h0M123.8 286.3h0M99.2 304.0h0M95.8 307.1h0M105.4 302.2h0M119.1 291.9h0M107.5 282.9h0M164.6 270.5h0M139.2 261.3h0M91.8 282.9h0M91.1 285.7h0M141.7 301.9h0M110.1 295.5h0M96.4 308.6h0M89.1 282.3h0M125.1 255.8h0M129.8 280.6h0M110.8 294.1h0M162.6 276.5h0M157.8 279.0h0M92.7 267.4h0M147.6 280.9h0M115.8 295.0h0M94.4 277.5h0M119.4 282.1h0M96.5 286.8h0M145.5 295.5h0M114.1 262.2h0M118.2 296.4h0M93.3 292.8h0M157.2 290.7h0M158.4 269.4h0M104.5 283.0h0M194.5 298.3h0M184.8 296.7h0M103.7 276.0h0M144.6 290.6h0M144.6 267.8h0M106.3 315.4h0" stroke="#f0a52a" stroke-width="2.5" stroke-linecap="round" fill="none"/>
<path d="M179.2 308.9h0M104.2 314.7h0M124.0 302.4h0M167.1 303.4h0M142.2 316.1h0M118.9 315.1h0M205.3 306.2h0M169.8 315.1h0M136.2 296.0h0M126.4 312.8h0M118.2 298.9h0M176.4 294.8h0M135.2 302.2h0M101.7 316.0h0M165.4 300.9h0M186.4 299.1h0M206.0 316.1h0M158.7 303.3h0M136.8 303.3h0M182.0 306.6h0M94.9 313.7h0M172.0 315.7h0M174.4 298.2h0M150.6 301.8h0M129.5 302.3h0M94.2 323.9h0M151.5 304.6h0M109.4 317.7h0M194.8 300.2h0M108.0 325.1h0M149.3 298.8h0M103.2 313.3h0M100.4 307.0h0M156.8 311.2h0M178.3 317.7h0M138.4 286.6h0M98.4 318.5h0M98.3 314.3h0M134.7 293.0h0" stroke="#d8df20" stroke-width="2.5" stroke-linecap="round" fill="none"/>
<path d="M94.4 265.8h0M113.8 254.4h0M129.3 255.5h0M150.8 263.2h0M146.2 259.9h0M144.6 262.2h0M164.5 265.2h0M165.9 250.1h0M136.1 253.7h0M133.1 255.1h0M151.5 261.6h0M119.0 265.7h0M105.8 258.9h0M152.6 257.9h0M110.3 271.8h0M132.9 252.4h0M131.1 251.8h0M117.0 278.5h0M160.1 251.7h0M136.2 258.4h0M127.4 257.4h0M124.0 260.0h0M135.2 251.8h0M130.4 251.2h0M128.8 246.3h0M161.6 254.1h0M161.6 250.2h0M103.0 260.3h0M164.5 253.5h0M115.1 250.4h0M158.1 244.5h0M138.6 250.2h0M144.3 258.2h0M124.0 251.7h0M129.5 260.1h0M107.6 260.9h0M163.3 249.0h0M150.1 266.4h0M96.2 288.1h0M146.9 244.0h0M160.6 256.6h0M130.6 245.6h0M158.4 249.6h0M112.5 256.9h0M152.8 252.5h0M137.5 248.2h0M130.0 269.8h0M92.6 267.1h0M117.0 261.5h0M149.1 235.8h0M155.1 256.9h0M156.9 249.2h0M157.7 260.4h0M142.5 267.9h0M112.5 263.0h0M151.0 261.6h0M121.8 270.0h0M127.8 244.7h0M110.4 267.7h0M160.3 245.9h0M140.8 240.2h0" stroke="#e06836" stroke-width="2.5" stroke-linecap="round" fill="none"/>
<path d="M124.1 247.1h0M117.7 259.7h0M138.8 232.7h0M121.5 239.6h0M150.3 239.7h0M148.5 237.6h0M112.5 251.2h0M120.2 251.1h0M140.8 244.2h0M124.4 247.3h0M130.6 241.0h0M127.3 237.4h0M121.4 243.6h0M136.6 231.4h0" stroke="#e26a3a" stroke-width="2.5" stroke-linecap="round" fill="none"/>
<path d="M116.0 319.1h0M184.3 315.5h0M156.2 316.6h0M170.3 318.5h0M165.3 309.5h0M208.5 305.6h0M205.6 307.6h0M124.0 319.3h0M125.6 321.7h0M187.1 311.7h0M179.6 315.0h0M201.2 315.4h0M174.6 315.5h0M128.0 316.4h0M162.2 318.1h0M152.8 321.0h0M180.7 316.8h0M122.6 312.8h0M127.0 308.4h0M167.8 317.1h0" stroke="#c6d21a" stroke-width="2.5" stroke-linecap="round" fill="none"/>
<path d="M143.1 259.8h0M124.7 265.2h0M168.7 261.0h0M126.6 247.1h0M147.3 256.8h0M133.4 246.7h0M154.9 249.3h0M134.8 260.4h0M115.5 258.8h0M128.5 256.7h0M149.0 261.4h0M117.6 255.2h0M152.0 264.8h0M126.2 247.0h0M166.5 263.2h0M138.3 241.5h0M115.4 270.3h0M106.7 258.0h0M130.1 247.7h0M143.6 264.2h0M119.1 261.9h0M157.3 242.8h0M111.7 268.2h0M135.7 258.5h0M156.0 252.8h0M146.2 249.9h0M90.2 272.4h0M128.0 256.9h0M155.4 243.0h0M138.4 256.4h0M120.0 273.2h0M137.8 249.0h0M130.9 244.2h0M138.5 257.6h0M109.1 268.3h0M122.8 255.5h0M115.4 276.3h0M147.6 261.4h0M146.3 256.0h0M167.2 247.3h0M156.1 242.8h0M150.2 251.3h0M99.6 268.1h0M107.9 268.8h0M137.2 253.8h0M151.5 253.0h0M110.6 256.7h0M151.5 253.1h0" stroke="#e8802f" stroke-width="2.5" stroke-linecap="round" fill="none"/>
<path d="M166.3 295.0h0M111.8 274.3h0M121.1 272.9h0M156.9 289.5h0M149.6 266.5h0M103.6 281.3h0M152.3 276.7h0M168.4 294.8h0M105.1 270.9h0M124.6 278.6h0M162.0 271.5h0M90.6 315.4h0M110.6 289.3h0M94.7 295.2h0M143.7 290.3h0M111.8 284.8h0M134.8 274.1h0M132.1 270.9h0M108.9 272.2h0M127.3 268.5h0M133.2 282.8h0M113.0 303.1h0M144.3 294.0h0M178.5 297.4h0M105.6 313.4h0M157.6 280.8h0M141.1 276.7h0M90.6 295.5h0M102.2 279.3h0M104.9 281.4h0M118.2 280.8h0M123.1 274.7h0M150.9 268.2h0M165.2 295.0h0M107.6 284.9h0M126.6 278.5h0M113.2 293.4h0M139.7 264.6h0M144.8 277.1h0M89.8 300.2h0M94.8 299.7h0M158.9 266.5h0M154.8 284.5h0M131.1 281.3h0" stroke="#f3b82c" stroke-width="2.5" stroke-linecap="round" fill="none"/>
<path d="M105.1 322.8h0M156.2 317.7h0M115.0 307.8h0M147.9 320.9h0M147.2 313.2h0M177.4 303.7h0M132.6 306.7h0M176.9 309.5h0M116.6 321.0h0M163.0 320.7h0M125.5 316.0h0M96.2 326.5h0M153.9 320.7h0M131.1 303.9h0M144.0 314.4h0M142.6 301.0h0M89.7 324.9h0M171.2 311.6h0M100.5 319.5h0M120.6 312.9h0M170.1 309.9h0M146.6 300.9h0M173.5 305.3h0M155.2 307.6h0M188.2 319.1h0M119.6 319.8h0M172.5 311.3h0M182.9 302.9h0M183.5 323.1h0M186.3 316.8h0M164.1 317.6h0M92.6 325.3h0M184.5 321.1h0M109.5 322.5h0M160.0 315.8h0M136.8 321.8h0M148.5 308.7h0M160.7 306.3h0M186.2 314.1h0M157.4 309.0h0M210.5 310.0h0M108.8 319.4h0M195.6 316.8h0M121.2 319.2h0M203.9 312.2h0M117.2 323.9h0M139.3 316.7h0M124.9 318.7h0M177.4 322.9h0M208.3 311.5h0M142.5 315.6h0M203.4 316.1h0M90.6 324.0h0M152.1 320.3h0M114.7 320.3h0M91.0 328.3h0M187.2 321.6h0M190.6 315.0h0M129.4 310.6h0M108.8 324.9h0M167.8 313.7h0M154.4 320.5h0M145.4 321.0h0M154.1 316.3h0M161.8 322.6h0M101.1 326.0h0M133.7 319.0h0M159.5 310.9h0" stroke="#d8e01e" stroke-width="2.5" stroke-linecap="round" fill="none"/>
<path d="M132.2 237.4h0M143.5 240.7h0M129.2 240.6h0M136.3 231.5h0M105.7 254.3h0M132.4 240.5h0" stroke="#c0405a" stroke-width="2.5" stroke-linecap="round" fill="none"/>
<path d="M162.8 251.3h0M148.2 266.0h0M119.2 255.9h0M129.7 249.1h0M104.0 273.6h0M111.6 270.6h0M150.0 258.9h0M125.9 249.4h0M132.5 254.6h0M113.4 258.9h0M115.5 251.5h0M160.9 259.2h0M129.9 247.4h0M149.9 257.2h0M119.0 245.9h0M117.9 266.9h0M109.3 268.2h0M137.2 251.8h0M145.8 258.5h0M112.9 278.8h0M143.3 247.6h0M132.2 247.4h0M105.0 263.5h0" stroke="#d4553c" stroke-width="2.5" stroke-linecap="round" fill="none"/>
<path d="M130.2 317.0h0M156.5 322.5h0M162.8 314.1h0M120.9 322.0h0M167.1 319.9h0M152.9 319.6h0M151.9 316.1h0M179.5 317.1h0M206.4 311.0h0M210.7 310.9h0" stroke="#ecc82c" stroke-width="2.5" stroke-linecap="round" fill="none"/>
<path d="M101.3 267.9h0M137.4 265.1h0M141.5 258.8h0M94.4 266.6h0M120.5 254.6h0M130.9 248.0h0M159.2 263.4h0M110.4 258.7h0M91.7 269.0h0M117.9 266.9h0M164.2 254.9h0M135.3 250.8h0M152.9 254.2h0M138.4 259.6h0M166.6 251.9h0M139.6 250.6h0M124.3 268.2h0" stroke="#ee9a2c" stroke-width="2.5" stroke-linecap="round" fill="none"/>
<path d="M124.5 254.4h0M141.5 243.8h0" stroke="#e07840" stroke-width="2.5" stroke-linecap="round" fill="none"/>
<path d="M107.5 261.8h0M93.7 265.5h0M101.8 264.9h0M109.2 296.1h0M96.4 269.9h0M110.1 276.9h0M110.2 259.7h0M94.7 262.1h0M99.3 290.7h0M92.2 271.1h0M103.8 296.2h0M99.4 279.0h0M110.3 298.6h0M110.7 262.0h0M103.1 295.3h0M96.8 288.9h0M89.6 295.6h0M94.4 293.8h0M104.4 287.5h0M102.2 287.3h0M112.8 263.6h0M92.1 284.9h0M98.1 266.3h0M109.0 268.9h0M92.7 276.6h0M109.0 266.6h0M92.9 299.3h0M106.2 262.7h0M115.0 277.8h0M97.0 265.0h0M105.1 264.0h0M100.7 268.2h0M95.7 271.7h0M103.4 267.7h0M102.5 290.6h0M101.0 270.6h0M108.7 270.4h0M111.7 270.3h0M97.8 307.0h0M104.0 258.9h0M103.0 284.2h0M92.2 279.0h0M108.6 274.9h0M92.3 298.5h0M103.8 274.2h0" stroke="#4e1888" stroke-width="2.3" stroke-linecap="round" fill="none"/>
<path d="M112.3 253.6h0M135.5 235.7h0M139.7 241.9h0M125.7 266.5h0M142.8 252.0h0M151.4 238.8h0M142.3 255.1h0M128.2 252.3h0M113.7 264.6h0M123.5 260.7h0M117.5 259.0h0M149.4 239.7h0M107.5 256.7h0M131.2 260.4h0M136.0 262.6h0M150.7 239.3h0M147.6 246.8h0M139.7 251.3h0M117.2 266.4h0M129.0 255.9h0M131.7 243.7h0M114.1 261.2h0M136.7 252.9h0M140.6 244.0h0M148.6 257.4h0M142.8 253.2h0M128.9 240.0h0M135.5 236.5h0M111.5 257.6h0M125.2 260.5h0M104.1 259.8h0M134.9 259.1h0M122.3 254.2h0M139.0 264.2h0M116.7 250.6h0M113.4 265.6h0M151.3 258.4h0M132.3 237.1h0M139.4 245.0h0M104.6 261.3h0M138.2 246.3h0M118.2 263.6h0M144.8 251.8h0M144.5 250.4h0M122.2 251.7h0M126.0 256.9h0M130.2 251.9h0M133.7 241.2h0M120.6 260.1h0M149.3 246.5h0M136.8 254.6h0M120.3 254.1h0M128.2 250.0h0M114.3 259.8h0M132.1 260.6h0M142.0 257.4h0M127.7 263.6h0M143.9 243.8h0M103.7 265.2h0M141.1 245.3h0M141.8 253.8h0M143.0 245.8h0M145.6 257.1h0M135.4 245.2h0M136.9 241.4h0M136.9 241.7h0M125.1 244.4h0M145.2 241.4h0M138.5 250.7h0M127.7 259.4h0M138.2 246.6h0M132.5 260.1h0M122.5 264.8h0M141.2 245.2h0M142.0 241.4h0M116.1 248.9h0M140.7 255.0h0M124.9 247.8h0M137.4 254.1h0M126.3 253.7h0M135.2 246.9h0M132.4 250.9h0M144.9 246.5h0M108.9 264.4h0M140.2 246.1h0M139.5 252.5h0M129.5 255.9h0M105.3 262.6h0M110.7 252.0h0M114.2 265.8h0" stroke="#c03c5c" stroke-width="2.4" stroke-linecap="round" fill="none"/>
<path d="M123.4 255.5h0M122.4 244.2h0M121.7 252.7h0M129.5 249.2h0M126.6 245.6h0M130.2 244.2h0M130.1 245.6h0M122.3 243.1h0M127.6 248.5h0M120.8 251.8h0M128.6 245.2h0M125.3 245.0h0M123.9 243.8h0M123.8 244.9h0" stroke="#8a2090" stroke-width="2.2" stroke-linecap="round" fill="none"/>
<path d="M190.8 276.4h0M197.3 277.5h0M196.2 275.8h0M178.1 286.7h0M176.0 270.6h0M175.4 271.0h0M200.6 270.3h0M183.1 269.1h0M175.3 274.1h0M192.5 277.8h0M177.4 295.1h0M201.9 269.9h0M197.1 273.6h0M193.7 292.6h0M196.2 284.0h0M193.7 290.3h0M200.8 270.1h0M183.1 287.6h0M187.9 293.2h0M179.5 270.7h0M193.7 276.6h0M205.3 288.1h0M204.2 282.8h0M189.5 270.2h0M199.2 281.6h0M176.0 289.5h0M191.8 285.3h0M200.4 280.6h0M178.9 288.0h0M196.4 276.8h0M197.7 285.4h0M197.3 285.6h0M191.9 289.1h0M195.0 292.8h0M192.9 272.5h0M186.5 276.0h0M195.4 269.8h0M193.5 290.8h0M180.1 284.9h0M192.8 267.2h0" stroke="#e8873a" stroke-width="2.4" stroke-linecap="round" fill="none"/>
<path d="M186.7 330.2h0M149.3 329.7h0M163.3 332.8h0M192.3 327.7h0M197.8 321.8h0M128.0 335.6h0M127.3 325.6h0M123.2 337.1h0M144.2 323.3h0M191.6 327.2h0M171.9 331.8h0M167.9 334.4h0M129.2 322.2h0M152.0 329.6h0M147.7 329.3h0M195.4 323.1h0M200.2 327.6h0M187.1 335.3h0M177.3 327.6h0M157.6 337.7h0M175.7 336.8h0M185.2 326.8h0M155.0 323.8h0M195.7 334.9h0M138.1 333.0h0M124.6 322.9h0M201.2 322.1h0M136.5 321.8h0M117.6 331.5h0M172.3 327.9h0M117.7 336.3h0M187.5 337.1h0M142.8 322.9h0M125.5 323.5h0M156.7 322.9h0M173.1 326.8h0M137.9 333.1h0M170.8 325.8h0M194.8 326.4h0M199.3 325.5h0M124.0 328.5h0M201.5 330.5h0M138.1 333.1h0M180.5 329.5h0M124.9 334.0h0M189.2 330.1h0M175.1 334.9h0M138.4 333.4h0M134.7 325.8h0M161.6 328.6h0M155.7 327.5h0M181.4 334.0h0M99.1 335.7h0M185.3 328.6h0M149.1 323.2h0M128.1 335.1h0M147.1 331.5h0M173.0 328.9h0M103.9 336.9h0M171.3 326.0h0M186.5 331.6h0M153.9 325.9h0M157.5 323.3h0M167.4 337.6h0M196.9 336.4h0M177.7 330.8h0M163.0 328.1h0M170.5 330.0h0M126.7 323.3h0M170.3 328.1h0" stroke="#d4de2c" stroke-width="1.7" stroke-linecap="round" fill="none"/>
<path d="M124.0,227.4 L125.2,230.3 L128.4,230.6 L126.0,232.6 L126.7,235.7 L124.0,234.1 L121.3,235.7 L122.0,232.6 L119.6,230.6 L122.8,230.3Z" fill="#dc5a38" stroke="#b8442c" stroke-width="0.4"/>
<path d="M137.5,222.9 L138.8,226.2 L142.3,226.4 L139.7,228.7 L140.5,232.1 L137.5,230.3 L134.5,232.1 L135.3,228.7 L132.7,226.4 L136.2,226.2Z" fill="#dc5a38" stroke="#b8442c" stroke-width="0.4"/>
<path d="M151.5,232.8 L152.6,235.5 L155.5,235.7 L153.3,237.6 L154.0,240.4 L151.5,238.9 L149.0,240.4 L149.7,237.6 L147.5,235.7 L150.4,235.5Z" fill="#dc5a38" stroke="#b8442c" stroke-width="0.4"/>
<path d="M158.0,238.2 L159.0,240.6 L161.7,240.8 L159.6,242.5 L160.3,245.1 L158.0,243.7 L155.7,245.1 L156.4,242.5 L154.3,240.8 L157.0,240.6Z" fill="#dc5a38" stroke="#b8442c" stroke-width="0.4"/>
<path d="M166.0,246.5 L167.0,249.1 L169.8,249.3 L167.7,251.1 L168.3,253.7 L166.0,252.3 L163.7,253.7 L164.3,251.1 L162.2,249.3 L165.0,249.1Z" fill="#dc5a38" stroke="#b8442c" stroke-width="0.4"/>
<path d="M116.0,234.0 L116.9,236.2 L119.3,236.4 L117.5,238.0 L118.1,240.3 L116.0,239.1 L113.9,240.3 L114.5,238.0 L112.7,236.4 L115.1,236.2Z" fill="#dc5a38" stroke="#b8442c" stroke-width="0.4"/>
<path d="M130.0,227.4 L131.0,229.7 L133.5,229.9 L131.6,231.5 L132.1,233.9 L130.0,232.6 L127.9,233.9 L128.4,231.5 L126.5,229.9 L129.0,229.7Z" fill="#dc5a38" stroke="#b8442c" stroke-width="0.4"/>
<path d="M145.0,229.0 L145.9,231.2 L148.3,231.4 L146.5,233.0 L147.1,235.3 L145.0,234.1 L142.9,235.3 L143.5,233.0 L141.7,231.4 L144.1,231.2Z" fill="#dc5a38" stroke="#b8442c" stroke-width="0.4"/>
<path d="M109.0,241.8 L109.8,243.8 L112.0,244.0 L110.4,245.4 L110.9,247.6 L109.0,246.4 L107.1,247.6 L107.6,245.4 L106.0,244.0 L108.2,243.8Z" fill="#dc5a38" stroke="#b8442c" stroke-width="0.4"/>
<path d="M101.0,246.5 L101.8,248.4 L103.8,248.6 L102.3,249.9 L102.7,251.9 L101.0,250.8 L99.3,251.9 L99.7,249.9 L98.2,248.6 L100.2,248.4Z" fill="#dc5a38" stroke="#b8442c" stroke-width="0.4"/>
<path d="M94.0,251.5 L94.8,253.4 L96.8,253.6 L95.3,254.9 L95.7,256.9 L94.0,255.8 L92.3,256.9 L92.7,254.9 L91.2,253.6 L93.2,253.4Z" fill="#dc5a38" stroke="#b8442c" stroke-width="0.4"/>
<path d="M162.0,243.3 L162.8,245.3 L165.0,245.5 L163.4,246.9 L163.9,249.1 L162.0,247.9 L160.1,249.1 L160.6,246.9 L159.0,245.5 L161.2,245.3Z" fill="#dc5a38" stroke="#b8442c" stroke-width="0.4"/>
<path d="M90.0,245.6 L90.8,247.5 L92.7,247.6 L91.2,248.9 L91.7,250.8 L90.0,249.8 L88.3,250.8 L88.8,248.9 L87.3,247.6 L89.2,247.5Z" fill="#dc5a38" stroke="#b8442c" stroke-width="0.4"/>
<path d="M84.0,253.5 L84.7,255.1 L86.4,255.2 L85.1,256.4 L85.5,258.0 L84.0,257.1 L82.5,258.0 L82.9,256.4 L81.6,255.2 L83.3,255.1Z" fill="#dc5a38" stroke="#b8442c" stroke-width="0.4"/>
<rect x="247.4" y="224.50" width="7.6" height="15.01" fill="#14127a"/>
<rect x="247.4" y="239.21" width="7.6" height="15.01" fill="#4f16a0"/>
<rect x="247.4" y="253.93" width="7.6" height="15.01" fill="#8e2aa0"/>
<rect x="247.4" y="268.64" width="7.6" height="15.01" fill="#d04a80"/>
<rect x="247.4" y="283.36" width="7.6" height="15.01" fill="#ee7d50"/>
<rect x="247.4" y="298.07" width="7.6" height="15.01" fill="#f8aa28"/>
<rect x="247.4" y="312.79" width="7.6" height="15.01" fill="#e9ef3a"/>
<line x1="255" y1="224.50" x2="257.2" y2="224.50" stroke="#444" stroke-width="0.7"/>
<text x="258.2" y="227.50" font-size="8.6">35.00</text>
<line x1="255" y1="239.21" x2="257.2" y2="239.21" stroke="#444" stroke-width="0.7"/>
<text x="258.2" y="242.21" font-size="8.6">30.00</text>
<line x1="255" y1="253.93" x2="257.2" y2="253.93" stroke="#444" stroke-width="0.7"/>
<text x="258.2" y="256.93" font-size="8.6">24.00</text>
<line x1="255" y1="268.64" x2="257.2" y2="268.64" stroke="#444" stroke-width="0.7"/>
<text x="258.2" y="271.64" font-size="8.6">20.00</text>
<line x1="255" y1="283.36" x2="257.2" y2="283.36" stroke="#444" stroke-width="0.7"/>
<text x="258.2" y="286.36" font-size="8.6">16.00</text>
<line x1="255" y1="298.07" x2="257.2" y2="298.07" stroke="#444" stroke-width="0.7"/>
<text x="258.2" y="301.07" font-size="8.6">12.00</text>
<line x1="255" y1="312.79" x2="257.2" y2="312.79" stroke="#444" stroke-width="0.7"/>
<text x="258.2" y="315.79" font-size="8.6">8.000</text>
<line x1="255" y1="327.50" x2="257.2" y2="327.50" stroke="#444" stroke-width="0.7"/>
<text x="258.2" y="330.50" font-size="8.6">4.000</text>
<text x="248.0" y="215.4" font-size="13" font-style="italic">S</text><text x="255.2" y="217.6" font-size="8.4">C3</text>
<text x="251.0" y="345.4" font-size="12.6" font-style="italic">N</text><text x="258.6" y="348.2" font-size="8.4">C3</text>
<path d="M257.1,352.6 L259.5,358.9 L266.2,359.2 L260.9,363.4 L262.7,370.0 L257.1,366.2 L251.5,370.0 L253.3,363.4 L248.0,359.2 L254.7,358.9Z" fill="#f0a531"/>
<text x="268.6" y="364.6" font-size="9">9</text>
<path d="M257.1,375.8 L258.6,379.8 L262.8,379.9 L259.5,382.6 L260.6,386.7 L257.1,384.3 L253.6,386.7 L254.7,382.6 L251.4,379.9 L255.6,379.8Z" fill="#f0a531"/>
<text x="268.6" y="384.2" font-size="9">6</text>
<path d="M257.1,392.0 L257.8,393.8 L259.8,393.9 L258.2,395.2 L258.7,397.1 L257.1,396.0 L255.5,397.1 L256.0,395.2 L254.4,393.9 L256.4,393.8Z" fill="#f0a531"/>
<text x="268.6" y="397.2" font-size="9">3</text>
<text x="283.0" y="215.8" font-size="18.8">(d)</text>
<rect x="312.0" y="225.0" width="219.0" height="146.0" fill="#1414e2"/>
<path d="M411.1 306.7h0M514.4 293.0h0M423.2 310.8h0M352.4 299.7h0M449.9 340.8h0M332.6 269.3h0M331.9 343.2h0M463.9 231.1h0M527.1 365.9h0M455.2 314.9h0M346.5 227.2h0M427.7 233.7h0M353.7 260.3h0M318.6 292.7h0M408.5 348.0h0M425.7 318.5h0M421.5 321.7h0M412.2 265.6h0M530.5 370.4h0M496.0 328.3h0M381.0 258.5h0M375.3 235.3h0M479.8 283.5h0M497.4 281.4h0M521.8 348.7h0M312.1 255.6h0M511.3 293.6h0M526.7 283.0h0M328.0 316.9h0M482.5 264.4h0M331.1 273.6h0M523.1 335.7h0M337.8 261.0h0M334.1 233.7h0M486.5 250.9h0M434.5 290.3h0M353.8 331.9h0M340.7 319.0h0M337.5 286.4h0M358.6 264.4h0M524.6 342.3h0M378.6 354.2h0M358.1 282.6h0M499.1 318.7h0M334.0 369.4h0M358.7 262.7h0M481.2 273.0h0M376.9 235.7h0M331.7 310.1h0M365.2 312.8h0M393.4 291.2h0M522.1 295.6h0M437.8 351.5h0M352.0 247.5h0M510.9 344.4h0M366.6 252.7h0M473.9 362.3h0M355.1 363.7h0M505.2 313.1h0M404.3 240.2h0M320.5 365.6h0M364.2 327.9h0M368.3 345.3h0M442.6 267.8h0M350.4 330.2h0M327.1 258.3h0M434.5 349.5h0M446.5 265.9h0M512.9 254.8h0M315.6 264.3h0M409.6 233.8h0M350.6 278.8h0M437.3 244.2h0M391.3 355.1h0M526.7 320.9h0M463.4 310.3h0M342.7 230.1h0M315.9 357.9h0M465.5 365.6h0M316.7 317.9h0M417.6 331.7h0M381.8 370.9h0M328.5 304.7h0M473.4 356.4h0M473.4 327.7h0M485.7 358.6h0M389.1 325.0h0M509.3 352.2h0M403.4 340.4h0M501.1 308.6h0M448.9 280.8h0M439.6 313.9h0M329.6 318.4h0M529.5 353.4h0M471.5 281.7h0M473.0 309.8h0M408.5 347.4h0M330.3 334.5h0M318.5 312.8h0M417.3 258.6h0M464.9 297.6h0M446.6 359.4h0M368.0 226.7h0M377.9 324.0h0M356.4 249.8h0M510.4 321.4h0M408.8 355.2h0M383.6 322.2h0M355.5 287.9h0M488.5 358.5h0M504.8 281.1h0M439.7 271.2h0M341.8 297.5h0M495.3 348.9h0M467.8 363.7h0M372.6 249.7h0M410.7 265.2h0M358.9 285.4h0M449.0 297.1h0M381.1 347.5h0M527.1 291.1h0M328.4 229.6h0M503.1 231.1h0M467.2 308.3h0M379.7 340.6h0M316.2 244.8h0M411.6 228.6h0M493.7 259.7h0M342.9 231.9h0M449.8 290.2h0M450.0 320.6h0M488.8 364.9h0M461.9 254.1h0M416.1 251.1h0M314.4 293.9h0M468.4 251.1h0M371.6 275.5h0M464.7 301.0h0M446.6 335.4h0M398.2 340.6h0M510.5 237.7h0M516.2 330.5h0M340.5 291.2h0M449.0 357.9h0M394.5 308.0h0M504.6 341.3h0M518.8 292.7h0M454.6 254.9h0M470.1 344.5h0M452.5 329.8h0M358.7 356.4h0M526.7 367.7h0M429.6 340.5h0M382.2 357.9h0M499.4 275.9h0M330.1 289.4h0M432.5 337.2h0M418.8 229.1h0M489.2 234.4h0M487.2 250.2h0M385.4 340.0h0M342.8 246.7h0M425.1 330.6h0M496.0 325.6h0M519.1 296.9h0M519.9 237.6h0M360.5 301.9h0M375.5 331.4h0M451.9 301.3h0M496.8 306.8h0M380.3 280.7h0M497.1 356.5h0M357.6 349.2h0M524.1 301.5h0M437.5 254.3h0M429.4 298.5h0M444.5 229.1h0M524.3 300.3h0M399.7 342.0h0M435.3 296.7h0M463.3 234.6h0M430.0 285.4h0M521.6 359.8h0M371.0 294.1h0M339.8 288.3h0M490.6 356.5h0M416.4 271.3h0M353.9 315.2h0M514.6 243.9h0M482.7 228.3h0M354.5 258.2h0M462.5 272.0h0M389.8 315.5h0M335.0 331.7h0M338.9 299.5h0M366.9 253.9h0M428.1 288.8h0M394.3 285.4h0M427.9 248.3h0M356.7 317.2h0M451.8 302.3h0M498.4 314.3h0M499.6 259.0h0M474.2 343.3h0M509.7 271.1h0M381.0 359.7h0M359.8 370.8h0M506.4 244.6h0M364.4 331.1h0M368.8 239.2h0M494.2 286.6h0M485.0 243.4h0M400.2 325.0h0M315.9 254.3h0M461.4 358.1h0M524.1 241.8h0M422.7 335.7h0M422.1 325.1h0M353.4 235.3h0M335.3 230.5h0M432.8 300.2h0M436.6 246.4h0M352.4 254.8h0M496.0 369.6h0M515.0 238.9h0M325.6 363.9h0M413.2 336.6h0M383.6 293.2h0M424.8 287.8h0M443.6 226.9h0M465.5 348.3h0M351.7 291.3h0M473.9 284.2h0M354.7 249.1h0M424.3 227.3h0M507.6 342.0h0M466.3 350.7h0M449.8 284.1h0M443.3 298.6h0M527.2 342.5h0M368.6 358.0h0M475.0 338.6h0M490.4 284.2h0M508.3 353.5h0M464.2 337.0h0M479.6 284.2h0M470.3 235.3h0M386.8 293.5h0M314.3 276.9h0M451.9 316.1h0M362.8 362.9h0M457.9 274.3h0M456.5 308.2h0M428.7 281.9h0M531.0 318.8h0M465.6 336.2h0M526.6 228.3h0M446.8 332.9h0M368.2 283.6h0M323.1 253.5h0M394.3 239.4h0M366.9 357.2h0M432.5 299.1h0M523.8 307.9h0M529.9 318.1h0M489.3 236.1h0M442.9 335.9h0M321.9 360.8h0M347.0 293.9h0M349.0 297.3h0M445.8 233.5h0M519.0 286.4h0M427.4 312.3h0M392.1 266.7h0M455.5 306.9h0M374.1 329.6h0M376.8 227.0h0M365.7 231.2h0M346.3 335.2h0M397.4 356.0h0M475.9 232.3h0M528.5 362.9h0M328.1 357.2h0M406.1 294.7h0M525.1 260.6h0M426.6 361.8h0M470.3 293.4h0M526.4 344.2h0M444.2 241.8h0M448.7 291.5h0M356.6 232.6h0M427.7 243.2h0M409.0 322.5h0M411.8 263.3h0M439.5 286.3h0M482.4 302.5h0M530.5 364.1h0M472.8 259.8h0M336.9 355.3h0M483.8 316.2h0M390.7 264.6h0M462.0 307.5h0M441.6 317.4h0M477.0 252.7h0M366.5 368.0h0M512.5 353.3h0M320.7 233.9h0M371.3 287.1h0M448.5 240.0h0M430.6 235.6h0M330.9 323.7h0M432.6 317.1h0M393.7 294.9h0M358.1 275.2h0M475.1 347.4h0M328.3 242.5h0M489.2 316.1h0M480.4 256.1h0M404.9 262.7h0M489.4 278.9h0M455.2 369.4h0M383.3 305.1h0M475.4 359.4h0M405.7 278.9h0M333.2 352.8h0M329.2 237.1h0M435.6 295.8h0M462.1 268.6h0M481.8 236.1h0M358.7 321.7h0M329.9 269.4h0M470.8 326.3h0M374.0 245.9h0M390.4 331.0h0M392.2 242.1h0M467.3 308.1h0M513.2 362.2h0M512.0 288.9h0M487.9 269.5h0M381.6 283.3h0M516.7 355.6h0M366.4 277.8h0M392.1 278.0h0M398.6 281.6h0M354.7 307.3h0M486.6 303.9h0M495.2 307.2h0M350.7 335.8h0M504.9 266.1h0M316.9 300.3h0M431.2 307.8h0M523.6 320.1h0M488.1 234.4h0M431.8 340.1h0M330.4 236.9h0M473.4 356.3h0M330.5 317.6h0M343.5 333.9h0M454.1 260.8h0M360.3 336.7h0M426.2 336.6h0M398.4 274.3h0M524.1 323.2h0M420.1 303.5h0M469.9 328.4h0M512.4 284.9h0M492.9 322.3h0M498.9 342.7h0M494.6 354.7h0M521.8 318.5h0M426.7 328.7h0M487.7 286.6h0M404.1 246.3h0M474.3 369.7h0M394.2 249.5h0M356.8 287.0h0M376.0 366.6h0M325.0 270.0h0M337.1 319.6h0M481.9 251.2h0M325.7 292.0h0M439.9 357.8h0M320.0 240.9h0M352.4 256.7h0M363.6 329.7h0M442.3 257.7h0M352.5 266.0h0M349.8 335.6h0M380.3 305.0h0M491.0 295.0h0M369.0 354.6h0M512.2 274.9h0M431.9 364.7h0M417.7 257.3h0M322.9 363.3h0M487.5 281.2h0M427.5 300.3h0M372.1 369.6h0M456.0 259.7h0M314.4 294.0h0M393.4 341.3h0M468.2 313.5h0M346.4 247.9h0M382.5 262.9h0M502.4 300.4h0M451.5 370.0h0M370.4 303.0h0M345.0 337.5h0M312.3 344.9h0M497.3 345.0h0M330.1 264.4h0M468.9 239.2h0M417.1 293.4h0M521.3 310.6h0M499.8 269.3h0M484.9 285.9h0M512.8 238.3h0M493.0 255.4h0M431.0 301.7h0M346.5 346.5h0M380.2 270.4h0M328.6 269.6h0M414.3 329.4h0M390.8 325.3h0M335.2 282.6h0M413.1 366.2h0M493.7 320.5h0M314.7 280.1h0M467.5 259.7h0M435.5 291.9h0M314.3 369.8h0M487.1 255.2h0M446.9 267.4h0M394.3 303.8h0M377.3 274.3h0M397.9 322.3h0M368.2 254.2h0M472.2 273.1h0M519.0 307.2h0M470.5 273.4h0M493.1 238.5h0M342.8 238.8h0M460.4 328.4h0M351.4 283.7h0M495.3 311.5h0M331.7 258.1h0M346.4 243.1h0M401.1 235.6h0M513.6 287.3h0M424.0 319.5h0M479.9 344.9h0M396.5 273.4h0M402.3 227.3h0M399.8 327.2h0M527.0 340.3h0M456.6 313.9h0M316.1 273.3h0M386.9 320.0h0M335.3 280.1h0M423.6 340.1h0M492.7 314.3h0M346.7 336.9h0M509.8 305.0h0M389.2 298.1h0M343.0 329.2h0M528.1 300.3h0M468.7 347.0h0M355.2 363.0h0M449.3 253.9h0M330.2 260.7h0M438.3 326.8h0M384.1 360.6h0M391.1 292.6h0M339.2 367.1h0M341.7 357.0h0M431.0 306.9h0M434.7 263.6h0M511.1 369.9h0M491.0 312.8h0M338.9 345.4h0M375.2 356.0h0M364.7 308.7h0M493.9 252.1h0M432.0 236.1h0M319.0 251.3h0M528.2 362.2h0M456.2 269.9h0M459.0 332.7h0M395.6 311.4h0M488.0 227.4h0M355.7 293.3h0M343.3 281.4h0M436.7 250.4h0M425.8 263.5h0M436.4 273.5h0M452.5 230.5h0M458.9 246.1h0M522.1 312.6h0M414.9 285.1h0M448.6 325.6h0" stroke="#1010c4" stroke-width="2.4" stroke-linecap="round" fill="none"/>
<path d="M478.0 334.8h0M418.4 370.2h0M495.6 349.8h0M401.6 288.4h0M435.9 357.2h0M427.2 301.7h0M406.7 357.0h0M382.2 233.0h0M470.9 356.4h0M472.3 312.2h0M476.7 269.5h0M442.0 235.2h0M339.3 290.3h0M422.1 282.9h0M323.4 326.5h0M427.2 259.9h0M379.1 282.7h0M363.7 235.0h0M511.6 366.1h0M457.8 351.5h0M404.3 342.6h0M360.6 334.0h0M436.1 356.9h0M333.6 340.7h0M339.1 303.5h0M520.3 225.1h0M365.4 268.7h0M383.1 234.1h0M508.0 344.1h0M399.0 277.0h0M440.2 231.7h0M318.8 356.2h0M379.4 297.8h0M516.5 367.7h0M415.5 255.2h0M376.7 359.7h0M508.4 253.5h0M495.5 276.7h0M415.5 250.1h0M504.7 370.3h0M356.2 317.3h0M353.9 353.5h0M323.0 240.5h0M470.9 270.7h0M509.2 352.0h0M468.2 244.7h0M464.4 361.9h0M409.5 236.5h0M360.9 269.8h0M467.6 253.7h0M351.6 259.4h0M457.5 340.4h0M393.6 321.7h0M505.7 311.1h0M362.1 268.9h0M515.0 322.4h0M372.6 318.4h0M331.7 368.5h0M408.4 302.1h0M428.2 231.6h0M443.3 266.5h0M366.9 342.3h0M331.1 266.6h0M477.5 260.9h0M373.1 305.0h0M352.8 356.0h0M528.3 229.9h0M413.1 334.6h0M396.3 360.7h0M421.5 251.3h0M433.8 319.2h0M390.8 321.1h0M483.5 300.4h0M422.7 348.4h0M461.9 301.0h0M520.4 250.4h0M482.7 249.1h0M445.2 259.4h0M408.5 337.9h0M484.3 340.5h0M363.7 296.4h0M360.5 309.7h0M421.3 230.2h0M442.7 329.3h0M437.4 352.4h0M351.4 247.2h0M315.9 297.4h0M407.2 289.5h0M369.6 341.6h0M327.9 357.5h0M436.6 304.3h0M485.4 259.7h0M344.0 270.4h0M321.3 270.9h0M448.0 301.7h0M370.0 310.9h0M331.4 344.8h0M349.6 262.2h0M347.0 325.8h0M494.0 339.9h0M325.4 285.0h0M391.8 256.6h0M524.5 231.1h0M419.2 336.1h0M528.0 246.1h0M411.7 333.8h0M320.6 260.1h0M506.9 245.7h0M398.0 268.5h0M405.0 236.2h0M319.5 370.4h0M479.2 332.2h0M362.3 262.0h0M432.9 260.3h0M413.1 361.1h0M391.7 274.2h0M526.9 314.2h0M320.7 283.8h0M454.3 233.5h0M387.2 326.4h0M501.3 311.2h0M506.1 292.5h0M398.1 348.1h0M395.5 339.1h0M359.2 275.7h0M352.2 305.2h0M347.9 254.7h0M359.0 293.3h0M379.6 290.3h0M529.5 324.2h0M500.9 254.9h0M395.9 235.6h0M463.4 278.0h0M372.1 227.7h0M351.9 263.3h0M398.1 359.8h0M468.6 264.2h0M391.1 247.4h0M517.1 277.5h0M479.7 330.6h0M510.6 228.0h0M382.5 281.1h0M330.2 353.8h0M383.2 337.5h0M425.7 233.0h0M398.3 259.8h0M320.9 247.0h0M442.4 229.6h0M380.4 286.9h0M431.1 244.9h0M466.7 263.0h0M470.9 322.3h0M344.2 254.9h0M373.4 329.1h0M400.8 281.4h0M501.6 258.0h0M376.0 275.4h0M359.3 230.9h0M317.4 317.0h0M435.9 343.1h0M525.7 268.5h0M458.8 359.2h0M359.3 325.6h0M458.0 364.5h0M502.2 259.3h0M450.5 238.1h0M405.7 282.3h0M325.2 281.0h0M383.9 297.6h0M373.3 248.2h0M400.1 294.4h0M348.5 322.1h0M364.5 238.6h0M386.9 286.7h0M345.0 310.1h0M465.6 305.8h0M465.3 228.4h0M397.7 278.2h0M325.8 284.0h0M324.0 297.4h0M440.3 293.5h0M383.3 262.0h0M317.2 275.7h0M507.3 307.6h0M369.4 322.5h0M352.7 293.5h0M446.7 364.4h0M391.4 309.1h0M518.4 337.6h0M449.4 315.6h0M402.0 285.7h0M372.5 346.1h0M504.7 280.8h0M511.2 230.6h0M341.8 299.0h0M379.6 277.6h0M526.0 246.9h0M354.1 258.4h0M461.0 259.2h0M312.2 304.4h0M398.3 259.9h0M420.1 319.9h0M432.0 316.2h0M434.8 346.3h0M524.2 273.7h0M387.9 354.4h0M380.6 329.5h0M464.3 325.2h0M523.1 345.4h0M346.9 315.8h0M419.5 307.3h0M392.9 266.7h0M476.0 303.0h0M363.9 261.4h0M383.2 251.0h0M424.5 243.4h0M325.8 235.0h0M334.4 327.9h0M336.7 290.9h0M481.1 295.2h0M347.6 351.5h0M502.5 232.8h0M367.6 299.1h0M486.4 282.3h0M468.8 261.8h0M468.7 272.7h0M385.1 335.9h0M496.6 346.0h0M436.3 286.4h0M466.8 316.0h0M494.0 342.0h0M339.4 280.0h0M458.6 258.7h0M352.4 227.0h0M440.2 362.4h0M524.5 244.5h0M462.6 286.2h0M450.3 282.9h0M516.4 369.4h0M322.7 329.1h0M337.9 231.2h0M374.6 331.8h0M529.6 242.5h0M384.3 228.9h0M430.8 295.5h0M393.8 270.1h0M487.3 347.4h0M374.1 282.2h0M447.3 336.7h0M526.8 281.8h0" stroke="#2222ee" stroke-width="2.2" stroke-linecap="round" fill="none"/>
<rect x="524.8" y="230.0" width="8" height="26.399999999999977" fill="#fff"/>
<rect x="524.8" y="266.4" width="8" height="24.200000000000045" fill="#fff"/>
<rect x="524.8" y="302.6" width="8" height="25.19999999999999" fill="#fff"/>
<rect x="524.8" y="338.6" width="8" height="24.19999999999999" fill="#fff"/>
<rect x="312.0" y="225.0" width="112.5" height="5.400000000000006" fill="url(#grayTex)"/>
<rect x="420.5" y="225.0" width="8" height="5.400000000000006" rx="4" fill="url(#grayTex)"/>
<rect x="312.0" y="290.2" width="112.5" height="12.600000000000023" fill="url(#grayTex)"/>
<rect x="420.5" y="290.2" width="8" height="12.600000000000023" rx="4" fill="url(#grayTex)"/>
<rect x="312.0" y="362.4" width="112.5" height="8.600000000000023" fill="url(#grayTex)"/>
<rect x="420.5" y="362.4" width="8" height="8.600000000000023" rx="4" fill="url(#grayTex)"/>
<rect x="331.4" y="225.0" width="8.600000000000023" height="146.0" fill="url(#grayTexV)"/>
<rect x="392.6" y="225.0" width="8.199999999999989" height="146.0" fill="url(#grayTexV)"/>
<path d="M314.3 227.3h0M314.3 229.7h0M316.9 226.9h0M316.9 229.0h0M321.0 227.0h0M321.0 229.4h0M323.2 227.0h0M323.2 228.9h0M327.0 226.9h0M327.0 229.5h0M329.8 226.9h0M329.8 229.4h0M333.1 227.0h0M333.1 228.9h0M336.0 227.6h0M336.0 229.2h0M339.2 226.9h0M339.2 229.4h0M343.5 226.9h0M343.5 229.7h0M346.1 227.1h0M346.1 229.7h0M349.2 226.8h0M349.2 229.4h0M352.7 227.3h0M352.7 229.2h0M356.2 227.6h0M356.2 229.9h0M358.8 227.6h0M358.8 229.6h0M361.7 226.7h0M361.7 229.0h0M364.8 226.8h0M364.8 229.2h0M368.8 227.0h0M368.8 229.4h0M371.1 226.9h0M371.1 229.8h0M374.3 227.2h0M374.3 229.7h0M378.5 227.5h0M378.5 229.3h0M381.7 227.5h0M381.7 229.6h0M385.1 226.8h0M385.1 229.8h0M387.6 227.4h0M387.6 229.1h0M391.4 226.7h0M391.4 229.5h0M393.8 227.1h0M393.8 229.2h0M397.5 227.5h0M397.5 229.2h0M400.7 227.1h0M400.7 229.2h0M404.2 227.0h0M404.2 229.0h0M406.7 227.5h0M406.7 229.1h0M410.4 227.3h0M410.4 229.6h0M412.9 226.8h0M412.9 229.0h0M416.3 227.2h0M416.3 228.9h0M419.7 227.1h0M419.7 229.2h0M422.9 227.7h0M422.9 229.1h0M314.6 294.4h0M314.6 299.9h0M316.8 295.1h0M316.8 299.6h0M321.1 294.3h0M321.1 299.5h0M323.9 294.3h0M323.9 299.4h0M327.1 295.0h0M327.1 299.4h0M329.7 294.4h0M329.7 300.1h0M332.9 294.7h0M332.9 299.5h0M336.7 294.3h0M336.7 299.7h0M340.2 294.9h0M340.2 299.7h0M342.9 294.6h0M342.9 299.2h0M346.5 294.8h0M346.5 299.6h0M349.5 294.5h0M349.5 299.5h0M352.2 294.7h0M352.2 299.7h0M355.7 294.1h0M355.7 299.7h0M358.8 294.7h0M358.8 299.7h0M362.6 294.2h0M362.6 299.6h0M365.9 294.8h0M365.9 299.4h0M368.8 295.1h0M368.8 299.5h0M372.1 294.2h0M372.1 300.1h0M374.9 294.3h0M374.9 300.0h0M378.3 295.0h0M378.3 299.9h0M381.7 294.6h0M381.7 300.1h0M384.0 295.0h0M384.0 299.8h0M387.4 294.9h0M387.4 299.6h0M390.9 294.9h0M390.9 299.3h0M393.8 294.7h0M393.8 299.2h0M397.4 294.9h0M397.4 299.6h0M400.2 294.9h0M400.2 300.0h0M404.0 294.6h0M404.0 300.0h0M407.3 294.2h0M407.3 299.5h0M409.6 294.1h0M409.6 299.5h0M413.7 294.9h0M413.7 299.2h0M416.1 294.5h0M416.1 300.0h0M419.8 295.0h0M419.8 299.2h0M423.5 294.3h0M423.5 299.7h0M314.6 365.8h0M314.6 368.7h0M317.5 365.5h0M317.5 368.5h0M320.3 365.4h0M320.3 369.1h0M323.4 365.7h0M323.4 369.2h0M326.5 365.2h0M326.5 369.2h0M330.1 365.2h0M330.1 368.6h0M333.8 365.7h0M333.8 368.9h0M336.1 366.1h0M336.1 369.2h0M340.0 365.4h0M340.0 368.8h0M342.8 365.2h0M342.8 369.2h0M346.0 365.9h0M346.0 368.9h0M349.2 365.6h0M349.2 369.5h0M352.3 365.8h0M352.3 368.8h0M355.8 365.4h0M355.8 369.4h0M358.6 365.9h0M358.6 369.2h0M362.0 366.0h0M362.0 368.9h0M365.6 365.7h0M365.6 369.0h0M368.0 365.5h0M368.0 368.8h0M371.6 366.0h0M371.6 368.8h0M375.1 365.8h0M375.1 368.8h0M378.0 365.2h0M378.0 369.4h0M381.0 365.5h0M381.0 368.9h0M384.9 365.9h0M384.9 369.1h0M387.8 365.2h0M387.8 369.4h0M390.4 365.4h0M390.4 368.9h0M394.4 365.7h0M394.4 368.9h0M397.8 366.0h0M397.8 368.5h0M400.7 365.5h0M400.7 368.9h0M403.7 365.4h0M403.7 369.2h0M407.0 366.1h0M407.0 369.5h0M410.7 365.5h0M410.7 369.3h0M413.5 365.8h0M413.5 369.5h0M416.0 365.5h0M416.0 368.9h0M419.9 365.3h0M419.9 369.5h0M422.6 365.4h0M422.6 368.7h0M334.5 227.1h0M337.7 227.1h0M334.5 230.0h0M338.2 230.0h0M334.1 233.9h0M338.4 233.9h0M334.6 237.1h0M337.7 237.1h0M333.8 240.0h0M338.5 240.0h0M334.7 243.7h0M337.6 243.7h0M334.3 246.2h0M338.1 246.2h0M334.6 249.1h0M337.9 249.1h0M333.9 252.8h0M338.2 252.8h0M333.9 255.6h0M338.1 255.6h0M334.6 259.0h0M337.8 259.0h0M333.9 262.3h0M337.8 262.3h0M334.4 265.5h0M338.1 265.5h0M333.9 269.2h0M338.4 269.2h0M334.8 271.6h0M338.1 271.6h0M334.4 275.1h0M338.5 275.1h0M334.2 279.0h0M337.6 279.0h0M334.6 281.2h0M338.3 281.2h0M334.0 285.1h0M338.1 285.1h0M333.9 287.4h0M337.9 287.4h0M334.5 291.8h0M338.4 291.8h0M334.2 293.9h0M337.7 293.9h0M333.9 297.3h0M338.5 297.3h0M334.3 300.6h0M338.2 300.6h0M334.8 304.5h0M338.2 304.5h0M334.7 307.2h0M338.0 307.2h0M334.5 310.2h0M337.9 310.2h0M334.2 313.4h0M338.1 313.4h0M334.2 316.6h0M338.0 316.6h0M334.6 319.5h0M337.7 319.5h0M334.4 323.2h0M338.0 323.2h0M333.9 326.1h0M338.0 326.1h0M334.3 329.4h0M337.8 329.4h0M334.3 333.1h0M337.6 333.1h0M334.8 335.9h0M337.6 335.9h0M334.8 339.3h0M338.0 339.3h0M334.2 342.5h0M337.9 342.5h0M334.4 345.7h0M337.9 345.7h0M334.3 348.8h0M338.3 348.8h0M333.9 351.5h0M337.8 351.5h0M334.6 354.9h0M338.0 354.9h0M334.2 358.8h0M337.9 358.8h0M333.9 361.8h0M338.6 361.8h0M334.1 365.2h0M337.9 365.2h0M334.6 368.4h0M338.2 368.4h0M395.7 226.7h0M398.6 226.7h0M395.4 230.5h0M399.4 230.5h0M394.9 233.8h0M399.4 233.8h0M395.5 237.1h0M398.5 237.1h0M395.3 240.3h0M399.2 240.3h0M395.8 243.8h0M398.6 243.8h0M395.3 246.7h0M399.3 246.7h0M395.3 249.5h0M398.9 249.5h0M395.2 252.3h0M399.2 252.3h0M395.0 255.5h0M399.3 255.5h0M395.4 259.4h0M398.6 259.4h0M395.2 261.9h0M399.5 261.9h0M395.8 265.7h0M398.7 265.7h0M395.4 268.7h0M399.3 268.7h0M395.8 271.5h0M399.0 271.5h0M395.3 274.6h0M398.9 274.6h0M395.8 278.6h0M399.0 278.6h0M395.3 281.8h0M399.3 281.8h0M395.6 284.3h0M398.7 284.3h0M395.1 288.1h0M398.9 288.1h0M395.2 290.8h0M399.1 290.8h0M395.3 294.4h0M399.1 294.4h0M395.3 298.0h0M399.1 298.0h0M395.9 300.8h0M398.8 300.8h0M395.1 304.2h0M398.8 304.2h0M395.5 307.5h0M398.8 307.5h0M395.7 309.9h0M398.9 309.9h0M395.3 313.9h0M399.1 313.9h0M395.9 316.9h0M399.4 316.9h0M395.4 319.9h0M398.7 319.9h0M395.0 323.5h0M398.8 323.5h0M394.9 326.8h0M399.2 326.8h0M395.4 329.7h0M398.8 329.7h0M395.8 332.4h0M399.3 332.4h0M395.0 336.4h0M399.3 336.4h0M395.1 338.9h0M399.0 338.9h0M395.0 342.5h0M399.3 342.5h0M395.8 345.7h0M399.4 345.7h0M395.3 349.0h0M399.5 349.0h0M395.2 352.3h0M399.4 352.3h0M395.2 355.5h0M398.8 355.5h0M395.4 357.8h0M398.8 357.8h0M395.1 361.4h0M398.6 361.4h0M395.2 364.8h0M398.8 364.8h0M395.4 367.7h0M399.4 367.7h0" stroke="#5a5a5a" stroke-width="3.4" stroke-linecap="round" fill="none"/>
<path d="M313.8 226.7h0M313.8 229.1h0M316.4 226.3h0M316.4 228.4h0M320.5 226.4h0M320.5 228.8h0M322.7 226.4h0M322.7 228.3h0M326.5 226.3h0M326.5 228.9h0M329.3 226.3h0M329.3 228.8h0M332.6 226.4h0M332.6 228.3h0M335.5 227.0h0M335.5 228.6h0M338.7 226.3h0M338.7 228.8h0M343.0 226.3h0M343.0 229.1h0M345.6 226.5h0M345.6 229.1h0M348.7 226.2h0M348.7 228.8h0M352.2 226.7h0M352.2 228.6h0M355.7 227.0h0M355.7 229.3h0M358.3 227.0h0M358.3 229.0h0M361.2 226.1h0M361.2 228.4h0M364.3 226.2h0M364.3 228.6h0M368.3 226.4h0M368.3 228.8h0M370.6 226.3h0M370.6 229.2h0M373.8 226.6h0M373.8 229.1h0M378.0 226.9h0M378.0 228.7h0M381.2 226.9h0M381.2 229.0h0M384.6 226.2h0M384.6 229.2h0M387.1 226.8h0M387.1 228.5h0M390.9 226.1h0M390.9 228.9h0M393.3 226.5h0M393.3 228.6h0M397.0 226.9h0M397.0 228.6h0M400.2 226.5h0M400.2 228.6h0M403.7 226.4h0M403.7 228.4h0M406.2 226.9h0M406.2 228.5h0M409.9 226.7h0M409.9 229.0h0M412.4 226.2h0M412.4 228.4h0M415.8 226.6h0M415.8 228.3h0M419.2 226.5h0M419.2 228.6h0M422.4 227.1h0M422.4 228.5h0M314.1 293.8h0M314.1 299.3h0M316.3 294.5h0M316.3 299.0h0M320.6 293.7h0M320.6 298.9h0M323.4 293.7h0M323.4 298.8h0M326.6 294.4h0M326.6 298.8h0M329.2 293.8h0M329.2 299.5h0M332.4 294.1h0M332.4 298.9h0M336.2 293.7h0M336.2 299.1h0M339.7 294.3h0M339.7 299.1h0M342.4 294.0h0M342.4 298.6h0M346.0 294.2h0M346.0 299.0h0M349.0 293.9h0M349.0 298.9h0M351.7 294.1h0M351.7 299.1h0M355.2 293.5h0M355.2 299.1h0M358.3 294.1h0M358.3 299.1h0M362.1 293.6h0M362.1 299.0h0M365.4 294.2h0M365.4 298.8h0M368.3 294.5h0M368.3 298.9h0M371.6 293.6h0M371.6 299.5h0M374.4 293.7h0M374.4 299.4h0M377.8 294.4h0M377.8 299.3h0M381.2 294.0h0M381.2 299.5h0M383.5 294.4h0M383.5 299.2h0M386.9 294.3h0M386.9 299.0h0M390.4 294.3h0M390.4 298.7h0M393.3 294.1h0M393.3 298.6h0M396.9 294.3h0M396.9 299.0h0M399.7 294.3h0M399.7 299.4h0M403.5 294.0h0M403.5 299.4h0M406.8 293.6h0M406.8 298.9h0M409.1 293.5h0M409.1 298.9h0M413.2 294.3h0M413.2 298.6h0M415.6 293.9h0M415.6 299.4h0M419.3 294.4h0M419.3 298.6h0M423.0 293.7h0M423.0 299.1h0M314.1 365.2h0M314.1 368.1h0M317.0 364.9h0M317.0 367.9h0M319.8 364.8h0M319.8 368.5h0M322.9 365.1h0M322.9 368.6h0M326.0 364.6h0M326.0 368.6h0M329.6 364.6h0M329.6 368.0h0M333.3 365.1h0M333.3 368.3h0M335.6 365.5h0M335.6 368.6h0M339.5 364.8h0M339.5 368.2h0M342.3 364.6h0M342.3 368.6h0M345.5 365.3h0M345.5 368.3h0M348.7 365.0h0M348.7 368.9h0M351.8 365.2h0M351.8 368.2h0M355.3 364.8h0M355.3 368.8h0M358.1 365.3h0M358.1 368.6h0M361.5 365.4h0M361.5 368.3h0M365.1 365.1h0M365.1 368.4h0M367.5 364.9h0M367.5 368.2h0M371.1 365.4h0M371.1 368.2h0M374.6 365.2h0M374.6 368.2h0M377.5 364.6h0M377.5 368.8h0M380.5 364.9h0M380.5 368.3h0M384.4 365.3h0M384.4 368.5h0M387.3 364.6h0M387.3 368.8h0M389.9 364.8h0M389.9 368.3h0M393.9 365.1h0M393.9 368.3h0M397.3 365.4h0M397.3 367.9h0M400.2 364.9h0M400.2 368.3h0M403.2 364.8h0M403.2 368.6h0M406.5 365.5h0M406.5 368.9h0M410.2 364.9h0M410.2 368.7h0M413.0 365.2h0M413.0 368.9h0M415.5 364.9h0M415.5 368.3h0M419.4 364.7h0M419.4 368.9h0M422.1 364.8h0M422.1 368.1h0M334.0 226.5h0M337.2 226.5h0M334.0 229.4h0M337.7 229.4h0M333.6 233.3h0M337.9 233.3h0M334.1 236.5h0M337.2 236.5h0M333.3 239.4h0M338.0 239.4h0M334.2 243.1h0M337.1 243.1h0M333.8 245.6h0M337.6 245.6h0M334.1 248.5h0M337.4 248.5h0M333.4 252.2h0M337.7 252.2h0M333.4 255.0h0M337.6 255.0h0M334.1 258.4h0M337.3 258.4h0M333.4 261.7h0M337.3 261.7h0M333.9 264.9h0M337.6 264.9h0M333.4 268.6h0M337.9 268.6h0M334.3 271.0h0M337.6 271.0h0M333.9 274.5h0M338.0 274.5h0M333.7 278.4h0M337.1 278.4h0M334.1 280.6h0M337.8 280.6h0M333.5 284.5h0M337.6 284.5h0M333.4 286.8h0M337.4 286.8h0M334.0 291.2h0M337.9 291.2h0M333.7 293.3h0M337.2 293.3h0M333.4 296.7h0M338.0 296.7h0M333.8 300.0h0M337.7 300.0h0M334.3 303.9h0M337.7 303.9h0M334.2 306.6h0M337.5 306.6h0M334.0 309.6h0M337.4 309.6h0M333.7 312.8h0M337.6 312.8h0M333.7 316.0h0M337.5 316.0h0M334.1 318.9h0M337.2 318.9h0M333.9 322.6h0M337.5 322.6h0M333.4 325.5h0M337.5 325.5h0M333.8 328.8h0M337.3 328.8h0M333.8 332.5h0M337.1 332.5h0M334.3 335.3h0M337.1 335.3h0M334.3 338.7h0M337.5 338.7h0M333.7 341.9h0M337.4 341.9h0M333.9 345.1h0M337.4 345.1h0M333.8 348.2h0M337.8 348.2h0M333.4 350.9h0M337.3 350.9h0M334.1 354.3h0M337.5 354.3h0M333.7 358.2h0M337.4 358.2h0M333.4 361.2h0M338.1 361.2h0M333.6 364.6h0M337.4 364.6h0M334.1 367.8h0M337.7 367.8h0M395.2 226.1h0M398.1 226.1h0M394.9 229.9h0M398.9 229.9h0M394.4 233.2h0M398.9 233.2h0M395.0 236.5h0M398.0 236.5h0M394.8 239.7h0M398.7 239.7h0M395.3 243.2h0M398.1 243.2h0M394.8 246.1h0M398.8 246.1h0M394.8 248.9h0M398.4 248.9h0M394.7 251.7h0M398.7 251.7h0M394.5 254.9h0M398.8 254.9h0M394.9 258.8h0M398.1 258.8h0M394.7 261.3h0M399.0 261.3h0M395.3 265.1h0M398.2 265.1h0M394.9 268.1h0M398.8 268.1h0M395.3 270.9h0M398.5 270.9h0M394.8 274.0h0M398.4 274.0h0M395.3 278.0h0M398.5 278.0h0M394.8 281.2h0M398.8 281.2h0M395.1 283.7h0M398.2 283.7h0M394.6 287.5h0M398.4 287.5h0M394.7 290.2h0M398.6 290.2h0M394.8 293.8h0M398.6 293.8h0M394.8 297.4h0M398.6 297.4h0M395.4 300.2h0M398.3 300.2h0M394.6 303.6h0M398.3 303.6h0M395.0 306.9h0M398.3 306.9h0M395.2 309.3h0M398.4 309.3h0M394.8 313.3h0M398.6 313.3h0M395.4 316.3h0M398.9 316.3h0M394.9 319.3h0M398.2 319.3h0M394.5 322.9h0M398.3 322.9h0M394.4 326.2h0M398.7 326.2h0M394.9 329.1h0M398.3 329.1h0M395.3 331.8h0M398.8 331.8h0M394.5 335.8h0M398.8 335.8h0M394.6 338.3h0M398.5 338.3h0M394.5 341.9h0M398.8 341.9h0M395.3 345.1h0M398.9 345.1h0M394.8 348.4h0M399.0 348.4h0M394.7 351.7h0M398.9 351.7h0M394.7 354.9h0M398.3 354.9h0M394.9 357.2h0M398.3 357.2h0M394.6 360.8h0M398.1 360.8h0M394.7 364.2h0M398.3 364.2h0M394.9 367.1h0M398.9 367.1h0" stroke="#c8c8c8" stroke-width="3.0" stroke-linecap="round" fill="none"/>
<path d="M313.3 226.2h0M313.3 228.6h0M315.9 225.8h0M315.9 227.9h0M320.0 225.9h0M320.0 228.3h0M322.2 225.9h0M322.2 227.8h0M326.0 225.8h0M326.0 228.4h0M328.8 225.8h0M328.8 228.3h0M332.1 225.9h0M332.1 227.8h0M335.0 226.5h0M335.0 228.1h0M338.2 225.8h0M338.2 228.3h0M342.5 225.8h0M342.5 228.6h0M345.1 226.0h0M345.1 228.6h0M348.2 225.7h0M348.2 228.3h0M351.7 226.2h0M351.7 228.1h0M355.2 226.5h0M355.2 228.8h0M357.8 226.5h0M357.8 228.5h0M360.7 225.6h0M360.7 227.9h0M363.8 225.7h0M363.8 228.1h0M367.8 225.9h0M367.8 228.3h0M370.1 225.8h0M370.1 228.7h0M373.3 226.1h0M373.3 228.6h0M377.5 226.4h0M377.5 228.2h0M380.7 226.4h0M380.7 228.5h0M384.1 225.7h0M384.1 228.7h0M386.6 226.3h0M386.6 228.0h0M390.4 225.6h0M390.4 228.4h0M392.8 226.0h0M392.8 228.1h0M396.5 226.4h0M396.5 228.1h0M399.7 226.0h0M399.7 228.1h0M403.2 225.9h0M403.2 227.9h0M405.7 226.4h0M405.7 228.0h0M409.4 226.2h0M409.4 228.5h0M411.9 225.7h0M411.9 227.9h0M415.3 226.1h0M415.3 227.8h0M418.7 226.0h0M418.7 228.1h0M421.9 226.6h0M421.9 228.0h0M313.6 293.3h0M313.6 298.8h0M315.8 294.0h0M315.8 298.5h0M320.1 293.2h0M320.1 298.4h0M322.9 293.2h0M322.9 298.3h0M326.1 293.9h0M326.1 298.3h0M328.7 293.3h0M328.7 299.0h0M331.9 293.6h0M331.9 298.4h0M335.7 293.2h0M335.7 298.6h0M339.2 293.8h0M339.2 298.6h0M341.9 293.5h0M341.9 298.1h0M345.5 293.7h0M345.5 298.5h0M348.5 293.4h0M348.5 298.4h0M351.2 293.6h0M351.2 298.6h0M354.7 293.0h0M354.7 298.6h0M357.8 293.6h0M357.8 298.6h0M361.6 293.1h0M361.6 298.5h0M364.9 293.7h0M364.9 298.3h0M367.8 294.0h0M367.8 298.4h0M371.1 293.1h0M371.1 299.0h0M373.9 293.2h0M373.9 298.9h0M377.3 293.9h0M377.3 298.8h0M380.7 293.5h0M380.7 299.0h0M383.0 293.9h0M383.0 298.7h0M386.4 293.8h0M386.4 298.5h0M389.9 293.8h0M389.9 298.2h0M392.8 293.6h0M392.8 298.1h0M396.4 293.8h0M396.4 298.5h0M399.2 293.8h0M399.2 298.9h0M403.0 293.5h0M403.0 298.9h0M406.3 293.1h0M406.3 298.4h0M408.6 293.0h0M408.6 298.4h0M412.7 293.8h0M412.7 298.1h0M415.1 293.4h0M415.1 298.9h0M418.8 293.9h0M418.8 298.1h0M422.5 293.2h0M422.5 298.6h0M313.6 364.7h0M313.6 367.6h0M316.5 364.4h0M316.5 367.4h0M319.3 364.3h0M319.3 368.0h0M322.4 364.6h0M322.4 368.1h0M325.5 364.1h0M325.5 368.1h0M329.1 364.1h0M329.1 367.5h0M332.8 364.6h0M332.8 367.8h0M335.1 365.0h0M335.1 368.1h0M339.0 364.3h0M339.0 367.7h0M341.8 364.1h0M341.8 368.1h0M345.0 364.8h0M345.0 367.8h0M348.2 364.5h0M348.2 368.4h0M351.3 364.7h0M351.3 367.7h0M354.8 364.3h0M354.8 368.3h0M357.6 364.8h0M357.6 368.1h0M361.0 364.9h0M361.0 367.8h0M364.6 364.6h0M364.6 367.9h0M367.0 364.4h0M367.0 367.7h0M370.6 364.9h0M370.6 367.7h0M374.1 364.7h0M374.1 367.7h0M377.0 364.1h0M377.0 368.3h0M380.0 364.4h0M380.0 367.8h0M383.9 364.8h0M383.9 368.0h0M386.8 364.1h0M386.8 368.3h0M389.4 364.3h0M389.4 367.8h0M393.4 364.6h0M393.4 367.8h0M396.8 364.9h0M396.8 367.4h0M399.7 364.4h0M399.7 367.8h0M402.7 364.3h0M402.7 368.1h0M406.0 365.0h0M406.0 368.4h0M409.7 364.4h0M409.7 368.2h0M412.5 364.7h0M412.5 368.4h0M415.0 364.4h0M415.0 367.8h0M418.9 364.2h0M418.9 368.4h0M421.6 364.3h0M421.6 367.6h0M333.5 226.0h0M336.7 226.0h0M333.5 228.9h0M337.2 228.9h0M333.1 232.8h0M337.4 232.8h0M333.6 236.0h0M336.7 236.0h0M332.8 238.9h0M337.5 238.9h0M333.7 242.6h0M336.6 242.6h0M333.3 245.1h0M337.1 245.1h0M333.6 248.0h0M336.9 248.0h0M332.9 251.7h0M337.2 251.7h0M332.9 254.5h0M337.1 254.5h0M333.6 257.9h0M336.8 257.9h0M332.9 261.2h0M336.8 261.2h0M333.4 264.4h0M337.1 264.4h0M332.9 268.1h0M337.4 268.1h0M333.8 270.5h0M337.1 270.5h0M333.4 274.0h0M337.5 274.0h0M333.2 277.9h0M336.6 277.9h0M333.6 280.1h0M337.3 280.1h0M333.0 284.0h0M337.1 284.0h0M332.9 286.3h0M336.9 286.3h0M333.5 290.7h0M337.4 290.7h0M333.2 292.8h0M336.7 292.8h0M332.9 296.2h0M337.5 296.2h0M333.3 299.5h0M337.2 299.5h0M333.8 303.4h0M337.2 303.4h0M333.7 306.1h0M337.0 306.1h0M333.5 309.1h0M336.9 309.1h0M333.2 312.3h0M337.1 312.3h0M333.2 315.5h0M337.0 315.5h0M333.6 318.4h0M336.7 318.4h0M333.4 322.1h0M337.0 322.1h0M332.9 325.0h0M337.0 325.0h0M333.3 328.3h0M336.8 328.3h0M333.3 332.0h0M336.6 332.0h0M333.8 334.8h0M336.6 334.8h0M333.8 338.2h0M337.0 338.2h0M333.2 341.4h0M336.9 341.4h0M333.4 344.6h0M336.9 344.6h0M333.3 347.7h0M337.3 347.7h0M332.9 350.4h0M336.8 350.4h0M333.6 353.8h0M337.0 353.8h0M333.2 357.7h0M336.9 357.7h0M332.9 360.7h0M337.6 360.7h0M333.1 364.1h0M336.9 364.1h0M333.6 367.3h0M337.2 367.3h0M394.7 225.6h0M397.6 225.6h0M394.4 229.4h0M398.4 229.4h0M393.9 232.7h0M398.4 232.7h0M394.5 236.0h0M397.5 236.0h0M394.3 239.2h0M398.2 239.2h0M394.8 242.7h0M397.6 242.7h0M394.3 245.6h0M398.3 245.6h0M394.3 248.4h0M397.9 248.4h0M394.2 251.2h0M398.2 251.2h0M394.0 254.4h0M398.3 254.4h0M394.4 258.3h0M397.6 258.3h0M394.2 260.8h0M398.5 260.8h0M394.8 264.6h0M397.7 264.6h0M394.4 267.6h0M398.3 267.6h0M394.8 270.4h0M398.0 270.4h0M394.3 273.5h0M397.9 273.5h0M394.8 277.5h0M398.0 277.5h0M394.3 280.7h0M398.3 280.7h0M394.6 283.2h0M397.7 283.2h0M394.1 287.0h0M397.9 287.0h0M394.2 289.7h0M398.1 289.7h0M394.3 293.3h0M398.1 293.3h0M394.3 296.9h0M398.1 296.9h0M394.9 299.7h0M397.8 299.7h0M394.1 303.1h0M397.8 303.1h0M394.5 306.4h0M397.8 306.4h0M394.7 308.8h0M397.9 308.8h0M394.3 312.8h0M398.1 312.8h0M394.9 315.8h0M398.4 315.8h0M394.4 318.8h0M397.7 318.8h0M394.0 322.4h0M397.8 322.4h0M393.9 325.7h0M398.2 325.7h0M394.4 328.6h0M397.8 328.6h0M394.8 331.3h0M398.3 331.3h0M394.0 335.3h0M398.3 335.3h0M394.1 337.8h0M398.0 337.8h0M394.0 341.4h0M398.3 341.4h0M394.8 344.6h0M398.4 344.6h0M394.3 347.9h0M398.5 347.9h0M394.2 351.2h0M398.4 351.2h0M394.2 354.4h0M397.8 354.4h0M394.4 356.7h0M397.8 356.7h0M394.1 360.3h0M397.6 360.3h0M394.2 363.7h0M397.8 363.7h0M394.4 366.6h0M398.4 366.6h0" stroke="#ececec" stroke-width="1.4" stroke-linecap="round" fill="none"/>
<clipPath id="dclip"><rect x="312.0" y="225.0" width="219.0" height="146.0"/></clipPath>
<g clip-path="url(#dclip)">
<rect x="306.0" y="230.0" width="25.4" height="26.4" rx="5" fill="#fff" stroke="#111" stroke-width="1.9"/>
<rect x="306.0" y="266.4" width="25.4" height="24.2" rx="5" fill="#fff" stroke="#111" stroke-width="1.9"/>
<rect x="306.0" y="302.6" width="25.4" height="25.2" rx="5" fill="#fff" stroke="#111" stroke-width="1.9"/>
<rect x="306.0" y="338.6" width="25.4" height="24.2" rx="5" fill="#fff" stroke="#111" stroke-width="1.9"/>
<rect x="343.2" y="230.0" width="49.4" height="26.4" rx="5" fill="#fff" stroke="#111" stroke-width="1.9"/>
<rect x="343.2" y="266.4" width="49.4" height="24.2" rx="5" fill="#fff" stroke="#111" stroke-width="1.9"/>
<rect x="343.2" y="302.6" width="49.4" height="25.2" rx="5" fill="#fff" stroke="#111" stroke-width="1.9"/>
<rect x="343.2" y="338.6" width="49.4" height="24.2" rx="5" fill="#fff" stroke="#111" stroke-width="1.9"/>
<rect x="404.3" y="230.0" width="47.9" height="26.4" rx="5" fill="#fff" stroke="#111" stroke-width="1.9"/>
<rect x="404.3" y="266.4" width="47.9" height="24.2" rx="5" fill="#fff" stroke="#111" stroke-width="1.9"/>
<rect x="404.3" y="302.6" width="47.9" height="25.2" rx="5" fill="#fff" stroke="#111" stroke-width="1.9"/>
<rect x="404.3" y="338.6" width="47.9" height="24.2" rx="5" fill="#fff" stroke="#111" stroke-width="1.9"/>
<rect x="464.9" y="230.0" width="48.9" height="26.4" rx="5" fill="#fff" stroke="#0a0a50" stroke-width="1.3"/>
<rect x="464.9" y="266.4" width="48.9" height="24.2" rx="5" fill="#fff" stroke="#0a0a50" stroke-width="1.3"/>
<rect x="464.9" y="302.6" width="48.9" height="25.2" rx="5" fill="#fff" stroke="#0a0a50" stroke-width="1.3"/>
<rect x="464.9" y="338.6" width="48.9" height="24.2" rx="5" fill="#fff" stroke="#0a0a50" stroke-width="1.3"/>
</g>
<rect x="310.3" y="257.2" width="9.199999999999989" height="8.6" rx="4.3" fill="url(#pillG)"/>
<rect x="350.0" y="257.2" width="28.5" height="8.6" rx="4.3" fill="url(#pill)"/>
<circle cx="415.5" cy="261.5" r="3.9" fill="url(#sphere)"/>
<circle cx="423.0" cy="261.5" r="3.9" fill="url(#sphere)"/>
<rect x="437.5" y="257.0" width="17.5" height="9" rx="4.5" fill="url(#pillD)"/>
<circle cx="465.5" cy="261.5" r="4.0" fill="url(#sphere)"/>
<circle cx="472.5" cy="261.5" r="4.0" fill="url(#sphere)"/>
<circle cx="479.5" cy="261.5" r="4.0" fill="url(#sphere)"/>
<circle cx="487.0" cy="261.5" r="4.0" fill="url(#sphere)"/>
<rect x="499.0" y="257.0" width="17.5" height="9" rx="4.5" fill="url(#pillD)"/>
<circle cx="528.0" cy="261.5" r="4.0" fill="url(#sphere)"/>
<rect x="310.3" y="328.9" width="9.199999999999989" height="8.6" rx="4.3" fill="url(#pillG)"/>
<rect x="350.0" y="328.9" width="28.5" height="8.6" rx="4.3" fill="url(#pill)"/>
<circle cx="415.5" cy="333.2" r="3.9" fill="url(#sphere)"/>
<circle cx="423.0" cy="333.2" r="3.9" fill="url(#sphere)"/>
<rect x="437.5" y="328.7" width="17.5" height="9" rx="4.5" fill="url(#pillD)"/>
<circle cx="465.5" cy="333.2" r="4.0" fill="url(#sphere)"/>
<circle cx="472.5" cy="333.2" r="4.0" fill="url(#sphere)"/>
<circle cx="479.5" cy="333.2" r="4.0" fill="url(#sphere)"/>
<circle cx="487.0" cy="333.2" r="4.0" fill="url(#sphere)"/>
<rect x="499.0" y="328.7" width="17.5" height="9" rx="4.5" fill="url(#pillD)"/>
<circle cx="528.0" cy="333.2" r="4.0" fill="url(#sphere)"/>
<circle cx="454.5" cy="224.7" r="3.0" fill="url(#sphere)"/>
<circle cx="454.5" cy="230.3" r="3.0" fill="url(#sphere)"/>
<circle cx="515.8" cy="224.7" r="3.0" fill="url(#sphere)"/>
<circle cx="515.8" cy="230.3" r="3.0" fill="url(#sphere)"/>
<rect x="471.0" y="224.0" width="14.5" height="7" rx="3.5" fill="url(#pill)"/>
<circle cx="454.5" cy="293.7" r="3.0" fill="url(#sphere)"/>
<circle cx="454.5" cy="299.3" r="3.0" fill="url(#sphere)"/>
<circle cx="515.8" cy="293.7" r="3.0" fill="url(#sphere)"/>
<circle cx="515.8" cy="299.3" r="3.0" fill="url(#sphere)"/>
<rect x="471.0" y="293.0" width="14.5" height="7" rx="3.5" fill="url(#pill)"/>
<circle cx="454.5" cy="364.0" r="3.0" fill="url(#sphere)"/>
<circle cx="454.5" cy="369.6" r="3.0" fill="url(#sphere)"/>
<circle cx="515.8" cy="364.0" r="3.0" fill="url(#sphere)"/>
<circle cx="515.8" cy="369.6" r="3.0" fill="url(#sphere)"/>
<rect x="471.0" y="363.3" width="14.5" height="7" rx="3.5" fill="url(#pill)"/>
<circle cx="332.0" cy="227.9" r="1.3" fill="#e01818"/>
<circle cx="341.0" cy="227.9" r="1.3" fill="#e01818"/>
<circle cx="332.0" cy="293.3" r="1.3" fill="#e01818"/>
<circle cx="332.0" cy="299.7" r="1.3" fill="#e01818"/>
<circle cx="341.0" cy="293.3" r="1.3" fill="#e01818"/>
<circle cx="341.0" cy="299.7" r="1.3" fill="#e01818"/>
<circle cx="332.0" cy="363.6" r="1.3" fill="#e01818"/>
<circle cx="332.0" cy="370.0" r="1.3" fill="#e01818"/>
<circle cx="341.0" cy="363.6" r="1.3" fill="#e01818"/>
<circle cx="341.0" cy="370.0" r="1.3" fill="#e01818"/>
<circle cx="337.3" cy="249.5" r="1.2" fill="#e01818"/>
<circle cx="337.3" cy="272" r="1.2" fill="#e01818"/>
<circle cx="337.3" cy="286" r="1.2" fill="#e01818"/>
<circle cx="337.3" cy="320" r="1.2" fill="#e01818"/>
<circle cx="337.3" cy="344" r="1.2" fill="#e01818"/>
<circle cx="337.3" cy="357" r="1.2" fill="#e01818"/>
<circle cx="392.5" cy="227.9" r="1.3" fill="#e01818"/>
<circle cx="401.5" cy="227.9" r="1.3" fill="#e01818"/>
<circle cx="392.5" cy="293.3" r="1.3" fill="#e01818"/>
<circle cx="392.5" cy="299.7" r="1.3" fill="#e01818"/>
<circle cx="401.5" cy="293.3" r="1.3" fill="#e01818"/>
<circle cx="401.5" cy="299.7" r="1.3" fill="#e01818"/>
<circle cx="392.5" cy="363.6" r="1.3" fill="#e01818"/>
<circle cx="392.5" cy="370.0" r="1.3" fill="#e01818"/>
<circle cx="401.5" cy="363.6" r="1.3" fill="#e01818"/>
<circle cx="401.5" cy="370.0" r="1.3" fill="#e01818"/>
<circle cx="397.8" cy="249.5" r="1.2" fill="#e01818"/>
<circle cx="397.8" cy="272" r="1.2" fill="#e01818"/>
<circle cx="397.8" cy="286" r="1.2" fill="#e01818"/>
<circle cx="397.8" cy="320" r="1.2" fill="#e01818"/>
<circle cx="397.8" cy="344" r="1.2" fill="#e01818"/>
<circle cx="397.8" cy="357" r="1.2" fill="#e01818"/>
</svg>
</body></html>
